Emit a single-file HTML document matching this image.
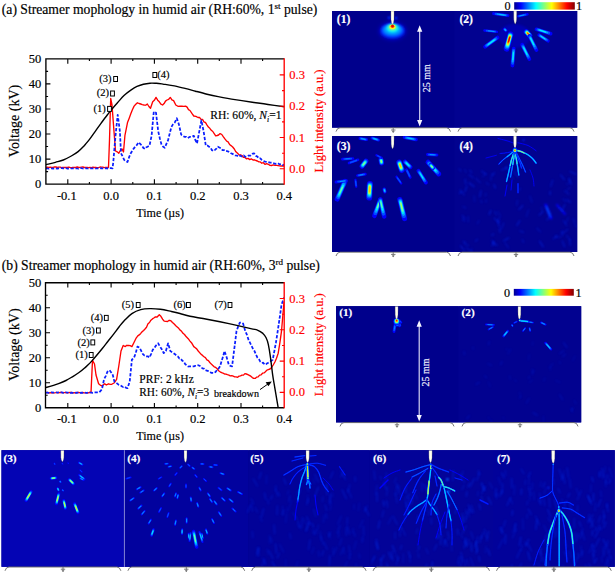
<!DOCTYPE html><html><head><meta charset="utf-8"><style>html,body{margin:0;padding:0;background:#fff;width:616px;height:575px;overflow:hidden}svg{display:block}text{stroke-width:0.18px}</style></head><body>
<svg width="616" height="575" viewBox="0 0 616 575">
<defs>
<linearGradient id="jet" x1="0" x2="1" y1="0" y2="0">
<stop offset="0" stop-color="#00008f"/><stop offset="0.11" stop-color="#0000ff"/><stop offset="0.36" stop-color="#00ffff"/><stop offset="0.62" stop-color="#ffff00"/><stop offset="0.87" stop-color="#ff0000"/><stop offset="1" stop-color="#800000"/>
</linearGradient>
<filter id="b1" filterUnits="userSpaceOnUse" x="0" y="0" width="616" height="575"><feGaussianBlur stdDeviation="1.2"/></filter>
<filter id="b2" filterUnits="userSpaceOnUse" x="0" y="0" width="616" height="575"><feGaussianBlur stdDeviation="0.7"/></filter>
<filter id="b3" filterUnits="userSpaceOnUse" x="0" y="0" width="616" height="575"><feGaussianBlur stdDeviation="2.2"/></filter>
<filter id="bs" filterUnits="userSpaceOnUse" x="0" y="0" width="616" height="575"><feGaussianBlur stdDeviation="0.85"/></filter>
<filter id="bf" filterUnits="userSpaceOnUse" x="0" y="0" width="616" height="575"><feGaussianBlur stdDeviation="0.45"/></filter>
<filter id="bm" filterUnits="userSpaceOnUse" x="0" y="0" width="616" height="575"><feGaussianBlur stdDeviation="1.1"/></filter>
</defs>
<text x="1.8" y="13.5" textLength="315.5" lengthAdjust="spacingAndGlyphs" style="font-family:'Liberation Serif',serif;font-size:13.6px" stroke="#000">(a) Streamer mophology in humid air (RH:60%, 1<tspan font-size="9" dy="-5">st</tspan><tspan dy="5"> pulse)</tspan></text>
<text x="1.8" y="270.1" textLength="318" lengthAdjust="spacingAndGlyphs" style="font-family:'Liberation Serif',serif;font-size:13.6px" stroke="#000">(b) Streamer mophology in humid air (RH:60%, 3<tspan font-size="9" dy="-5">rd</tspan><tspan dy="5"> pulse)</tspan></text>
<clipPath id="clip58"><rect x="45.9" y="58.9" width="238.29999999999998" height="125.19999999999999"/></clipPath>
<g clip-path="url(#clip58)" fill="none" stroke-linejoin="round">
<polyline points="46.0,167.3 47.4,167.1 48.8,167.3 50.3,167.2 51.7,167.4 53.1,167.4 54.5,167.0 55.9,167.0 57.4,167.5 58.8,167.1 60.2,167.1 61.6,167.6 63.0,167.3 64.5,167.5 65.9,167.3 67.3,167.4 68.7,167.1 70.1,167.4 71.6,167.6 73.0,167.3 74.4,167.5 75.8,167.4 77.2,167.0 78.7,167.5 80.1,167.4 81.5,167.2 82.9,167.0 84.4,167.5 85.8,167.3 87.2,167.4 88.6,167.6 90.0,167.4 91.5,167.6 92.9,167.2 94.3,167.5 95.7,167.3 97.1,167.6 98.6,167.6 100.0,167.0 101.4,167.1 102.8,167.1 104.2,167.6 105.7,167.3 107.1,167.4 108.5,167.3 109.5,140.0 110.7,98.5 112.0,105.0 113.5,125.0 115.5,151.0 117.2,151.8 118.8,153.2 120.0,151.0 122.0,148.9 123.5,152.0 124.9,135.7 127.5,122.6 129.2,118.2 130.8,113.8 132.4,109.8 134.1,106.1 135.8,104.2 137.4,102.8 139.1,103.5 140.7,104.0 142.3,104.6 144.0,105.0 145.7,105.2 147.3,104.0 148.9,106.5 150.5,108.3 152.7,101.8 154.3,100.3 156.0,97.4 157.7,100.2 159.3,101.8 160.9,104.2 162.6,105.0 164.1,103.6 165.5,101.1 167.0,100.0 168.7,99.3 170.3,97.4 171.9,99.8 173.6,100.6 175.8,105.0 177.9,106.3 180.0,106.2 181.9,106.2 183.7,106.3 185.6,106.2 187.1,107.1 188.5,109.6 190.0,110.5 191.9,113.4 193.8,116.0 195.9,116.4 198.0,117.5 199.5,117.4 201.0,119.3 202.5,119.3 204.0,122.0 205.4,122.3 206.9,124.8 208.4,127.1 209.8,128.3 211.3,130.3 212.8,131.5 214.2,133.6 215.7,135.8 217.2,135.5 218.6,135.0 220.1,133.6 221.8,134.5 223.4,136.9 225.1,139.2 226.7,141.2 228.1,141.9 229.6,144.5 231.0,145.6 232.7,147.0 234.3,149.0 235.9,151.8 237.6,153.3 239.1,154.9 240.5,154.8 242.0,155.5 243.5,157.4 244.9,157.4 246.4,158.8 248.1,158.4 249.7,159.6 251.3,158.9 253.0,160.0 254.5,159.8 255.9,160.5 257.4,161.0 258.9,161.9 260.3,161.9 261.8,163.2 263.4,162.7 265.1,164.4 266.7,163.7 268.3,164.3 270.0,165.4 271.6,165.5 273.3,164.9 275.0,165.4 276.5,165.4 278.0,165.6 279.5,165.9 281.0,166.0 282.5,166.0 284.0,166.0" stroke="#ff0000" stroke-width="1.35"/>
<polyline points="46.0,168.4 47.4,168.5 48.8,168.7 50.2,168.4 51.7,168.4 53.1,168.6 54.5,168.2 55.9,168.3 57.3,168.7 58.7,168.4 60.1,168.4 61.6,168.0 63.0,168.3 64.4,168.5 65.8,168.1 67.2,168.5 68.6,168.5 70.1,168.1 71.5,168.5 72.9,168.4 74.3,168.5 75.7,168.3 77.1,168.5 78.5,168.6 80.0,168.1 81.4,168.1 82.8,168.5 84.2,168.7 85.6,168.2 87.0,168.4 88.4,168.5 89.9,168.3 91.3,168.3 92.7,168.3 94.1,168.3 95.5,168.5 96.9,168.3 98.4,168.3 99.8,168.6 101.2,168.1 102.6,168.4 104.0,168.6 105.4,168.3 106.8,168.2 108.3,168.6 109.7,168.2 111.1,168.2 112.5,168.4 113.3,162.0 115.5,135.7 117.7,114.9 119.9,131.3 121.0,153.2 122.6,156.4 124.2,159.8 125.8,161.3 127.5,162.0 129.2,156.9 130.8,153.2 132.3,150.7 133.7,148.6 135.2,146.7 136.8,145.1 138.5,142.3 140.2,143.8 141.8,145.6 143.4,147.9 145.0,148.9 146.5,147.2 148.0,146.4 149.5,145.6 151.6,135.7 153.8,111.6 156.0,112.7 158.2,131.3 159.8,138.2 161.5,144.5 163.2,146.8 164.8,147.8 166.4,143.9 168.1,140.1 169.8,133.1 171.4,127.0 173.1,124.1 174.7,122.6 176.8,118.2 179.0,124.8 181.2,134.6 182.8,135.8 184.5,136.8 186.2,136.8 187.8,138.0 190.0,136.8 191.9,136.9 193.8,135.8 195.4,140.2 197.0,143.4 199.3,131.3 201.4,120.4 203.6,131.3 205.8,145.6 207.4,145.6 209.1,146.7 210.6,147.8 212.0,150.2 213.5,151.1 215.0,149.9 216.4,148.7 217.9,146.7 219.4,147.5 220.8,148.2 222.3,150.0 223.8,150.0 225.2,151.3 226.7,151.1 228.1,151.4 229.6,152.3 231.0,153.3 232.5,153.9 233.9,154.6 235.4,155.5 237.1,155.6 238.7,156.8 240.3,155.7 242.0,156.6 243.7,155.4 245.3,156.8 246.9,156.5 248.6,155.5 250.4,155.6 252.2,153.9 254.0,153.3 255.7,155.8 257.4,156.6 258.9,158.5 260.3,158.3 261.8,159.9 263.4,160.9 265.1,161.6 266.7,161.8 268.3,162.1 270.0,162.6 271.6,162.6 273.3,163.1 275.0,163.8 276.5,163.5 278.0,163.3 279.5,164.4 281.0,164.0 282.5,165.1 284.0,164.7" stroke="#0a1eff" stroke-width="1.75" stroke-dasharray="3.3,1.7"/>
<path d="M46.0,164.6 C47.6,164.2 52.5,163.1 55.4,162.3 C58.3,161.5 60.6,161.1 63.3,160.0 C66.0,158.9 68.8,157.4 71.3,156.0 C73.8,154.6 76.0,153.2 78.1,151.6 C80.2,150.0 81.9,148.2 83.8,146.2 C85.7,144.2 87.6,141.8 89.5,139.4 C91.4,137.0 93.2,134.2 95.1,131.6 C97.0,129.0 98.7,126.4 100.8,123.6 C102.9,120.8 105.8,116.8 107.6,114.5 C109.4,112.2 109.8,111.6 111.5,109.6 C113.2,107.6 115.4,105.0 117.5,102.7 C119.6,100.4 121.8,97.6 124.0,95.5 C126.2,93.4 128.3,91.8 130.5,90.3 C132.7,88.8 134.8,87.4 137.0,86.4 C139.2,85.4 141.2,84.7 143.4,84.2 C145.6,83.7 147.8,83.4 150.0,83.2 C152.2,83.0 154.2,83.2 156.4,83.3 C158.6,83.4 160.3,83.7 163.0,84.1 C165.7,84.5 169.0,84.9 172.7,85.6 C176.4,86.3 181.2,87.5 185.0,88.4 C188.8,89.3 191.8,90.2 195.5,91.2 C199.2,92.2 203.2,93.3 207.0,94.2 C210.8,95.1 213.5,95.7 218.2,96.6 C222.9,97.5 229.3,98.7 235.0,99.6 C240.7,100.5 246.8,101.4 252.3,102.2 C257.8,103.0 262.6,103.8 268.0,104.5 C273.4,105.2 281.8,106.3 284.5,106.7" stroke="#000" stroke-width="1.4"/>
</g>
<path d="M284.2,58.9 H45.9 V184.1 H284.2" fill="none" stroke="#000" stroke-width="1.35"/>
<path d="M284.2,58.3 V184.7" fill="none" stroke="#ff0000" stroke-width="1.35"/>
<path d="M67.8,184.1 v-4.8 M67.8,58.9 v4.8 M89.4,184.1 v-2.2 M89.4,58.9 v2.2 M111.1,184.1 v-4.8 M111.1,58.9 v4.8 M132.8,184.1 v-2.2 M132.8,58.9 v2.2 M154.4,184.1 v-4.8 M154.4,58.9 v4.8 M176.1,184.1 v-2.2 M176.1,58.9 v2.2 M197.7,184.1 v-4.8 M197.7,58.9 v4.8 M219.3,184.1 v-2.2 M219.3,58.9 v2.2 M241.0,184.1 v-4.8 M241.0,58.9 v4.8 M262.6,184.1 v-2.2 M262.6,58.9 v2.2 M45.9,171.6 h2.2 M45.9,159.1 h4.5 M45.9,146.5 h2.2 M45.9,134.0 h4.5 M45.9,121.5 h2.2 M45.9,109.0 h4.5 M45.9,96.5 h2.2 M45.9,83.9 h4.5 M45.9,71.4 h2.2" stroke="#000" stroke-width="1.1" fill="none"/>
<path d="M284.2,168.8 h-4.5 M284.2,153.2 h-2.2 M284.2,137.5 h-4.5 M284.2,121.9 h-2.2 M284.2,106.2 h-4.5 M284.2,90.6 h-2.2 M284.2,74.9 h-4.5" stroke="#ff0000" stroke-width="1.1" fill="none"/>
<g style="font-family:'Liberation Serif',serif;font-size:12.5px" fill="#000" stroke="#000" text-anchor="middle">
<text x="66.8" y="199.5">-0.1</text>
<text x="111.1" y="199.5">0.0</text>
<text x="154.4" y="199.5">0.1</text>
<text x="197.7" y="199.5">0.2</text>
<text x="241.0" y="199.5">0.3</text>
<text x="284.3" y="199.5">0.4</text>
</g>
<g style="font-family:'Liberation Serif',serif;font-size:12.5px" fill="#000" stroke="#000" text-anchor="end">
<text x="41.3" y="188.1">0</text>
<text x="41.3" y="163.1">10</text>
<text x="41.3" y="138.0">20</text>
<text x="41.3" y="113.0">30</text>
<text x="41.3" y="87.9">40</text>
<text x="41.3" y="62.9">50</text>
</g>
<g style="font-family:'Liberation Serif',serif;font-size:12.5px" fill="#ff0000" stroke="#ff0000" text-anchor="start">
<text x="289.3" y="172.8">0.0</text>
<text x="289.3" y="141.5">0.1</text>
<text x="289.3" y="110.2">0.2</text>
<text x="289.3" y="79.0">0.3</text>
</g>
<text x="136.3" y="216.5" textLength="47.7" lengthAdjust="spacingAndGlyphs" style="font-family:'Liberation Serif',serif;font-size:13.4px" stroke="#000">Time (&#181;s)</text>
<text transform="translate(18.6,121.0) rotate(-90)" text-anchor="middle" textLength="72.6" lengthAdjust="spacingAndGlyphs" style="font-family:'Liberation Serif',serif;font-size:14.5px" stroke="#000">Voltage (kV)</text>
<text transform="translate(322.9,121.0) rotate(-90)" text-anchor="middle" textLength="103" lengthAdjust="spacingAndGlyphs" fill="#ff0000" style="font-family:'Liberation Serif',serif;font-size:13px" stroke="#ff0000">Light intensity (a.u.)</text>
<g style="font-family:'Liberation Serif',serif;font-size:10.5px" fill="#000" stroke="#000">
<text x="93.6" y="111.6">(1)</text>
<rect x="107.6" y="106.4" width="3.8" height="5.0" fill="#fff" stroke="#000" stroke-width="1.0"/>
<text x="96.8" y="96.4">(2)</text>
<rect x="110.6" y="91.0" width="3.8" height="5.0" fill="#fff" stroke="#000" stroke-width="1.0"/>
<text x="99.3" y="81.6">(3)</text>
<rect x="113.7" y="76.5" width="3.8" height="5.0" fill="#fff" stroke="#000" stroke-width="1.0"/>
<text x="157.2" y="78.1">(4)</text>
<rect x="152.9" y="72.5" width="3.8" height="5.0" fill="#fff" stroke="#000" stroke-width="1.0"/>
</g>
<text x="210.2" y="119.1" textLength="71.3" lengthAdjust="spacingAndGlyphs" style="font-family:'Liberation Serif',serif;font-size:12.2px" stroke="#000">RH: 60%, <tspan font-style="italic">N</tspan><tspan font-size="8" dy="2.5" font-style="italic">i</tspan><tspan dy="-2.5">=1</tspan></text>

<clipPath id="clip282"><rect x="45.5" y="282.7" width="238.7" height="125.0"/></clipPath>
<g clip-path="url(#clip282)" fill="none" stroke-linejoin="round">
<polyline points="46.0,392.6 47.4,392.3 48.8,392.9 50.2,392.7 51.6,392.9 53.0,392.9 54.4,392.9 55.8,392.7 57.2,392.3 58.7,392.8 60.1,392.4 61.5,392.5 62.9,392.7 64.3,392.6 65.7,392.5 67.1,392.9 68.5,392.7 69.9,392.5 71.3,392.4 72.7,392.8 74.1,392.6 75.5,392.8 76.9,392.5 78.3,392.4 79.8,392.6 81.2,392.8 82.6,392.4 84.0,392.8 85.4,392.9 86.8,392.8 88.2,392.8 89.6,392.3 91.0,392.6 92.5,360.2 94.5,364.0 96.0,375.0 98.6,383.8 100.2,385.1 101.9,386.0 104.7,383.8 106.3,385.0 108.5,383.8 110.2,384.3 111.8,384.3 114.4,382.7 116.6,379.4 118.8,366.0 121.0,351.0 123.2,345.5 125.3,346.6 126.9,345.3 128.6,345.5 130.2,345.7 131.9,346.6 134.1,342.2 136.3,337.8 137.8,335.9 139.2,334.9 140.7,333.4 142.1,331.8 143.6,330.4 145.0,329.0 146.5,327.3 148.0,323.8 149.5,322.5 150.9,320.2 152.4,318.9 153.8,318.0 155.4,316.9 157.1,317.0 159.3,314.8 160.9,316.3 162.6,319.2 164.2,321.1 165.9,321.4 167.6,321.5 169.2,320.3 170.8,320.7 172.5,322.5 174.2,324.1 175.8,325.7 177.2,326.9 178.7,328.3 180.1,330.1 181.6,331.3 183.0,333.3 184.5,334.5 186.3,336.8 188.2,338.7 190.0,341.1 191.9,343.3 193.8,346.6 195.3,347.8 196.7,348.9 198.2,351.0 199.6,352.6 201.1,354.3 202.5,355.4 204.0,356.7 205.4,357.6 206.9,359.8 208.4,360.7 209.8,362.5 211.3,364.1 212.8,365.4 214.2,366.8 215.7,367.4 217.2,368.7 218.6,370.8 220.1,371.8 221.6,372.7 223.0,373.2 224.5,374.0 226.0,374.1 227.4,374.7 228.9,375.1 230.3,375.8 231.8,375.7 233.2,376.2 234.7,376.9 236.1,376.9 237.6,377.3 239.1,376.1 240.5,375.9 242.0,375.1 243.5,375.1 244.9,373.6 246.4,374.0 247.9,374.6 249.3,375.3 250.8,376.2 252.3,377.6 253.7,378.4 255.2,378.4 256.7,377.1 258.1,376.9 259.6,375.1 261.1,374.9 262.5,373.2 264.0,372.9 265.4,371.7 266.9,370.1 268.3,369.6 270.0,369.0 271.6,367.4 273.2,365.0 274.9,362.0 276.5,358.3 278.2,353.2 279.9,342.7 281.5,331.2 284.0,302.0" stroke="#ff0000" stroke-width="1.35"/>
<polyline points="46.0,392.6 47.4,392.7 48.8,392.8 50.3,392.6 51.7,392.3 53.1,392.7 54.5,392.2 56.0,392.3 57.4,392.8 58.8,392.3 60.2,392.3 61.6,392.3 63.1,392.9 64.5,392.4 65.9,392.3 67.3,392.8 68.7,392.3 70.2,392.8 71.6,392.7 73.0,392.8 74.4,392.9 75.9,392.7 77.3,392.8 78.7,392.3 80.1,392.8 81.5,392.6 83.0,392.8 84.4,392.3 85.8,392.8 87.2,392.9 88.6,392.3 90.1,392.5 91.5,392.6 92.9,392.8 94.3,392.4 95.8,392.4 97.2,392.4 98.6,392.6 100.3,391.2 102.0,389.3 104.0,379.4 105.7,376.1 107.4,371.8 109.6,370.2 111.2,372.4 112.8,375.0 114.4,381.6 115.9,382.5 117.3,383.6 118.8,384.9 120.3,385.4 121.7,386.2 123.2,387.1 124.6,386.7 126.1,387.8 127.5,388.2 129.7,381.6 131.9,359.7 134.1,357.5 135.8,352.9 137.4,346.6 139.6,347.7 141.2,350.8 142.9,354.2 144.6,355.7 146.2,356.4 147.8,356.3 149.5,357.5 151.1,354.0 152.7,349.9 154.3,348.2 156.0,345.5 158.2,343.3 159.8,346.4 161.5,348.8 163.7,353.2 165.9,351.0 168.1,343.3 170.3,351.0 171.9,352.1 173.6,353.2 175.0,354.2 176.5,355.6 177.9,356.4 179.4,358.6 180.8,358.7 182.3,360.8 183.8,361.5 185.2,364.2 186.7,365.2 188.3,366.5 190.0,366.3 191.9,366.3 193.8,366.3 195.3,365.8 196.7,366.0 198.2,365.2 199.6,365.7 201.1,367.0 202.5,368.5 204.0,368.7 205.4,370.1 206.9,370.7 208.4,371.1 209.8,371.7 211.3,372.9 212.8,372.9 214.2,373.0 215.7,371.8 217.2,369.6 218.6,368.5 220.1,366.3 221.6,361.0 223.0,356.7 224.5,351.0 226.7,357.5 228.9,365.2 230.5,365.9 232.1,366.3 234.3,348.8 236.5,331.2 238.2,326.4 239.8,322.5 241.4,322.5 243.1,323.6 245.3,331.2 246.9,334.7 248.6,340.0 250.1,342.9 251.5,345.7 253.0,348.8 254.5,351.1 255.9,354.4 257.4,357.6 258.9,359.1 260.3,361.7 261.8,363.0 263.2,362.7 264.7,364.6 266.1,364.1 267.8,363.0 269.4,361.9 271.0,361.0 272.7,359.8 274.4,350.9 276.0,342.2 277.6,331.9 279.3,320.3 281.5,304.9 284.0,297.5" stroke="#0a1eff" stroke-width="1.75" stroke-dasharray="3.3,1.7"/>
<path d="M46.0,387.5 C48.1,386.9 55.3,384.8 58.6,383.6 C61.9,382.4 63.6,381.7 66.0,380.5 C68.4,379.3 71.0,377.6 73.2,376.3 C75.4,375.0 77.0,373.9 79.0,372.5 C81.0,371.1 82.7,369.8 84.9,367.8 C87.1,365.8 89.3,363.9 92.2,360.6 C95.1,357.4 99.9,351.5 102.5,348.3 C105.1,345.1 106.0,343.7 108.0,341.2 C110.0,338.7 112.4,335.8 114.2,333.4 C116.0,331.0 117.3,329.1 119.0,327.0 C120.7,324.9 122.2,322.7 124.4,320.5 C126.6,318.3 129.2,315.5 131.9,313.7 C134.6,311.9 137.8,310.5 140.7,309.7 C143.6,308.9 146.2,308.7 149.5,308.6 C152.8,308.5 156.8,308.8 160.4,309.3 C164.1,309.8 168.1,310.8 171.4,311.5 C174.7,312.2 176.9,312.7 180.0,313.5 C183.1,314.3 185.5,315.4 190.0,316.3 C194.5,317.2 200.4,318.0 206.9,319.2 C213.4,320.4 221.6,322.0 228.9,323.6 C236.2,325.2 246.1,327.5 250.8,328.6 C255.6,329.7 255.4,329.3 257.4,330.1 C259.4,330.9 261.4,332.1 262.9,333.4 C264.3,334.7 265.2,336.0 266.1,337.8 C267.0,339.6 267.6,341.1 268.3,344.4 C269.0,347.7 269.8,352.5 270.5,357.6 C271.2,362.7 272.0,370.0 272.7,375.1 C273.4,380.2 274.2,383.9 274.9,388.3 C275.6,392.7 276.5,397.9 277.1,401.4 C277.7,404.8 278.2,407.7 278.4,409.0" stroke="#000" stroke-width="1.4"/>
</g>
<path d="M284.2,282.7 H45.5 V407.7 H284.2" fill="none" stroke="#000" stroke-width="1.35"/>
<path d="M284.2,282.09999999999997 V408.3" fill="none" stroke="#ff0000" stroke-width="1.35"/>
<path d="M67.8,407.7 v-4.8 M67.8,282.7 v4.8 M89.4,407.7 v-2.2 M89.4,282.7 v2.2 M111.1,407.7 v-4.8 M111.1,282.7 v4.8 M132.8,407.7 v-2.2 M132.8,282.7 v2.2 M154.4,407.7 v-4.8 M154.4,282.7 v4.8 M176.1,407.7 v-2.2 M176.1,282.7 v2.2 M197.7,407.7 v-4.8 M197.7,282.7 v4.8 M219.3,407.7 v-2.2 M219.3,282.7 v2.2 M241.0,407.7 v-4.8 M241.0,282.7 v4.8 M262.6,407.7 v-2.2 M262.6,282.7 v2.2 M45.5,395.2 h2.2 M45.5,382.7 h4.5 M45.5,370.2 h2.2 M45.5,357.7 h4.5 M45.5,345.2 h2.2 M45.5,332.7 h4.5 M45.5,320.2 h2.2 M45.5,307.7 h4.5 M45.5,295.2 h2.2" stroke="#000" stroke-width="1.1" fill="none"/>
<path d="M284.2,392.4 h-4.5 M284.2,376.8 h-2.2 M284.2,361.1 h-4.5 M284.2,345.5 h-2.2 M284.2,329.8 h-4.5 M284.2,314.2 h-2.2 M284.2,298.5 h-4.5" stroke="#ff0000" stroke-width="1.1" fill="none"/>
<g style="font-family:'Liberation Serif',serif;font-size:12.5px" fill="#000" stroke="#000" text-anchor="middle">
<text x="66.8" y="423.1">-0.1</text>
<text x="111.1" y="423.1">0.0</text>
<text x="154.4" y="423.1">0.1</text>
<text x="197.7" y="423.1">0.2</text>
<text x="241.0" y="423.1">0.3</text>
<text x="284.3" y="423.1">0.4</text>
</g>
<g style="font-family:'Liberation Serif',serif;font-size:12.5px" fill="#000" stroke="#000" text-anchor="end">
<text x="41.3" y="411.7">0</text>
<text x="41.3" y="386.7">10</text>
<text x="41.3" y="361.7">20</text>
<text x="41.3" y="336.7">30</text>
<text x="41.3" y="311.7">40</text>
<text x="41.3" y="286.7">50</text>
</g>
<g style="font-family:'Liberation Serif',serif;font-size:12.5px" fill="#ff0000" stroke="#ff0000" text-anchor="start">
<text x="289.3" y="396.4">0.0</text>
<text x="289.3" y="365.1">0.1</text>
<text x="289.3" y="333.8">0.2</text>
<text x="289.3" y="302.6">0.3</text>
</g>
<text x="136.3" y="440.09999999999997" textLength="47.7" lengthAdjust="spacingAndGlyphs" style="font-family:'Liberation Serif',serif;font-size:13.4px" stroke="#000">Time (&#181;s)</text>
<text transform="translate(18.6,344.7) rotate(-90)" text-anchor="middle" textLength="72.6" lengthAdjust="spacingAndGlyphs" style="font-family:'Liberation Serif',serif;font-size:14.5px" stroke="#000">Voltage (kV)</text>
<text transform="translate(322.9,344.7) rotate(-90)" text-anchor="middle" textLength="103" lengthAdjust="spacingAndGlyphs" fill="#ff0000" style="font-family:'Liberation Serif',serif;font-size:13px" stroke="#ff0000">Light intensity (a.u.)</text>
<g style="font-family:'Liberation Serif',serif;font-size:10.5px" fill="#000" stroke="#000">
<text x="75.4" y="357.8">(1)</text>
<rect x="89.3" y="352.5" width="3.8" height="5.0" fill="#fff" stroke="#000" stroke-width="1.0"/>
<text x="77.6" y="345.6">(2)</text>
<rect x="90.9" y="339.9" width="3.8" height="5.0" fill="#fff" stroke="#000" stroke-width="1.0"/>
<text x="82.6" y="333.6">(3)</text>
<rect x="96.5" y="328.0" width="3.8" height="5.0" fill="#fff" stroke="#000" stroke-width="1.0"/>
<text x="90.7" y="320.6">(4)</text>
<rect x="104.4" y="315.4" width="3.8" height="5.0" fill="#fff" stroke="#000" stroke-width="1.0"/>
<text x="121.8" y="308.4">(5)</text>
<rect x="136.3" y="302.5" width="3.8" height="5.0" fill="#fff" stroke="#000" stroke-width="1.0"/>
<text x="173.4" y="308.4">(6)</text>
<rect x="186.5" y="302.5" width="3.8" height="5.0" fill="#fff" stroke="#000" stroke-width="1.0"/>
<text x="214.4" y="308.4">(7)</text>
<rect x="228.1" y="302.5" width="3.8" height="5.0" fill="#fff" stroke="#000" stroke-width="1.0"/>
</g>
<text x="139.3" y="383.3" textLength="54.5" lengthAdjust="spacingAndGlyphs" style="font-family:'Liberation Serif',serif;font-size:12.2px" stroke="#000">PRF: 2 kHz</text><text x="139.3" y="396.2" textLength="69.8" lengthAdjust="spacingAndGlyphs" style="font-family:'Liberation Serif',serif;font-size:12.2px" stroke="#000">RH: 60%, <tspan font-style="italic">N</tspan><tspan font-size="8" dy="2.5" font-style="italic">i</tspan><tspan dy="-2.5">=3</tspan></text><text x="214" y="396.6" textLength="45" lengthAdjust="spacingAndGlyphs" style="font-family:'Liberation Serif',serif;font-size:10.3px" stroke="#000">breakdown</text><path d="M260,389.6 L268.5,383.6" stroke="#000" stroke-width="1"/><path d="M271.8,381.4 L265.6,382.2 L268.4,386.2 Z" fill="#000"/>

<rect x="514.2" y="2.2" width="60.6" height="7.4" fill="url(#jet)"/>
<text x="504.6" y="10.4" style="font-family:'Liberation Serif',serif;font-size:12.2px" stroke="#000">0</text><text x="576" y="10.4" style="font-family:'Liberation Serif',serif;font-size:12.2px" stroke="#000">1</text>
<rect x="513.8" y="288.9" width="60" height="6.8" fill="url(#jet)"/>
<text x="504" y="296.6" style="font-family:'Liberation Serif',serif;font-size:12.2px" stroke="#000">0</text><text x="575.4" y="296.6" style="font-family:'Liberation Serif',serif;font-size:12.2px" stroke="#000">1</text>
<rect x="332" y="11" width="245.2" height="116.6" fill="#00008c"/><rect x="332" y="136" width="245.2" height="116" fill="#00008c"/>
<rect x="332" y="11" width="122.30000000000001" height="116.6" fill="#00008c"/><text x="336.8" y="23.0" fill="#fff" style="font-family:'Liberation Serif',serif;font-size:11.6px;font-weight:bold" stroke="#fff">(1)</text>
<rect x="454.3" y="11" width="122.90000000000003" height="116.6" fill="#020290"/><text x="459.4" y="23.0" fill="#fff" style="font-family:'Liberation Serif',serif;font-size:11.6px;font-weight:bold" stroke="#fff">(2)</text>
<rect x="332" y="136" width="122.30000000000001" height="116" fill="#00008c"/><text x="336.8" y="150.0" fill="#fff" style="font-family:'Liberation Serif',serif;font-size:11.6px;font-weight:bold" stroke="#fff">(3)</text>
<rect x="454.3" y="136" width="122.90000000000003" height="116" fill="#02028f"/><text x="459.4" y="150.0" fill="#fff" style="font-family:'Liberation Serif',serif;font-size:11.6px;font-weight:bold" stroke="#fff">(4)</text>
<clipPath id="cpa"><rect x="332" y="11" width="245.2" height="116.6"/><rect x="332" y="136" width="245.2" height="116"/></clipPath><g clip-path="url(#cpa)"><g filter="url(#bs)" opacity="1.00"><ellipse cx="389.2" cy="17.9" rx="1.70" ry="1.30" fill="#0000ff"/><ellipse cx="389.2" cy="17.9" rx="1.03" ry="0.79" fill="#0050ff"/></g>
<g filter="url(#bs)" opacity="1.00"><ellipse cx="395.9" cy="18.1" rx="1.70" ry="1.30" fill="#0000ff"/><ellipse cx="395.9" cy="18.1" rx="1.03" ry="0.79" fill="#0050ff"/></g>
<ellipse cx="392.5" cy="31.0" rx="13" ry="8.5" fill="#0010f0" opacity="0.9" filter="url(#b3)"/><ellipse cx="392.5" cy="30.6" rx="11.5" ry="7.2" fill="#0040ff" opacity="1" filter="url(#bm)"/><ellipse cx="392.5" cy="29.8" rx="9.5" ry="5.8" fill="#0090ff" opacity="1" filter="url(#bm)"/><ellipse cx="392.5" cy="28.6" rx="6.4" ry="4.2" fill="#00e8ff" opacity="1" filter="url(#bs)"/><ellipse cx="392.5" cy="27.6" rx="4.4" ry="3.1" fill="#70ffa0" opacity="1" filter="url(#bs)"/><ellipse cx="392.5" cy="26.9" rx="3.1" ry="2.4" fill="#f8f020" opacity="1" filter="url(#b2)"/><ellipse cx="392.5" cy="26.3" rx="1.8" ry="1.6" fill="#ff4000" opacity="1" filter="url(#bf)"/><ellipse cx="392.5" cy="26.0" rx="1.2" ry="1.2" fill="#e00000" opacity="1" filter="url(#bf)"/>
<path d="M390.90,11 L394.10,11 L394.00,19.43 Q393.78,23.40 392.50,24.6 Q391.22,23.40 391.00,19.43 Z" fill="#fffff2" stroke="#4a4a40" stroke-width="0.35" stroke-opacity="0.75"/>
<path d="M419.7,30.3 V121.6" stroke="#dcdcf4" stroke-width="1.15"/><path d="M417.09999999999997,31.8 L419.7,25.3 L422.3,31.8 Z M417.09999999999997,120.1 L419.7,126.6 L422.3,120.1 Z" fill="#f4f4ff"/><text transform="translate(430.2,78.3) rotate(-90)" text-anchor="middle" textLength="28" lengthAdjust="spacingAndGlyphs" fill="#f4f4ff" stroke="#f4f4ff" stroke-width="0.3" style="font-family:'Liberation Serif',serif;font-size:11.4px">25 mm</text>
<g filter="url(#bm)" opacity="0.30"><ellipse cx="514.5" cy="36.0" rx="16.00" ry="12.00" fill="#0000ff"/></g>
<g filter="url(#bf)" opacity="1.00"><path d="M493.6,13.6 L507.9,15.5" fill="none" stroke="#0000ff" stroke-width="2.96" stroke-linecap="round" stroke-linejoin="round"/><path d="M495.7,13.9 L506.5,15.3" fill="none" stroke="#0050ff" stroke-width="2.13" stroke-linecap="round" stroke-linejoin="round"/><path d="M497.5,14.1 L505.3,15.2" fill="none" stroke="#00a0ff" stroke-width="1.44" stroke-linecap="round" stroke-linejoin="round"/><path d="M499.8,14.4 L503.8,15.0" fill="none" stroke="#00e8ff" stroke-width="0.55" stroke-linecap="round" stroke-linejoin="round"/></g>
<g filter="url(#bf)" opacity="1.00"><path d="M518.3,16.2 L527.4,14.2" fill="none" stroke="#0000ff" stroke-width="2.60" stroke-linecap="round" stroke-linejoin="round"/><path d="M519.1,16.0 L525.6,14.6" fill="none" stroke="#0050ff" stroke-width="1.76" stroke-linecap="round" stroke-linejoin="round"/><path d="M519.8,15.9 L523.9,15.0" fill="none" stroke="#00a0ff" stroke-width="0.98" stroke-linecap="round" stroke-linejoin="round"/></g>
<g filter="url(#bf)" opacity="1.00"><path d="M484.5,30.5 L496.8,31.8" fill="none" stroke="#0000ff" stroke-width="2.60" stroke-linecap="round" stroke-linejoin="round"/><path d="M486.6,30.7 L495.4,31.7" fill="none" stroke="#0050ff" stroke-width="1.76" stroke-linecap="round" stroke-linejoin="round"/><path d="M488.5,30.9 L494.1,31.5" fill="none" stroke="#00a0ff" stroke-width="0.98" stroke-linecap="round" stroke-linejoin="round"/></g>
<g filter="url(#bf)" opacity="1.00"><path d="M497.5,37.6 L485.1,46.7" fill="none" stroke="#0000ff" stroke-width="3.81" stroke-linecap="round" stroke-linejoin="round"/><path d="M496.2,38.6 L486.4,45.7" fill="none" stroke="#0050ff" stroke-width="2.88" stroke-linecap="round" stroke-linejoin="round"/><path d="M495.1,39.3 L487.5,45.0" fill="none" stroke="#00a0ff" stroke-width="2.15" stroke-linecap="round" stroke-linejoin="round"/><path d="M494.1,40.1 L488.5,44.2" fill="none" stroke="#00e8ff" stroke-width="1.42" stroke-linecap="round" stroke-linejoin="round"/></g>
<g filter="url(#bf)" opacity="1.00"><path d="M510.5,34.4 L506.6,48.7" fill="none" stroke="#0000ff" stroke-width="5.84" stroke-linecap="round" stroke-linejoin="round"/><path d="M510.3,35.0 L507.0,47.2" fill="none" stroke="#0050ff" stroke-width="4.85" stroke-linecap="round" stroke-linejoin="round"/><path d="M510.2,35.5 L507.3,46.2" fill="none" stroke="#00a0ff" stroke-width="4.18" stroke-linecap="round" stroke-linejoin="round"/><path d="M510.1,35.8 L507.5,45.4" fill="none" stroke="#00e8ff" stroke-width="3.62" stroke-linecap="round" stroke-linejoin="round"/><path d="M510.0,36.2 L507.7,44.6" fill="none" stroke="#70ffa0" stroke-width="3.12" stroke-linecap="round" stroke-linejoin="round"/><path d="M509.9,36.5 L507.9,43.9" fill="none" stroke="#d8ff28" stroke-width="2.64" stroke-linecap="round" stroke-linejoin="round"/><path d="M509.8,36.8 L508.1,43.1" fill="none" stroke="#ffc000" stroke-width="2.15" stroke-linecap="round" stroke-linejoin="round"/><path d="M509.8,37.1 L508.3,42.3" fill="none" stroke="#ff5000" stroke-width="1.61" stroke-linecap="round" stroke-linejoin="round"/><path d="M509.7,37.5 L508.6,41.5" fill="none" stroke="#e00000" stroke-width="1.08" stroke-linecap="round" stroke-linejoin="round"/></g>
<g filter="url(#bf)" opacity="1.00"><path d="M504.6,29.2 L505.9,30.5" fill="none" stroke="#0000ff" stroke-width="3.18" stroke-linecap="round" stroke-linejoin="round"/><path d="M504.8,29.4 L505.7,30.3" fill="none" stroke="#0050ff" stroke-width="2.28" stroke-linecap="round" stroke-linejoin="round"/><path d="M504.9,29.5 L505.6,30.2" fill="none" stroke="#00a0ff" stroke-width="1.54" stroke-linecap="round" stroke-linejoin="round"/><path d="M505.1,29.7 L505.4,30.0" fill="none" stroke="#00e8ff" stroke-width="0.59" stroke-linecap="round" stroke-linejoin="round"/></g>
<g filter="url(#bf)" opacity="1.00"><path d="M513.7,48.7 L512.4,65.5" fill="none" stroke="#0000ff" stroke-width="3.76" stroke-linecap="round" stroke-linejoin="round"/><path d="M513.6,50.2 L512.6,63.3" fill="none" stroke="#0050ff" stroke-width="2.81" stroke-linecap="round" stroke-linejoin="round"/><path d="M513.5,51.4 L512.7,61.5" fill="none" stroke="#00a0ff" stroke-width="2.06" stroke-linecap="round" stroke-linejoin="round"/><path d="M513.4,52.6 L512.9,59.7" fill="none" stroke="#00e8ff" stroke-width="1.28" stroke-linecap="round" stroke-linejoin="round"/></g>
<g filter="url(#bf)" opacity="1.00"><path d="M522.2,44.8 L529.3,59.0" fill="none" stroke="#0000ff" stroke-width="3.81" stroke-linecap="round" stroke-linejoin="round"/><path d="M522.8,46.0 L528.4,57.2" fill="none" stroke="#0050ff" stroke-width="2.88" stroke-linecap="round" stroke-linejoin="round"/><path d="M523.3,47.0 L527.7,55.7" fill="none" stroke="#00a0ff" stroke-width="2.15" stroke-linecap="round" stroke-linejoin="round"/><path d="M523.8,47.9 L526.9,54.3" fill="none" stroke="#00e8ff" stroke-width="1.42" stroke-linecap="round" stroke-linejoin="round"/></g>
<g filter="url(#bf)" opacity="1.00"><path d="M526.2,31.8 L529.8,35.5" fill="none" stroke="#0000ff" stroke-width="5.21" stroke-linecap="round" stroke-linejoin="round"/><path d="M526.5,32.1 L529.5,35.2" fill="none" stroke="#0050ff" stroke-width="4.30" stroke-linecap="round" stroke-linejoin="round"/><path d="M526.7,32.3 L529.3,35.0" fill="none" stroke="#00a0ff" stroke-width="3.67" stroke-linecap="round" stroke-linejoin="round"/><path d="M526.8,32.4 L529.2,34.9" fill="none" stroke="#00e8ff" stroke-width="3.14" stroke-linecap="round" stroke-linejoin="round"/><path d="M527.0,32.6 L529.0,34.7" fill="none" stroke="#70ffa0" stroke-width="2.66" stroke-linecap="round" stroke-linejoin="round"/><path d="M527.1,32.7 L528.9,34.6" fill="none" stroke="#d8ff28" stroke-width="2.19" stroke-linecap="round" stroke-linejoin="round"/><path d="M527.3,32.9 L528.7,34.4" fill="none" stroke="#ffc000" stroke-width="1.69" stroke-linecap="round" stroke-linejoin="round"/><path d="M527.5,33.1 L528.5,34.2" fill="none" stroke="#ff5000" stroke-width="1.09" stroke-linecap="round" stroke-linejoin="round"/></g>
<g filter="url(#bf)" opacity="1.00"><path d="M529.5,36.0 L536.4,50.0" fill="none" stroke="#0000ff" stroke-width="3.81" stroke-linecap="round" stroke-linejoin="round"/><path d="M529.9,36.9 L535.4,47.9" fill="none" stroke="#0050ff" stroke-width="2.88" stroke-linecap="round" stroke-linejoin="round"/><path d="M530.3,37.6 L534.5,46.2" fill="none" stroke="#00a0ff" stroke-width="2.15" stroke-linecap="round" stroke-linejoin="round"/><path d="M530.6,38.3 L533.7,44.6" fill="none" stroke="#00e8ff" stroke-width="1.42" stroke-linecap="round" stroke-linejoin="round"/></g>
<g filter="url(#bf)" opacity="1.00"><path d="M536.4,29.2 L550.7,33.7" fill="none" stroke="#0000ff" stroke-width="3.54" stroke-linecap="round" stroke-linejoin="round"/><path d="M537.7,29.6 L548.8,33.1" fill="none" stroke="#0050ff" stroke-width="2.65" stroke-linecap="round" stroke-linejoin="round"/><path d="M538.7,29.9 L547.3,32.6" fill="none" stroke="#00a0ff" stroke-width="1.94" stroke-linecap="round" stroke-linejoin="round"/><path d="M539.7,30.2 L545.7,32.1" fill="none" stroke="#00e8ff" stroke-width="1.21" stroke-linecap="round" stroke-linejoin="round"/></g>
<g filter="url(#bf)" opacity="1.00"><path d="M539.0,35.0 L548.1,40.9" fill="none" stroke="#0000ff" stroke-width="3.28" stroke-linecap="round" stroke-linejoin="round"/><path d="M539.8,35.5 L546.8,40.1" fill="none" stroke="#0050ff" stroke-width="2.42" stroke-linecap="round" stroke-linejoin="round"/><path d="M540.5,36.0 L545.8,39.4" fill="none" stroke="#00a0ff" stroke-width="1.73" stroke-linecap="round" stroke-linejoin="round"/><path d="M541.2,36.4 L544.7,38.7" fill="none" stroke="#00e8ff" stroke-width="0.99" stroke-linecap="round" stroke-linejoin="round"/></g>
<path d="M513.70,11 L516.70,11 L516.60,19.18 Q516.40,23.00 515.20,24.2 Q514.00,23.00 513.80,19.18 Z" fill="#fffff2" stroke="#4a4a40" stroke-width="0.35" stroke-opacity="0.75"/>
<path d="M391.10,136 L394.10,136 L394.00,144.06 Q393.80,147.80 392.60,149 Q391.40,147.80 391.20,144.06 Z" fill="#fffff2" stroke="#4a4a40" stroke-width="0.35" stroke-opacity="0.75"/>
<g filter="url(#bf)" opacity="1.00"><path d="M337.2,199.0 L345.0,181.3" fill="none" stroke="#0000ff" stroke-width="5.08" stroke-linecap="round" stroke-linejoin="round"/><path d="M338.0,197.2 L344.2,183.1" fill="none" stroke="#0050ff" stroke-width="3.91" stroke-linecap="round" stroke-linejoin="round"/><path d="M338.6,195.9 L343.6,184.4" fill="none" stroke="#00a0ff" stroke-width="3.03" stroke-linecap="round" stroke-linejoin="round"/><path d="M339.1,194.6 L343.1,185.7" fill="none" stroke="#00e8ff" stroke-width="2.19" stroke-linecap="round" stroke-linejoin="round"/><path d="M339.8,193.1 L342.4,187.2" fill="none" stroke="#70ffa0" stroke-width="1.20" stroke-linecap="round" stroke-linejoin="round"/></g>
<g filter="url(#bf)" opacity="1.00"><path d="M336.0,182.0 L346.4,180.7" fill="none" stroke="#0000ff" stroke-width="2.79" stroke-linecap="round" stroke-linejoin="round"/><path d="M338.1,181.7 L345.5,180.8" fill="none" stroke="#0050ff" stroke-width="1.86" stroke-linecap="round" stroke-linejoin="round"/><path d="M340.2,181.5 L344.6,180.9" fill="none" stroke="#00a0ff" stroke-width="0.98" stroke-linecap="round" stroke-linejoin="round"/></g>
<g filter="url(#bf)" opacity="1.00"><path d="M362.0,166.3 L366.0,161.1" fill="none" stroke="#0000ff" stroke-width="5.00" stroke-linecap="round" stroke-linejoin="round"/><path d="M362.4,165.8 L365.6,161.6" fill="none" stroke="#0050ff" stroke-width="3.91" stroke-linecap="round" stroke-linejoin="round"/><path d="M362.7,165.4 L365.3,162.0" fill="none" stroke="#00a0ff" stroke-width="3.11" stroke-linecap="round" stroke-linejoin="round"/><path d="M362.9,165.1 L365.1,162.3" fill="none" stroke="#00e8ff" stroke-width="2.38" stroke-linecap="round" stroke-linejoin="round"/><path d="M363.2,164.7 L364.8,162.7" fill="none" stroke="#70ffa0" stroke-width="1.59" stroke-linecap="round" stroke-linejoin="round"/></g>
<g filter="url(#bf)" opacity="1.00"><path d="M381.0,159.8 L381.6,163.0" fill="none" stroke="#0000ff" stroke-width="5.04" stroke-linecap="round" stroke-linejoin="round"/><path d="M381.1,160.1 L381.5,162.7" fill="none" stroke="#0050ff" stroke-width="3.97" stroke-linecap="round" stroke-linejoin="round"/><path d="M381.1,160.3 L381.5,162.5" fill="none" stroke="#00a0ff" stroke-width="3.18" stroke-linecap="round" stroke-linejoin="round"/><path d="M381.1,160.5 L381.5,162.3" fill="none" stroke="#00e8ff" stroke-width="2.47" stroke-linecap="round" stroke-linejoin="round"/><path d="M381.2,160.7 L381.4,162.1" fill="none" stroke="#70ffa0" stroke-width="1.73" stroke-linecap="round" stroke-linejoin="round"/><path d="M381.2,161.0 L381.4,161.8" fill="none" stroke="#d8ff28" stroke-width="0.68" stroke-linecap="round" stroke-linejoin="round"/></g>
<g filter="url(#bf)" opacity="1.00"><path d="M399.2,162.5 L401.8,170.0" fill="none" stroke="#0000ff" stroke-width="5.80" stroke-linecap="round" stroke-linejoin="round"/><path d="M399.4,163.0 L401.5,169.3" fill="none" stroke="#0050ff" stroke-width="4.72" stroke-linecap="round" stroke-linejoin="round"/><path d="M399.5,163.3 L401.4,168.7" fill="none" stroke="#00a0ff" stroke-width="3.95" stroke-linecap="round" stroke-linejoin="round"/><path d="M399.6,163.6 L401.2,168.3" fill="none" stroke="#00e8ff" stroke-width="3.31" stroke-linecap="round" stroke-linejoin="round"/><path d="M399.7,163.9 L401.1,167.9" fill="none" stroke="#70ffa0" stroke-width="2.70" stroke-linecap="round" stroke-linejoin="round"/><path d="M399.8,164.2 L400.9,167.5" fill="none" stroke="#d8ff28" stroke-width="2.07" stroke-linecap="round" stroke-linejoin="round"/><path d="M399.9,164.5 L400.7,166.9" fill="none" stroke="#ffc000" stroke-width="1.33" stroke-linecap="round" stroke-linejoin="round"/></g>
<g filter="url(#bf)" opacity="1.00"><path d="M405.0,161.7 L410.3,167.0" fill="none" stroke="#0000ff" stroke-width="4.34" stroke-linecap="round" stroke-linejoin="round"/><path d="M405.6,162.3 L409.7,166.4" fill="none" stroke="#0050ff" stroke-width="3.28" stroke-linecap="round" stroke-linejoin="round"/><path d="M406.0,162.7 L409.3,166.0" fill="none" stroke="#00a0ff" stroke-width="2.45" stroke-linecap="round" stroke-linejoin="round"/><path d="M406.5,163.2 L408.8,165.5" fill="none" stroke="#00e8ff" stroke-width="1.62" stroke-linecap="round" stroke-linejoin="round"/></g>
<g filter="url(#bf)" opacity="1.00"><path d="M406.4,169.6 L410.3,177.4" fill="none" stroke="#0000ff" stroke-width="2.61" stroke-linecap="round" stroke-linejoin="round"/><path d="M407.1,170.9 L409.6,176.1" fill="none" stroke="#0050ff" stroke-width="1.58" stroke-linecap="round" stroke-linejoin="round"/></g>
<g filter="url(#bf)" opacity="1.00"><path d="M369.9,184.0 L369.2,197.5" fill="none" stroke="#0000ff" stroke-width="6.06" stroke-linecap="round" stroke-linejoin="round"/><path d="M369.9,184.8 L369.3,196.1" fill="none" stroke="#0050ff" stroke-width="4.95" stroke-linecap="round" stroke-linejoin="round"/><path d="M369.8,185.3 L369.3,195.1" fill="none" stroke="#00a0ff" stroke-width="4.16" stroke-linecap="round" stroke-linejoin="round"/><path d="M369.8,185.8 L369.4,194.2" fill="none" stroke="#00e8ff" stroke-width="3.50" stroke-linecap="round" stroke-linejoin="round"/><path d="M369.8,186.2 L369.4,193.4" fill="none" stroke="#70ffa0" stroke-width="2.88" stroke-linecap="round" stroke-linejoin="round"/><path d="M369.8,186.6 L369.5,192.7" fill="none" stroke="#d8ff28" stroke-width="2.25" stroke-linecap="round" stroke-linejoin="round"/><path d="M369.7,187.1 L369.5,191.7" fill="none" stroke="#ffc000" stroke-width="1.53" stroke-linecap="round" stroke-linejoin="round"/></g>
<g filter="url(#bf)" opacity="1.00"><path d="M380.3,199.6 L374.4,215.8" fill="none" stroke="#0000ff" stroke-width="4.54" stroke-linecap="round" stroke-linejoin="round"/><path d="M380.1,200.2 L375.3,213.3" fill="none" stroke="#0050ff" stroke-width="3.53" stroke-linecap="round" stroke-linejoin="round"/><path d="M379.9,200.7 L376.0,211.4" fill="none" stroke="#00a0ff" stroke-width="2.78" stroke-linecap="round" stroke-linejoin="round"/><path d="M379.7,201.1 L376.6,209.6" fill="none" stroke="#00e8ff" stroke-width="2.09" stroke-linecap="round" stroke-linejoin="round"/><path d="M379.6,201.6 L377.3,207.7" fill="none" stroke="#70ffa0" stroke-width="1.32" stroke-linecap="round" stroke-linejoin="round"/></g>
<g filter="url(#bf)" opacity="1.00"><path d="M380.3,199.6 L384.2,216.6" fill="none" stroke="#0000ff" stroke-width="4.47" stroke-linecap="round" stroke-linejoin="round"/><path d="M380.5,200.3 L383.6,213.9" fill="none" stroke="#0050ff" stroke-width="3.44" stroke-linecap="round" stroke-linejoin="round"/><path d="M380.6,200.8 L383.1,211.8" fill="none" stroke="#00a0ff" stroke-width="2.66" stroke-linecap="round" stroke-linejoin="round"/><path d="M380.7,201.3 L382.6,209.8" fill="none" stroke="#00e8ff" stroke-width="1.93" stroke-linecap="round" stroke-linejoin="round"/><path d="M380.8,201.9 L382.1,207.5" fill="none" stroke="#70ffa0" stroke-width="1.06" stroke-linecap="round" stroke-linejoin="round"/></g>
<g filter="url(#bf)" opacity="1.00"><path d="M399.9,199.6 L404.5,218.5" fill="none" stroke="#0000ff" stroke-width="5.25" stroke-linecap="round" stroke-linejoin="round"/><path d="M400.2,200.7 L403.9,216.0" fill="none" stroke="#0050ff" stroke-width="4.14" stroke-linecap="round" stroke-linejoin="round"/><path d="M400.3,201.4 L403.5,214.2" fill="none" stroke="#00a0ff" stroke-width="3.31" stroke-linecap="round" stroke-linejoin="round"/><path d="M400.5,202.1 L403.1,212.6" fill="none" stroke="#00e8ff" stroke-width="2.57" stroke-linecap="round" stroke-linejoin="round"/><path d="M400.7,202.9 L402.6,210.9" fill="none" stroke="#70ffa0" stroke-width="1.80" stroke-linecap="round" stroke-linejoin="round"/><path d="M401.0,203.9 L402.0,208.4" fill="none" stroke="#d8ff28" stroke-width="0.70" stroke-linecap="round" stroke-linejoin="round"/></g>
<g filter="url(#bf)" opacity="1.00"><path d="M384.2,189.2 L384.9,191.8" fill="none" stroke="#0000ff" stroke-width="3.35" stroke-linecap="round" stroke-linejoin="round"/><path d="M384.3,189.5 L384.8,191.5" fill="none" stroke="#0050ff" stroke-width="2.41" stroke-linecap="round" stroke-linejoin="round"/><path d="M384.4,189.8 L384.7,191.2" fill="none" stroke="#00a0ff" stroke-width="1.62" stroke-linecap="round" stroke-linejoin="round"/><path d="M384.5,190.1 L384.6,190.9" fill="none" stroke="#00e8ff" stroke-width="0.62" stroke-linecap="round" stroke-linejoin="round"/></g>
<g filter="url(#bf)" opacity="1.00"><path d="M355.5,180.0 L356.2,186.6" fill="none" stroke="#0000ff" stroke-width="2.28" stroke-linecap="round" stroke-linejoin="round"/><path d="M355.6,181.1 L356.1,185.5" fill="none" stroke="#0050ff" stroke-width="1.39" stroke-linecap="round" stroke-linejoin="round"/></g>
<g filter="url(#bf)" opacity="1.00"><path d="M357.5,175.5 L365.3,174.2" fill="none" stroke="#0000ff" stroke-width="2.72" stroke-linecap="round" stroke-linejoin="round"/><path d="M358.7,175.3 L364.1,174.4" fill="none" stroke="#0050ff" stroke-width="1.76" stroke-linecap="round" stroke-linejoin="round"/><path d="M360.0,175.1 L362.8,174.6" fill="none" stroke="#00a0ff" stroke-width="0.77" stroke-linecap="round" stroke-linejoin="round"/></g>
<g filter="url(#bf)" opacity="1.00"><path d="M342.4,159.1 L352.9,158.5" fill="none" stroke="#0000ff" stroke-width="2.68" stroke-linecap="round" stroke-linejoin="round"/><path d="M344.1,159.0 L351.2,158.6" fill="none" stroke="#0050ff" stroke-width="1.71" stroke-linecap="round" stroke-linejoin="round"/><path d="M345.9,158.9 L349.4,158.7" fill="none" stroke="#00a0ff" stroke-width="0.63" stroke-linecap="round" stroke-linejoin="round"/></g>
<g filter="url(#bf)" opacity="1.00"><path d="M349.0,163.0 L358.0,159.8" fill="none" stroke="#0000ff" stroke-width="2.61" stroke-linecap="round" stroke-linejoin="round"/><path d="M350.6,162.4 L356.4,160.4" fill="none" stroke="#0050ff" stroke-width="1.58" stroke-linecap="round" stroke-linejoin="round"/></g>
<g filter="url(#bf)" opacity="1.00"><path d="M376.4,155.2 L381.6,157.8" fill="none" stroke="#0000ff" stroke-width="2.08" stroke-linecap="round" stroke-linejoin="round"/><path d="M377.6,155.8 L380.4,157.2" fill="none" stroke="#0050ff" stroke-width="1.03" stroke-linecap="round" stroke-linejoin="round"/></g>
<g filter="url(#bf)" opacity="1.00"><path d="M396.6,176.8 L401.2,183.3" fill="none" stroke="#0000ff" stroke-width="2.28" stroke-linecap="round" stroke-linejoin="round"/><path d="M397.4,177.9 L400.4,182.2" fill="none" stroke="#0050ff" stroke-width="1.39" stroke-linecap="round" stroke-linejoin="round"/></g>
<g filter="url(#bf)" opacity="1.00"><path d="M360.0,138.5 L366.6,139.5" fill="none" stroke="#0000ff" stroke-width="2.93" stroke-linecap="round" stroke-linejoin="round"/><path d="M360.9,138.6 L365.7,139.4" fill="none" stroke="#0050ff" stroke-width="2.07" stroke-linecap="round" stroke-linejoin="round"/><path d="M361.6,138.7 L365.0,139.3" fill="none" stroke="#00a0ff" stroke-width="1.34" stroke-linecap="round" stroke-linejoin="round"/></g>
<g filter="url(#bf)" opacity="1.00"><path d="M372.0,138.0 L378.5,140.0" fill="none" stroke="#0000ff" stroke-width="2.98" stroke-linecap="round" stroke-linejoin="round"/><path d="M372.8,138.2 L377.7,139.8" fill="none" stroke="#0050ff" stroke-width="2.14" stroke-linecap="round" stroke-linejoin="round"/><path d="M373.5,138.5 L377.0,139.5" fill="none" stroke="#00a0ff" stroke-width="1.44" stroke-linecap="round" stroke-linejoin="round"/><path d="M374.3,138.7 L376.2,139.3" fill="none" stroke="#00e8ff" stroke-width="0.55" stroke-linecap="round" stroke-linejoin="round"/></g>
<g filter="url(#bf)" opacity="1.00"><path d="M404.4,137.4 L416.2,139.5" fill="none" stroke="#0000ff" stroke-width="3.35" stroke-linecap="round" stroke-linejoin="round"/><path d="M405.9,137.7 L414.7,139.2" fill="none" stroke="#0050ff" stroke-width="2.41" stroke-linecap="round" stroke-linejoin="round"/><path d="M407.1,137.9 L413.5,139.0" fill="none" stroke="#00a0ff" stroke-width="1.62" stroke-linecap="round" stroke-linejoin="round"/><path d="M408.6,138.2 L412.0,138.7" fill="none" stroke="#00e8ff" stroke-width="0.62" stroke-linecap="round" stroke-linejoin="round"/></g>
<g filter="url(#bf)" opacity="1.00"><path d="M428.0,162.2 L438.8,174.0" fill="none" stroke="#0000ff" stroke-width="4.87" stroke-linecap="round" stroke-linejoin="round"/><path d="M428.9,163.2 L437.5,172.6" fill="none" stroke="#0050ff" stroke-width="3.76" stroke-linecap="round" stroke-linejoin="round"/><path d="M429.5,163.9 L436.5,171.5" fill="none" stroke="#00a0ff" stroke-width="2.91" stroke-linecap="round" stroke-linejoin="round"/><path d="M430.2,164.6 L435.6,170.5" fill="none" stroke="#00e8ff" stroke-width="2.11" stroke-linecap="round" stroke-linejoin="round"/><path d="M430.9,165.4 L434.4,169.2" fill="none" stroke="#70ffa0" stroke-width="1.15" stroke-linecap="round" stroke-linejoin="round"/></g>
<g filter="url(#bf)" opacity="1.00"><path d="M430.5,165.0 L433.0,168.0" fill="none" stroke="#0000ff" stroke-width="4.20" stroke-linecap="round" stroke-linejoin="round"/><path d="M430.7,165.3 L432.8,167.7" fill="none" stroke="#0050ff" stroke-width="3.31" stroke-linecap="round" stroke-linejoin="round"/><path d="M430.9,165.5 L432.6,167.5" fill="none" stroke="#00a0ff" stroke-width="2.65" stroke-linecap="round" stroke-linejoin="round"/><path d="M431.1,165.7 L432.4,167.3" fill="none" stroke="#00e8ff" stroke-width="2.06" stroke-linecap="round" stroke-linejoin="round"/><path d="M431.2,165.9 L432.3,167.1" fill="none" stroke="#70ffa0" stroke-width="1.44" stroke-linecap="round" stroke-linejoin="round"/><path d="M431.5,166.1 L432.0,166.9" fill="none" stroke="#d8ff28" stroke-width="0.56" stroke-linecap="round" stroke-linejoin="round"/></g>
<g filter="url(#bf)" opacity="1.00"><path d="M418.4,170.8 L425.9,182.6" fill="none" stroke="#0000ff" stroke-width="3.82" stroke-linecap="round" stroke-linejoin="round"/><path d="M419.1,171.9 L424.8,180.9" fill="none" stroke="#0050ff" stroke-width="2.80" stroke-linecap="round" stroke-linejoin="round"/><path d="M419.7,172.8 L424.0,179.6" fill="none" stroke="#00a0ff" stroke-width="1.98" stroke-linecap="round" stroke-linejoin="round"/><path d="M420.3,173.8 L423.0,178.1" fill="none" stroke="#00e8ff" stroke-width="1.07" stroke-linecap="round" stroke-linejoin="round"/></g>
<g filter="url(#bf)" opacity="1.00"><path d="M427.5,154.5 L437.0,155.0" fill="none" stroke="#0000ff" stroke-width="2.79" stroke-linecap="round" stroke-linejoin="round"/><path d="M428.9,154.6 L435.6,154.9" fill="none" stroke="#0050ff" stroke-width="1.86" stroke-linecap="round" stroke-linejoin="round"/><path d="M430.2,154.6 L434.3,154.9" fill="none" stroke="#00a0ff" stroke-width="0.98" stroke-linecap="round" stroke-linejoin="round"/></g>
<g><path d="M485.6,173.8 L482.7,176.5" fill="none" stroke="#0a30ff" stroke-width="1.3" stroke-linecap="round" filter="url(#bs)" opacity="0.24"/><path d="M505.0,243.0 L508.6,247.9" fill="none" stroke="#0a30ff" stroke-width="1.3" stroke-linecap="round" filter="url(#bs)" opacity="0.27"/><path d="M520.8,188.5 L518.5,190.2" fill="none" stroke="#0a30ff" stroke-width="1.3" stroke-linecap="round" filter="url(#bs)" opacity="0.27"/><path d="M566.5,235.5 L570.5,240.0" fill="none" stroke="#0a30ff" stroke-width="1.3" stroke-linecap="round" filter="url(#bs)" opacity="0.27"/><path d="M494.3,218.3 L498.5,222.0" fill="none" stroke="#0a30ff" stroke-width="1.3" stroke-linecap="round" filter="url(#bs)" opacity="0.42"/><path d="M468.1,216.5 L468.2,221.9" fill="none" stroke="#0a30ff" stroke-width="1.3" stroke-linecap="round" filter="url(#bs)" opacity="0.27"/><path d="M513.4,172.6 L518.5,176.9" fill="none" stroke="#0a30ff" stroke-width="1.3" stroke-linecap="round" filter="url(#bs)" opacity="0.35"/><path d="M493.1,242.3 L497.0,245.2" fill="none" stroke="#0a30ff" stroke-width="1.3" stroke-linecap="round" filter="url(#bs)" opacity="0.42"/><path d="M517.5,200.2 L516.7,205.1" fill="none" stroke="#0a30ff" stroke-width="1.3" stroke-linecap="round" filter="url(#bs)" opacity="0.26"/><path d="M493.7,234.1 L491.7,235.1" fill="none" stroke="#0a30ff" stroke-width="1.3" stroke-linecap="round" filter="url(#bs)" opacity="0.37"/><path d="M490.8,210.4 L489.2,214.5" fill="none" stroke="#0a30ff" stroke-width="1.3" stroke-linecap="round" filter="url(#bs)" opacity="0.45"/><path d="M480.9,200.1 L481.8,202.9" fill="none" stroke="#0a30ff" stroke-width="1.3" stroke-linecap="round" filter="url(#bs)" opacity="0.29"/><path d="M499.6,228.5 L500.1,232.1" fill="none" stroke="#0a30ff" stroke-width="1.3" stroke-linecap="round" filter="url(#bs)" opacity="0.43"/><path d="M469.8,170.2 L471.7,172.8" fill="none" stroke="#0a30ff" stroke-width="1.3" stroke-linecap="round" filter="url(#bs)" opacity="0.36"/><path d="M485.8,193.1 L485.5,196.0" fill="none" stroke="#0a30ff" stroke-width="1.3" stroke-linecap="round" filter="url(#bs)" opacity="0.23"/><path d="M539.6,241.2 L543.2,246.9" fill="none" stroke="#0a30ff" stroke-width="1.3" stroke-linecap="round" filter="url(#bs)" opacity="0.44"/><path d="M460.1,189.6 L464.3,195.0" fill="none" stroke="#0a30ff" stroke-width="1.3" stroke-linecap="round" filter="url(#bs)" opacity="0.32"/><path d="M568.4,217.7 L565.5,223.1" fill="none" stroke="#0a30ff" stroke-width="1.3" stroke-linecap="round" filter="url(#bs)" opacity="0.27"/><path d="M510.0,176.6 L513.5,178.3" fill="none" stroke="#0a30ff" stroke-width="1.3" stroke-linecap="round" filter="url(#bs)" opacity="0.3"/><path d="M459.1,168.8 L460.9,171.0" fill="none" stroke="#0a30ff" stroke-width="1.3" stroke-linecap="round" filter="url(#bs)" opacity="0.31"/><path d="M492.0,173.3 L490.7,180.0" fill="none" stroke="#0a30ff" stroke-width="1.3" stroke-linecap="round" filter="url(#bs)" opacity="0.27"/><path d="M464.9,169.7 L466.1,172.3" fill="none" stroke="#0a30ff" stroke-width="1.3" stroke-linecap="round" filter="url(#bs)" opacity="0.26"/><path d="M462.8,206.7 L465.8,207.9" fill="none" stroke="#0a30ff" stroke-width="1.3" stroke-linecap="round" filter="url(#bs)" opacity="0.25"/><path d="M519.9,230.8 L523.6,232.3" fill="none" stroke="#0a30ff" stroke-width="1.3" stroke-linecap="round" filter="url(#bs)" opacity="0.33"/><path d="M486.3,199.9 L485.9,202.0" fill="none" stroke="#0a30ff" stroke-width="1.3" stroke-linecap="round" filter="url(#bs)" opacity="0.28"/><path d="M562.0,235.6 L558.0,237.6" fill="none" stroke="#0a30ff" stroke-width="1.3" stroke-linecap="round" filter="url(#bs)" opacity="0.28"/><path d="M486.4,182.7 L488.8,184.7" fill="none" stroke="#0a30ff" stroke-width="1.3" stroke-linecap="round" filter="url(#bs)" opacity="0.26"/><path d="M464.0,243.9 L468.5,245.7" fill="none" stroke="#0a30ff" stroke-width="1.3" stroke-linecap="round" filter="url(#bs)" opacity="0.32"/><path d="M563.4,220.6 L566.7,225.5" fill="none" stroke="#0a30ff" stroke-width="1.3" stroke-linecap="round" filter="url(#bs)" opacity="0.34"/><path d="M468.9,182.9 L474.1,186.6" fill="none" stroke="#0a30ff" stroke-width="1.3" stroke-linecap="round" filter="url(#bs)" opacity="0.43"/><path d="M497.4,220.8 L499.4,226.5" fill="none" stroke="#0a30ff" stroke-width="1.3" stroke-linecap="round" filter="url(#bs)" opacity="0.41"/><path d="M519.8,220.7 L516.9,225.3" fill="none" stroke="#0a30ff" stroke-width="1.3" stroke-linecap="round" filter="url(#bs)" opacity="0.43"/><path d="M569.9,171.3 L576.0,174.4" fill="none" stroke="#0a30ff" stroke-width="1.3" stroke-linecap="round" filter="url(#bs)" opacity="0.38"/><path d="M463.2,241.4 L465.6,242.6" fill="none" stroke="#0a30ff" stroke-width="1.3" stroke-linecap="round" filter="url(#bs)" opacity="0.38"/><path d="M465.1,179.2 L465.9,184.3" fill="none" stroke="#0a30ff" stroke-width="1.3" stroke-linecap="round" filter="url(#bs)" opacity="0.39"/><path d="M566.5,183.6 L568.2,184.6" fill="none" stroke="#0a30ff" stroke-width="1.3" stroke-linecap="round" filter="url(#bs)" opacity="0.23"/><path d="M560.5,174.9 L564.3,179.6" fill="none" stroke="#0a30ff" stroke-width="1.3" stroke-linecap="round" filter="url(#bs)" opacity="0.42"/><path d="M522.4,239.7 L523.6,242.4" fill="none" stroke="#0a30ff" stroke-width="1.3" stroke-linecap="round" filter="url(#bs)" opacity="0.3"/><path d="M562.3,230.8 L562.6,235.1" fill="none" stroke="#0a30ff" stroke-width="1.3" stroke-linecap="round" filter="url(#bs)" opacity="0.23"/><path d="M462.0,215.5 L465.4,218.4" fill="none" stroke="#0a30ff" stroke-width="1.3" stroke-linecap="round" filter="url(#bs)" opacity="0.36"/><path d="M474.2,195.8 L474.6,201.6" fill="none" stroke="#0a30ff" stroke-width="1.3" stroke-linecap="round" filter="url(#bs)" opacity="0.23"/><path d="M556.0,235.3 L556.3,237.8" fill="none" stroke="#0a30ff" stroke-width="1.3" stroke-linecap="round" filter="url(#bs)" opacity="0.31"/><path d="M550.1,191.4 L550.0,194.6" fill="none" stroke="#0a30ff" stroke-width="1.3" stroke-linecap="round" filter="url(#bs)" opacity="0.44"/><path d="M469.1,174.7 L473.2,177.8" fill="none" stroke="#0a30ff" stroke-width="1.3" stroke-linecap="round" filter="url(#bs)" opacity="0.34"/><path d="M508.8,237.9 L503.7,240.9" fill="none" stroke="#0a30ff" stroke-width="1.3" stroke-linecap="round" filter="url(#bs)" opacity="0.42"/><path d="M480.9,190.7 L479.8,196.8" fill="none" stroke="#0a30ff" stroke-width="1.3" stroke-linecap="round" filter="url(#bs)" opacity="0.4"/><path d="M477.6,239.3 L475.4,241.2" fill="none" stroke="#0a30ff" stroke-width="1.3" stroke-linecap="round" filter="url(#bs)" opacity="0.34"/><path d="M497.6,211.1 L500.8,216.8" fill="none" stroke="#0a30ff" stroke-width="1.3" stroke-linecap="round" filter="url(#bs)" opacity="0.23"/><path d="M494.5,211.3 L496.7,215.2" fill="none" stroke="#0a30ff" stroke-width="1.3" stroke-linecap="round" filter="url(#bs)" opacity="0.33"/><path d="M466.9,185.9 L464.8,191.7" fill="none" stroke="#0a30ff" stroke-width="1.3" stroke-linecap="round" filter="url(#bs)" opacity="0.4"/><path d="M573.3,218.3 L574.7,223.5" fill="none" stroke="#0a30ff" stroke-width="1.3" stroke-linecap="round" filter="url(#bs)" opacity="0.3"/><path d="M564.8,204.7 L561.8,210.6" fill="none" stroke="#0a30ff" stroke-width="1.3" stroke-linecap="round" filter="url(#bs)" opacity="0.42"/><path d="M550.1,217.1 L546.9,219.8" fill="none" stroke="#0a30ff" stroke-width="1.3" stroke-linecap="round" filter="url(#bs)" opacity="0.4"/><path d="M500.4,221.3 L498.1,222.7" fill="none" stroke="#0a30ff" stroke-width="1.3" stroke-linecap="round" filter="url(#bs)" opacity="0.26"/><path d="M552.7,180.1 L550.7,186.3" fill="none" stroke="#0a30ff" stroke-width="1.3" stroke-linecap="round" filter="url(#bs)" opacity="0.35"/><path d="M499.0,217.8 L498.4,220.2" fill="none" stroke="#0a30ff" stroke-width="1.3" stroke-linecap="round" filter="url(#bs)" opacity="0.44"/><path d="M479.0,220.6 L477.3,223.8" fill="none" stroke="#0a30ff" stroke-width="1.3" stroke-linecap="round" filter="url(#bs)" opacity="0.23"/><path d="M460.4,245.7 L464.4,250.3" fill="none" stroke="#0a30ff" stroke-width="1.3" stroke-linecap="round" filter="url(#bs)" opacity="0.41"/><path d="M569.5,178.5 L569.5,183.4" fill="none" stroke="#0a30ff" stroke-width="1.3" stroke-linecap="round" filter="url(#bs)" opacity="0.35"/><path d="M567.7,229.6 L562.3,233.8" fill="none" stroke="#0a30ff" stroke-width="1.3" stroke-linecap="round" filter="url(#bs)" opacity="0.37"/><path d="M537.0,228.3 L540.7,231.9" fill="none" stroke="#0a30ff" stroke-width="1.3" stroke-linecap="round" filter="url(#bs)" opacity="0.29"/><path d="M566.6,199.5 L570.6,202.4" fill="none" stroke="#0a30ff" stroke-width="1.3" stroke-linecap="round" filter="url(#bs)" opacity="0.38"/><path d="M494.2,184.6 L495.3,188.0" fill="none" stroke="#0a30ff" stroke-width="1.3" stroke-linecap="round" filter="url(#bs)" opacity="0.45"/><path d="M563.2,199.0 L565.9,201.9" fill="none" stroke="#0a30ff" stroke-width="1.3" stroke-linecap="round" filter="url(#bs)" opacity="0.29"/><path d="M506.2,166.1 L506.4,169.0" fill="none" stroke="#0a30ff" stroke-width="1.3" stroke-linecap="round" filter="url(#bs)" opacity="0.38"/><path d="M529.9,196.0 L531.9,202.4" fill="none" stroke="#0a30ff" stroke-width="1.3" stroke-linecap="round" filter="url(#bs)" opacity="0.26"/><path d="M465.9,247.8 L471.8,251.5" fill="none" stroke="#0a30ff" stroke-width="1.3" stroke-linecap="round" filter="url(#bs)" opacity="0.36"/><path d="M494.5,172.8 L492.5,175.3" fill="none" stroke="#0a30ff" stroke-width="1.3" stroke-linecap="round" filter="url(#bs)" opacity="0.43"/><path d="M562.4,231.1 L560.8,233.3" fill="none" stroke="#0a30ff" stroke-width="1.3" stroke-linecap="round" filter="url(#bs)" opacity="0.29"/><path d="M568.9,178.9 L571.4,184.3" fill="none" stroke="#0a30ff" stroke-width="1.3" stroke-linecap="round" filter="url(#bs)" opacity="0.35"/><path d="M570.2,187.3 L566.9,190.4" fill="none" stroke="#0a30ff" stroke-width="1.3" stroke-linecap="round" filter="url(#bs)" opacity="0.25"/><path d="M461.7,191.9 L459.4,193.2" fill="none" stroke="#0a30ff" stroke-width="1.3" stroke-linecap="round" filter="url(#bs)" opacity="0.45"/><path d="M491.8,240.7 L494.7,245.4" fill="none" stroke="#0a30ff" stroke-width="1.3" stroke-linecap="round" filter="url(#bs)" opacity="0.37"/><path d="M569.5,239.7 L570.3,245.2" fill="none" stroke="#0a30ff" stroke-width="1.3" stroke-linecap="round" filter="url(#bs)" opacity="0.38"/><path d="M542.7,212.0 L539.3,215.0" fill="none" stroke="#0a30ff" stroke-width="1.3" stroke-linecap="round" filter="url(#bs)" opacity="0.41"/><path d="M514.7,170.8 L516.9,172.5" fill="none" stroke="#0a30ff" stroke-width="1.3" stroke-linecap="round" filter="url(#bs)" opacity="0.28"/><path d="M503.8,223.0 L501.3,228.8" fill="none" stroke="#0a30ff" stroke-width="1.3" stroke-linecap="round" filter="url(#bs)" opacity="0.31"/><path d="M507.5,167.4 L501.7,170.0" fill="none" stroke="#0a30ff" stroke-width="1.3" stroke-linecap="round" filter="url(#bs)" opacity="0.44"/><path d="M475.8,178.3 L480.2,182.8" fill="none" stroke="#0a30ff" stroke-width="1.3" stroke-linecap="round" filter="url(#bs)" opacity="0.28"/><path d="M522.8,205.5 L518.9,209.6" fill="none" stroke="#0a30ff" stroke-width="1.3" stroke-linecap="round" filter="url(#bs)" opacity="0.41"/><path d="M574.6,225.0 L580.3,228.3" fill="none" stroke="#0a30ff" stroke-width="1.3" stroke-linecap="round" filter="url(#bs)" opacity="0.31"/><path d="M557.2,235.9 L553.2,238.8" fill="none" stroke="#0a30ff" stroke-width="1.3" stroke-linecap="round" filter="url(#bs)" opacity="0.36"/><path d="M564.7,190.9 L568.9,194.0" fill="none" stroke="#0a30ff" stroke-width="1.3" stroke-linecap="round" filter="url(#bs)" opacity="0.36"/><path d="M462.4,218.7 L464.8,220.9" fill="none" stroke="#0a30ff" stroke-width="1.3" stroke-linecap="round" filter="url(#bs)" opacity="0.37"/><path d="M494.0,241.1 L492.0,245.9" fill="none" stroke="#0a30ff" stroke-width="1.3" stroke-linecap="round" filter="url(#bs)" opacity="0.41"/><path d="M562.3,240.9 L564.7,246.9" fill="none" stroke="#0a30ff" stroke-width="1.3" stroke-linecap="round" filter="url(#bs)" opacity="0.38"/><path d="M528.7,209.8 L526.4,216.3" fill="none" stroke="#0a30ff" stroke-width="1.3" stroke-linecap="round" filter="url(#bs)" opacity="0.24"/><path d="M541.5,207.3 L542.6,211.9" fill="none" stroke="#0a30ff" stroke-width="1.3" stroke-linecap="round" filter="url(#bs)" opacity="0.28"/><path d="M481.5,171.1 L486.4,174.4" fill="none" stroke="#0a30ff" stroke-width="1.3" stroke-linecap="round" filter="url(#bs)" opacity="0.38"/><path d="M471.7,248.2 L471.8,254.3" fill="none" stroke="#0a30ff" stroke-width="1.3" stroke-linecap="round" filter="url(#bs)" opacity="0.23"/></g>
<g filter="url(#bf)" opacity="1.00"><path d="M514.9,150.0 C515.9,150.2 518.9,150.8 521.0,151.5 C523.1,152.2 525.6,153.3 527.5,154.5 C529.4,155.7 531.1,157.1 532.5,158.5 C533.9,159.9 535.4,162.2 536.0,163.0" fill="none" stroke="#0000ff" stroke-width="1.79" stroke-linecap="round" stroke-linejoin="round"/><path d="M514.9,150.0 C515.9,150.2 518.9,150.8 521.0,151.5 C523.1,152.2 525.6,153.3 527.5,154.5 C529.4,155.7 531.1,157.1 532.5,158.5 C533.9,159.9 535.4,162.2 536.0,163.0" fill="none" stroke="#0050ff" stroke-width="1.35" stroke-linecap="round" stroke-linejoin="round"/><path d="M514.9,150.0 C515.9,150.2 518.9,150.8 521.0,151.5 C523.1,152.2 525.6,153.3 527.5,154.5 C529.4,155.7 531.1,157.1 532.5,158.5 C533.9,159.9 535.4,162.2 536.0,163.0" fill="none" stroke="#00a0ff" stroke-width="1.01" stroke-linecap="round" stroke-linejoin="round"/><path d="M514.9,150.0 C515.9,150.2 518.9,150.8 521.0,151.5 C523.1,152.2 525.6,153.3 527.5,154.5 C529.4,155.7 531.1,157.1 532.5,158.5 C533.9,159.9 535.4,162.2 536.0,163.0" fill="none" stroke="#00e8ff" stroke-width="0.67" stroke-linecap="round" stroke-linejoin="round"/></g>
<g filter="url(#bf)" opacity="1.00"><path d="M514.9,150.0 C515.9,150.2 519.4,151.0 521.0,151.5 C522.6,152.0 523.7,152.8 524.2,153.0" fill="none" stroke="#0000ff" stroke-width="1.93" stroke-linecap="round" stroke-linejoin="round"/><path d="M514.9,150.0 C515.9,150.2 519.4,151.0 521.0,151.5 C522.6,152.0 523.7,152.8 524.2,153.0" fill="none" stroke="#0050ff" stroke-width="1.54" stroke-linecap="round" stroke-linejoin="round"/><path d="M514.9,150.0 C515.9,150.2 519.4,151.0 521.0,151.5 C522.6,152.0 523.7,152.8 524.2,153.0" fill="none" stroke="#00a0ff" stroke-width="1.24" stroke-linecap="round" stroke-linejoin="round"/><path d="M514.9,150.0 C515.9,150.2 519.4,151.0 521.0,151.5 C522.6,152.0 523.7,152.8 524.2,153.0" fill="none" stroke="#00e8ff" stroke-width="0.99" stroke-linecap="round" stroke-linejoin="round"/><path d="M514.9,150.0 C515.9,150.2 519.4,151.0 521.0,151.5 C522.6,152.0 523.7,152.8 524.2,153.0" fill="none" stroke="#70ffa0" stroke-width="0.72" stroke-linecap="round" stroke-linejoin="round"/><path d="M514.9,150.0 C515.9,150.2 519.4,151.0 521.0,151.5 C522.6,152.0 523.7,152.8 524.2,153.0" fill="none" stroke="#d8ff28" stroke-width="0.40" stroke-linecap="round" stroke-linejoin="round"/></g>
<g filter="url(#bf)" opacity="1.00"><path d="M514.9,150.0 C514.1,150.8 511.8,153.0 510.0,154.5 C508.2,156.0 505.8,157.4 504.0,159.0 C502.2,160.6 499.8,163.2 499.0,164.0" fill="none" stroke="#0000ff" stroke-width="1.41" stroke-linecap="round" stroke-linejoin="round"/><path d="M514.9,150.0 C514.1,150.8 511.8,153.0 510.0,154.5 C508.2,156.0 505.8,157.4 504.0,159.0 C502.2,160.6 499.8,163.2 499.0,164.0" fill="none" stroke="#0050ff" stroke-width="0.93" stroke-linecap="round" stroke-linejoin="round"/><path d="M514.9,150.0 C514.1,150.8 511.8,153.0 510.0,154.5 C508.2,156.0 505.8,157.4 504.0,159.0 C502.2,160.6 499.8,163.2 499.0,164.0" fill="none" stroke="#00a0ff" stroke-width="0.45" stroke-linecap="round" stroke-linejoin="round"/></g>
<g filter="url(#bf)" opacity="1.00"><path d="M514.9,150.0 C514.1,150.8 511.3,153.4 510.0,154.5 C508.7,155.6 507.5,156.4 507.0,156.8" fill="none" stroke="#0000ff" stroke-width="1.60" stroke-linecap="round" stroke-linejoin="round"/><path d="M514.9,150.0 C514.1,150.8 511.3,153.4 510.0,154.5 C508.7,155.6 507.5,156.4 507.0,156.8" fill="none" stroke="#0050ff" stroke-width="1.20" stroke-linecap="round" stroke-linejoin="round"/><path d="M514.9,150.0 C514.1,150.8 511.3,153.4 510.0,154.5 C508.7,155.6 507.5,156.4 507.0,156.8" fill="none" stroke="#00a0ff" stroke-width="0.89" stroke-linecap="round" stroke-linejoin="round"/><path d="M514.9,150.0 C514.1,150.8 511.3,153.4 510.0,154.5 C508.7,155.6 507.5,156.4 507.0,156.8" fill="none" stroke="#00e8ff" stroke-width="0.57" stroke-linecap="round" stroke-linejoin="round"/></g>
<g filter="url(#bf)" opacity="1.00"><path d="M514.9,150.0 C514.3,151.7 512.5,156.5 511.5,160.0 C510.5,163.5 509.8,167.4 509.0,171.0 C508.2,174.6 506.9,179.8 506.5,181.5" fill="none" stroke="#0000ff" stroke-width="1.72" stroke-linecap="round" stroke-linejoin="round"/><path d="M514.9,150.0 C514.3,151.7 512.5,156.5 511.5,160.0 C510.5,163.5 509.8,167.4 509.0,171.0 C508.2,174.6 506.9,179.8 506.5,181.5" fill="none" stroke="#0050ff" stroke-width="1.26" stroke-linecap="round" stroke-linejoin="round"/><path d="M514.9,150.0 C514.3,151.7 512.5,156.5 511.5,160.0 C510.5,163.5 509.8,167.4 509.0,171.0 C508.2,174.6 506.9,179.8 506.5,181.5" fill="none" stroke="#00a0ff" stroke-width="0.88" stroke-linecap="round" stroke-linejoin="round"/><path d="M514.9,150.0 C514.3,151.7 512.5,156.5 511.5,160.0 C510.5,163.5 509.8,167.4 509.0,171.0 C508.2,174.6 506.9,179.8 506.5,181.5" fill="none" stroke="#00e8ff" stroke-width="0.44" stroke-linecap="round" stroke-linejoin="round"/></g>
<g filter="url(#bf)" opacity="1.00"><path d="M514.9,150.0 C514.3,151.7 512.3,157.4 511.5,160.0 C510.7,162.6 510.5,164.6 510.2,165.5" fill="none" stroke="#0000ff" stroke-width="1.88" stroke-linecap="round" stroke-linejoin="round"/><path d="M514.9,150.0 C514.3,151.7 512.3,157.4 511.5,160.0 C510.7,162.6 510.5,164.6 510.2,165.5" fill="none" stroke="#0050ff" stroke-width="1.47" stroke-linecap="round" stroke-linejoin="round"/><path d="M514.9,150.0 C514.3,151.7 512.3,157.4 511.5,160.0 C510.7,162.6 510.5,164.6 510.2,165.5" fill="none" stroke="#00a0ff" stroke-width="1.16" stroke-linecap="round" stroke-linejoin="round"/><path d="M514.9,150.0 C514.3,151.7 512.3,157.4 511.5,160.0 C510.7,162.6 510.5,164.6 510.2,165.5" fill="none" stroke="#00e8ff" stroke-width="0.88" stroke-linecap="round" stroke-linejoin="round"/><path d="M514.9,150.0 C514.3,151.7 512.3,157.4 511.5,160.0 C510.7,162.6 510.5,164.6 510.2,165.5" fill="none" stroke="#70ffa0" stroke-width="0.58" stroke-linecap="round" stroke-linejoin="round"/></g>
<g filter="url(#bf)" opacity="1.00"><path d="M514.9,150.0 C514.7,151.7 514.0,156.8 513.5,160.0 C513.0,163.2 512.5,166.2 512.0,169.0 C511.5,171.8 510.8,175.7 510.5,177.0" fill="none" stroke="#0000ff" stroke-width="1.47" stroke-linecap="round" stroke-linejoin="round"/><path d="M514.9,150.0 C514.7,151.7 514.0,156.8 513.5,160.0 C513.0,163.2 512.5,166.2 512.0,169.0 C511.5,171.8 510.8,175.7 510.5,177.0" fill="none" stroke="#0050ff" stroke-width="1.02" stroke-linecap="round" stroke-linejoin="round"/><path d="M514.9,150.0 C514.7,151.7 514.0,156.8 513.5,160.0 C513.0,163.2 512.5,166.2 512.0,169.0 C511.5,171.8 510.8,175.7 510.5,177.0" fill="none" stroke="#00a0ff" stroke-width="0.62" stroke-linecap="round" stroke-linejoin="round"/></g>
<g filter="url(#bf)" opacity="1.00"><path d="M514.9,150.0 C514.7,151.7 513.9,157.6 513.5,160.0 C513.1,162.4 512.9,163.8 512.8,164.5" fill="none" stroke="#0000ff" stroke-width="1.64" stroke-linecap="round" stroke-linejoin="round"/><path d="M514.9,150.0 C514.7,151.7 513.9,157.6 513.5,160.0 C513.1,162.4 512.9,163.8 512.8,164.5" fill="none" stroke="#0050ff" stroke-width="1.26" stroke-linecap="round" stroke-linejoin="round"/><path d="M514.9,150.0 C514.7,151.7 513.9,157.6 513.5,160.0 C513.1,162.4 512.9,163.8 512.8,164.5" fill="none" stroke="#00a0ff" stroke-width="0.96" stroke-linecap="round" stroke-linejoin="round"/><path d="M514.9,150.0 C514.7,151.7 513.9,157.6 513.5,160.0 C513.1,162.4 512.9,163.8 512.8,164.5" fill="none" stroke="#00e8ff" stroke-width="0.68" stroke-linecap="round" stroke-linejoin="round"/><path d="M514.9,150.0 C514.7,151.7 513.9,157.6 513.5,160.0 C513.1,162.4 512.9,163.8 512.8,164.5" fill="none" stroke="#70ffa0" stroke-width="0.31" stroke-linecap="round" stroke-linejoin="round"/></g>
<g filter="url(#bf)" opacity="1.00"><path d="M514.9,150.0 C515.2,151.7 516.0,157.0 516.5,160.0 C517.0,163.0 517.4,165.5 517.8,168.0 C518.2,170.5 518.6,173.8 518.8,175.0" fill="none" stroke="#0000ff" stroke-width="1.72" stroke-linecap="round" stroke-linejoin="round"/><path d="M514.9,150.0 C515.2,151.7 516.0,157.0 516.5,160.0 C517.0,163.0 517.4,165.5 517.8,168.0 C518.2,170.5 518.6,173.8 518.8,175.0" fill="none" stroke="#0050ff" stroke-width="1.26" stroke-linecap="round" stroke-linejoin="round"/><path d="M514.9,150.0 C515.2,151.7 516.0,157.0 516.5,160.0 C517.0,163.0 517.4,165.5 517.8,168.0 C518.2,170.5 518.6,173.8 518.8,175.0" fill="none" stroke="#00a0ff" stroke-width="0.88" stroke-linecap="round" stroke-linejoin="round"/><path d="M514.9,150.0 C515.2,151.7 516.0,157.0 516.5,160.0 C517.0,163.0 517.4,165.5 517.8,168.0 C518.2,170.5 518.6,173.8 518.8,175.0" fill="none" stroke="#00e8ff" stroke-width="0.44" stroke-linecap="round" stroke-linejoin="round"/></g>
<g filter="url(#bf)" opacity="1.00"><path d="M514.9,150.0 C515.2,151.7 516.1,157.7 516.5,160.0 C516.9,162.3 517.0,163.3 517.1,164.0" fill="none" stroke="#0000ff" stroke-width="1.88" stroke-linecap="round" stroke-linejoin="round"/><path d="M514.9,150.0 C515.2,151.7 516.1,157.7 516.5,160.0 C516.9,162.3 517.0,163.3 517.1,164.0" fill="none" stroke="#0050ff" stroke-width="1.47" stroke-linecap="round" stroke-linejoin="round"/><path d="M514.9,150.0 C515.2,151.7 516.1,157.7 516.5,160.0 C516.9,162.3 517.0,163.3 517.1,164.0" fill="none" stroke="#00a0ff" stroke-width="1.16" stroke-linecap="round" stroke-linejoin="round"/><path d="M514.9,150.0 C515.2,151.7 516.1,157.7 516.5,160.0 C516.9,162.3 517.0,163.3 517.1,164.0" fill="none" stroke="#00e8ff" stroke-width="0.88" stroke-linecap="round" stroke-linejoin="round"/><path d="M514.9,150.0 C515.2,151.7 516.1,157.7 516.5,160.0 C516.9,162.3 517.0,163.3 517.1,164.0" fill="none" stroke="#70ffa0" stroke-width="0.58" stroke-linecap="round" stroke-linejoin="round"/></g>
<g filter="url(#bf)" opacity="1.00"><path d="M514.9,150.0 C515.6,151.3 517.7,155.5 519.0,158.0 C520.3,160.5 521.4,162.7 522.5,165.0 C523.6,167.3 525.0,170.8 525.5,172.0" fill="none" stroke="#0000ff" stroke-width="1.37" stroke-linecap="round" stroke-linejoin="round"/><path d="M514.9,150.0 C515.6,151.3 517.7,155.5 519.0,158.0 C520.3,160.5 521.4,162.7 522.5,165.0 C523.6,167.3 525.0,170.8 525.5,172.0" fill="none" stroke="#0050ff" stroke-width="0.87" stroke-linecap="round" stroke-linejoin="round"/><path d="M514.9,150.0 C515.6,151.3 517.7,155.5 519.0,158.0 C520.3,160.5 521.4,162.7 522.5,165.0 C523.6,167.3 525.0,170.8 525.5,172.0" fill="none" stroke="#00a0ff" stroke-width="0.32" stroke-linecap="round" stroke-linejoin="round"/></g>
<g filter="url(#bf)" opacity="1.00"><path d="M514.9,150.0 C515.3,151.2 516.6,154.8 517.5,157.0 C518.4,159.2 519.3,161.2 520.0,163.0 C520.7,164.8 521.2,167.2 521.5,168.0" fill="none" stroke="#0000ff" stroke-width="1.33" stroke-linecap="round" stroke-linejoin="round"/><path d="M514.9,150.0 C515.3,151.2 516.6,154.8 517.5,157.0 C518.4,159.2 519.3,161.2 520.0,163.0 C520.7,164.8 521.2,167.2 521.5,168.0" fill="none" stroke="#0050ff" stroke-width="0.81" stroke-linecap="round" stroke-linejoin="round"/></g>
<g filter="url(#bf)" opacity="1.00"><path d="M514.9,150.0 C514.1,150.3 511.6,151.5 510.0,152.0 C508.4,152.5 506.7,152.8 505.0,153.0 C503.3,153.2 500.8,153.4 500.0,153.5" fill="none" stroke="#0000ff" stroke-width="1.00" stroke-linecap="round" stroke-linejoin="round"/><path d="M514.9,150.0 C514.1,150.3 511.6,151.5 510.0,152.0 C508.4,152.5 506.7,152.8 505.0,153.0 C503.3,153.2 500.8,153.4 500.0,153.5" fill="none" stroke="#0050ff" stroke-width="0.17" stroke-linecap="round" stroke-linejoin="round"/></g>
<g filter="url(#bf)" opacity="1.00"><path d="M498.0,138.5 C499.3,138.8 503.4,139.8 506.0,140.5 C508.6,141.2 512.2,142.6 513.4,143.0" fill="none" stroke="#0000ff" stroke-width="0.94" stroke-linecap="round" stroke-linejoin="round"/></g>
<g filter="url(#bf)" opacity="1.00"><path d="M518.0,142.8 C519.7,143.2 525.0,144.2 528.0,145.5 C531.0,146.8 534.8,149.9 536.1,150.8" fill="none" stroke="#0000ff" stroke-width="0.94" stroke-linecap="round" stroke-linejoin="round"/></g>
<g filter="url(#bf)" opacity="1.00"><path d="M486.0,158.0 L496.4,155.3" fill="none" stroke="#0000ff" stroke-width="0.87" stroke-linecap="round" stroke-linejoin="round"/></g>
<g filter="url(#bf)" opacity="1.00"><path d="M518.0,183.7 L518.0,192.8" fill="none" stroke="#0000ff" stroke-width="1.37" stroke-linecap="round" stroke-linejoin="round"/><path d="M518.0,183.7 L518.0,192.8" fill="none" stroke="#0050ff" stroke-width="0.70" stroke-linecap="round" stroke-linejoin="round"/></g>
<g filter="url(#bf)" opacity="1.00"><path d="M530.0,170.0 C530.5,171.3 532.3,175.3 533.0,178.0 C533.7,180.7 533.8,184.7 534.0,186.0" fill="none" stroke="#0000ff" stroke-width="0.87" stroke-linecap="round" stroke-linejoin="round"/></g>
<g filter="url(#bf)" opacity="1.00"><path d="M507.0,185.0 L505.0,196.0" fill="none" stroke="#0000ff" stroke-width="0.94" stroke-linecap="round" stroke-linejoin="round"/></g>
<g filter="url(#bf)" opacity="1.00"><path d="M512.0,180.0 L511.0,190.0" fill="none" stroke="#0000ff" stroke-width="0.94" stroke-linecap="round" stroke-linejoin="round"/></g>
<g filter="url(#bs)" opacity="1.00"><ellipse cx="523.6" cy="140.0" rx="1.00" ry="1.00" fill="#0000ff"/><ellipse cx="523.6" cy="140.0" rx="0.57" ry="0.57" fill="#0050ff"/></g>
<g filter="url(#bs)" opacity="1.00"><path d="M545.7,205.0 L551.0,218.0" fill="none" stroke="#0000ff" stroke-width="2.59" stroke-linecap="round" stroke-linejoin="round"/><path d="M546.6,207.2 L550.1,215.8" fill="none" stroke="#0050ff" stroke-width="1.58" stroke-linecap="round" stroke-linejoin="round"/></g>
<g filter="url(#bs)" opacity="1.00"><path d="M557.0,205.0 L565.0,214.0" fill="none" stroke="#0000ff" stroke-width="1.88" stroke-linecap="round" stroke-linejoin="round"/><path d="M559.3,207.6 L562.7,211.4" fill="none" stroke="#0050ff" stroke-width="0.65" stroke-linecap="round" stroke-linejoin="round"/></g>
<path d="M513.50,136 L516.50,136 L516.40,143.81 Q516.20,147.40 515.00,148.6 Q513.80,147.40 513.60,143.81 Z" fill="#fffff2" stroke="#4a4a40" stroke-width="0.35" stroke-opacity="0.75"/>
<g filter="url(#bf)" opacity="1.00"><ellipse cx="514.9" cy="150.4" rx="2.40" ry="2.80" fill="#0000ff"/><ellipse cx="514.9" cy="150.4" rx="1.98" ry="2.31" fill="#0050ff"/><ellipse cx="514.9" cy="150.4" rx="1.69" ry="1.97" fill="#00a0ff"/><ellipse cx="514.9" cy="150.4" rx="1.45" ry="1.69" fill="#00e8ff"/><ellipse cx="514.9" cy="150.4" rx="1.22" ry="1.43" fill="#70ffa0"/><ellipse cx="514.9" cy="150.4" rx="1.01" ry="1.18" fill="#d8ff28"/><ellipse cx="514.9" cy="150.4" rx="0.78" ry="0.91" fill="#ffc000"/><ellipse cx="514.9" cy="150.4" rx="0.50" ry="0.59" fill="#ff5000"/></g></g>
<path d="M336.0,131.6 Q337.0,127.8 340.0,127.8 L446.5,127.8 Q449.5,127.8 450.5,131.6" fill="none" stroke="#666" stroke-width="0.9"/><path d="M391.1,130.0 h4.4 M393.2,127.8 v4.8" stroke="#777" stroke-width="1"/><path d="M391.8,131.1 L394.8,131.1 L393.2,132.8 Z" fill="#777"/>
<path d="M458.0,131.6 Q459.0,127.8 462.0,127.8 L570.0,127.8 Q573.0,127.8 574.0,131.6" fill="none" stroke="#666" stroke-width="0.9"/><path d="M513.8,130.0 h4.4 M516.0,127.8 v4.8" stroke="#777" stroke-width="1"/><path d="M514.5,131.1 L517.5,131.1 L516.0,132.8 Z" fill="#777"/>
<path d="M336.0,256.0 Q337.0,252.2 340.0,252.2 L446.5,252.2 Q449.5,252.2 450.5,256.0" fill="none" stroke="#666" stroke-width="0.9"/><path d="M391.1,254.39999999999998 h4.4 M393.2,252.2 v4.8" stroke="#777" stroke-width="1"/><path d="M391.8,255.5 L394.8,255.5 L393.2,257.2 Z" fill="#777"/>
<path d="M458.0,256.0 Q459.0,252.2 462.0,252.2 L570.0,252.2 Q573.0,252.2 574.0,256.0" fill="none" stroke="#666" stroke-width="0.9"/><path d="M513.8,254.39999999999998 h4.4 M516.0,252.2 v4.8" stroke="#777" stroke-width="1"/><path d="M514.5,255.5 L517.5,255.5 L516.0,257.2 Z" fill="#777"/>
<rect x="336" y="306.2" width="245.2" height="116.2" fill="#00008c"/>
<rect x="336" y="306.2" width="122.39999999999998" height="116.19999999999999" fill="#00008c"/><text x="339.3" y="315.6" fill="#fff" style="font-family:'Liberation Serif',serif;font-size:11.2px;font-weight:bold" stroke="#fff">(1)</text>
<rect x="458.4" y="306.2" width="122.80000000000007" height="116.19999999999999" fill="#020290"/><text x="461.6" y="315.6" fill="#fff" style="font-family:'Liberation Serif',serif;font-size:11.2px;font-weight:bold" stroke="#fff">(2)</text>
<clipPath id="cpb"><rect x="336" y="306.2" width="245.2" height="116.2"/></clipPath><g clip-path="url(#cpb)"><g filter="url(#bf)" opacity="1.00"><path d="M395.2,324.0 L394.0,331.5" fill="none" stroke="#0000ff" stroke-width="2.86" stroke-linecap="round" stroke-linejoin="round"/><path d="M395.0,325.2 L394.2,330.3" fill="none" stroke="#0050ff" stroke-width="1.82" stroke-linecap="round" stroke-linejoin="round"/><path d="M394.8,326.5 L394.4,329.0" fill="none" stroke="#00a0ff" stroke-width="0.67" stroke-linecap="round" stroke-linejoin="round"/></g>
<g filter="url(#bf)" opacity="1.00"><path d="M398.8,323.5 L399.6,325.5" fill="none" stroke="#0000ff" stroke-width="3.33" stroke-linecap="round" stroke-linejoin="round"/><path d="M398.9,323.8 L399.5,325.2" fill="none" stroke="#0050ff" stroke-width="2.35" stroke-linecap="round" stroke-linejoin="round"/><path d="M399.0,324.0 L399.4,325.0" fill="none" stroke="#00a0ff" stroke-width="1.52" stroke-linecap="round" stroke-linejoin="round"/></g>
<g filter="url(#bf)" opacity="1.00"><path d="M399.5,320.5 L401.2,322.5" fill="none" stroke="#0000ff" stroke-width="2.03" stroke-linecap="round" stroke-linejoin="round"/><path d="M399.9,320.9 L400.8,322.1" fill="none" stroke="#0050ff" stroke-width="1.00" stroke-linecap="round" stroke-linejoin="round"/></g>
<g filter="url(#bf)" opacity="1.00"><ellipse cx="397.3" cy="324.2" rx="2.80" ry="2.40" fill="#0000ff"/><ellipse cx="397.3" cy="324.2" rx="2.06" ry="1.76" fill="#0050ff"/><ellipse cx="397.3" cy="324.2" rx="1.45" ry="1.25" fill="#00a0ff"/><ellipse cx="397.3" cy="324.2" rx="0.78" ry="0.67" fill="#00e8ff"/></g>
<g filter="url(#bf)" opacity="1.00"><ellipse cx="396.7" cy="321.6" rx="3.40" ry="3.60" fill="#0000ff"/><ellipse cx="396.7" cy="321.4" rx="2.82" ry="2.99" fill="#0050ff"/><ellipse cx="396.7" cy="321.3" rx="2.42" ry="2.56" fill="#00a0ff"/><ellipse cx="396.7" cy="321.1" rx="2.08" ry="2.21" fill="#00e8ff"/><ellipse cx="396.7" cy="321.0" rx="1.78" ry="1.89" fill="#70ffa0"/><ellipse cx="396.7" cy="320.9" rx="1.49" ry="1.58" fill="#d8ff28"/><ellipse cx="396.7" cy="320.8" rx="1.19" ry="1.26" fill="#ffc000"/><ellipse cx="396.7" cy="320.7" rx="0.85" ry="0.90" fill="#ff5000"/><ellipse cx="396.7" cy="320.6" rx="0.48" ry="0.51" fill="#e00000"/></g>
<path d="M395.10,306.2 L398.10,306.2 L398.00,314.51 Q397.80,318.40 396.60,319.6 Q395.40,318.40 395.20,314.51 Z" fill="#fffff2" stroke="#4a4a40" stroke-width="0.35" stroke-opacity="0.75"/>
<path d="M419.2,325.2 V416.6" stroke="#dcdcf4" stroke-width="1.15"/><path d="M416.59999999999997,326.7 L419.2,320.2 L421.8,326.7 Z M416.59999999999997,415.1 L419.2,421.6 L421.8,415.1 Z" fill="#f4f4ff"/><text transform="translate(429.2,372.4) rotate(-90)" text-anchor="middle" textLength="28" lengthAdjust="spacingAndGlyphs" fill="#f4f4ff" stroke="#f4f4ff" stroke-width="0.3" style="font-family:'Liberation Serif',serif;font-size:11.4px">25 mm</text>
<g><path d="M488.3,417.0 L489.5,419.2" fill="none" stroke="#0a30ff" stroke-width="1.1" stroke-linecap="round" filter="url(#bs)" opacity="0.16"/><path d="M490.7,419.9 L491.7,422.6" fill="none" stroke="#0a30ff" stroke-width="1.1" stroke-linecap="round" filter="url(#bs)" opacity="0.22"/><path d="M514.6,379.6 L516.5,381.5" fill="none" stroke="#0a30ff" stroke-width="1.1" stroke-linecap="round" filter="url(#bs)" opacity="0.16"/><path d="M489.2,341.6 L488.5,344.6" fill="none" stroke="#0a30ff" stroke-width="1.1" stroke-linecap="round" filter="url(#bs)" opacity="0.29"/><path d="M506.0,349.1 L508.8,350.3" fill="none" stroke="#0a30ff" stroke-width="1.1" stroke-linecap="round" filter="url(#bs)" opacity="0.16"/><path d="M533.9,370.2 L532.2,374.5" fill="none" stroke="#0a30ff" stroke-width="1.1" stroke-linecap="round" filter="url(#bs)" opacity="0.25"/><path d="M519.7,392.0 L520.8,397.5" fill="none" stroke="#0a30ff" stroke-width="1.1" stroke-linecap="round" filter="url(#bs)" opacity="0.17"/><path d="M469.5,415.7 L466.8,418.6" fill="none" stroke="#0a30ff" stroke-width="1.1" stroke-linecap="round" filter="url(#bs)" opacity="0.29"/><path d="M529.2,398.3 L526.4,403.1" fill="none" stroke="#0a30ff" stroke-width="1.1" stroke-linecap="round" filter="url(#bs)" opacity="0.2"/><path d="M563.9,350.8 L559.7,353.7" fill="none" stroke="#0a30ff" stroke-width="1.1" stroke-linecap="round" filter="url(#bs)" opacity="0.25"/><path d="M543.4,416.0 L543.5,421.4" fill="none" stroke="#0a30ff" stroke-width="1.1" stroke-linecap="round" filter="url(#bs)" opacity="0.18"/><path d="M479.4,382.3 L476.0,384.4" fill="none" stroke="#0a30ff" stroke-width="1.1" stroke-linecap="round" filter="url(#bs)" opacity="0.29"/><path d="M520.9,396.1 L519.2,398.5" fill="none" stroke="#0a30ff" stroke-width="1.1" stroke-linecap="round" filter="url(#bs)" opacity="0.15"/><path d="M501.8,361.3 L500.7,364.9" fill="none" stroke="#0a30ff" stroke-width="1.1" stroke-linecap="round" filter="url(#bs)" opacity="0.28"/><path d="M565.4,354.0 L562.8,356.5" fill="none" stroke="#0a30ff" stroke-width="1.1" stroke-linecap="round" filter="url(#bs)" opacity="0.25"/><path d="M575.1,356.1 L572.7,360.6" fill="none" stroke="#0a30ff" stroke-width="1.1" stroke-linecap="round" filter="url(#bs)" opacity="0.15"/><path d="M550.7,367.3 L550.2,370.0" fill="none" stroke="#0a30ff" stroke-width="1.1" stroke-linecap="round" filter="url(#bs)" opacity="0.18"/><path d="M509.6,375.7 L510.3,379.3" fill="none" stroke="#0a30ff" stroke-width="1.1" stroke-linecap="round" filter="url(#bs)" opacity="0.19"/><path d="M473.0,346.8 L473.2,349.2" fill="none" stroke="#0a30ff" stroke-width="1.1" stroke-linecap="round" filter="url(#bs)" opacity="0.2"/><path d="M555.7,380.4 L560.1,382.4" fill="none" stroke="#0a30ff" stroke-width="1.1" stroke-linecap="round" filter="url(#bs)" opacity="0.16"/><path d="M464.0,351.2 L464.6,354.7" fill="none" stroke="#0a30ff" stroke-width="1.1" stroke-linecap="round" filter="url(#bs)" opacity="0.26"/><path d="M502.8,417.2 L504.2,418.6" fill="none" stroke="#0a30ff" stroke-width="1.1" stroke-linecap="round" filter="url(#bs)" opacity="0.18"/><path d="M563.5,342.6 L566.9,347.4" fill="none" stroke="#0a30ff" stroke-width="1.1" stroke-linecap="round" filter="url(#bs)" opacity="0.3"/><path d="M529.3,354.2 L528.5,360.0" fill="none" stroke="#0a30ff" stroke-width="1.1" stroke-linecap="round" filter="url(#bs)" opacity="0.16"/><path d="M532.2,379.8 L529.4,382.4" fill="none" stroke="#0a30ff" stroke-width="1.1" stroke-linecap="round" filter="url(#bs)" opacity="0.17"/><path d="M529.4,376.2 L529.0,378.7" fill="none" stroke="#0a30ff" stroke-width="1.1" stroke-linecap="round" filter="url(#bs)" opacity="0.26"/><path d="M545.0,377.7 L543.8,381.1" fill="none" stroke="#0a30ff" stroke-width="1.1" stroke-linecap="round" filter="url(#bs)" opacity="0.18"/><path d="M484.9,375.7 L486.2,377.8" fill="none" stroke="#0a30ff" stroke-width="1.1" stroke-linecap="round" filter="url(#bs)" opacity="0.26"/><path d="M532.9,341.8 L532.4,345.2" fill="none" stroke="#0a30ff" stroke-width="1.1" stroke-linecap="round" filter="url(#bs)" opacity="0.16"/><path d="M574.3,400.5 L576.2,404.0" fill="none" stroke="#0a30ff" stroke-width="1.1" stroke-linecap="round" filter="url(#bs)" opacity="0.18"/><path d="M488.6,382.1 L490.3,386.7" fill="none" stroke="#0a30ff" stroke-width="1.1" stroke-linecap="round" filter="url(#bs)" opacity="0.15"/><path d="M533.1,412.7 L537.4,415.3" fill="none" stroke="#0a30ff" stroke-width="1.1" stroke-linecap="round" filter="url(#bs)" opacity="0.3"/><path d="M487.9,363.7 L491.8,365.4" fill="none" stroke="#0a30ff" stroke-width="1.1" stroke-linecap="round" filter="url(#bs)" opacity="0.21"/><path d="M571.2,408.0 L572.4,411.9" fill="none" stroke="#0a30ff" stroke-width="1.1" stroke-linecap="round" filter="url(#bs)" opacity="0.29"/><path d="M552.9,363.7 L549.3,367.7" fill="none" stroke="#0a30ff" stroke-width="1.1" stroke-linecap="round" filter="url(#bs)" opacity="0.21"/><path d="M573.2,407.8 L571.6,410.6" fill="none" stroke="#0a30ff" stroke-width="1.1" stroke-linecap="round" filter="url(#bs)" opacity="0.24"/><path d="M559.7,394.7 L562.7,399.7" fill="none" stroke="#0a30ff" stroke-width="1.1" stroke-linecap="round" filter="url(#bs)" opacity="0.27"/><path d="M532.2,369.0 L532.1,372.7" fill="none" stroke="#0a30ff" stroke-width="1.1" stroke-linecap="round" filter="url(#bs)" opacity="0.23"/><path d="M559.2,361.5 L560.4,363.4" fill="none" stroke="#0a30ff" stroke-width="1.1" stroke-linecap="round" filter="url(#bs)" opacity="0.19"/><path d="M510.7,349.4 L507.9,353.9" fill="none" stroke="#0a30ff" stroke-width="1.1" stroke-linecap="round" filter="url(#bs)" opacity="0.19"/></g>
<g filter="url(#bf)" opacity="1.00"><path d="M520.5,320.8 L524.0,321.2 L528.3,321.6" fill="none" stroke="#0000ff" stroke-width="2.24" stroke-linecap="round" stroke-linejoin="round"/><path d="M520.5,320.8 L524.0,321.2 L528.3,321.6" fill="none" stroke="#0050ff" stroke-width="1.69" stroke-linecap="round" stroke-linejoin="round"/><path d="M520.5,320.8 L524.0,321.2 L528.3,321.6" fill="none" stroke="#00a0ff" stroke-width="1.26" stroke-linecap="round" stroke-linejoin="round"/><path d="M520.5,320.8 L524.0,321.2 L528.3,321.6" fill="none" stroke="#00e8ff" stroke-width="0.84" stroke-linecap="round" stroke-linejoin="round"/></g>
<g filter="url(#bf)" opacity="1.00"><path d="M486.0,324.5 L494.0,324.8" fill="none" stroke="#0000ff" stroke-width="1.80" stroke-linecap="round" stroke-linejoin="round"/><path d="M487.1,324.5 L492.9,324.8" fill="none" stroke="#0050ff" stroke-width="1.22" stroke-linecap="round" stroke-linejoin="round"/><path d="M488.2,324.6 L491.8,324.7" fill="none" stroke="#00a0ff" stroke-width="0.68" stroke-linecap="round" stroke-linejoin="round"/></g>
<g filter="url(#bf)" opacity="1.00"><path d="M488.5,329.5 L493.0,327.0" fill="none" stroke="#0000ff" stroke-width="1.76" stroke-linecap="round" stroke-linejoin="round"/><path d="M489.2,329.1 L492.3,327.4" fill="none" stroke="#0050ff" stroke-width="1.16" stroke-linecap="round" stroke-linejoin="round"/><path d="M489.8,328.8 L491.7,327.7" fill="none" stroke="#00a0ff" stroke-width="0.56" stroke-linecap="round" stroke-linejoin="round"/></g>
<g filter="url(#bf)" opacity="1.00"><path d="M503.5,336.2 L507.8,331.0" fill="none" stroke="#0000ff" stroke-width="2.38" stroke-linecap="round" stroke-linejoin="round"/><path d="M504.0,335.6 L507.3,331.6" fill="none" stroke="#0050ff" stroke-width="1.75" stroke-linecap="round" stroke-linejoin="round"/><path d="M504.4,335.1 L506.9,332.1" fill="none" stroke="#00a0ff" stroke-width="1.24" stroke-linecap="round" stroke-linejoin="round"/><path d="M504.9,334.6 L506.4,332.6" fill="none" stroke="#00e8ff" stroke-width="0.67" stroke-linecap="round" stroke-linejoin="round"/></g>
<g filter="url(#bf)" opacity="1.00"><path d="M512.0,325.0 L512.6,326.0" fill="none" stroke="#0000ff" stroke-width="1.80" stroke-linecap="round" stroke-linejoin="round"/><path d="M512.1,325.1 L512.5,325.9" fill="none" stroke="#0050ff" stroke-width="1.22" stroke-linecap="round" stroke-linejoin="round"/><path d="M512.2,325.3 L512.4,325.7" fill="none" stroke="#00a0ff" stroke-width="0.68" stroke-linecap="round" stroke-linejoin="round"/></g>
<g filter="url(#bf)" opacity="1.00"><path d="M523.0,331.0 L525.2,328.0" fill="none" stroke="#0000ff" stroke-width="1.76" stroke-linecap="round" stroke-linejoin="round"/><path d="M523.3,330.5 L524.9,328.5" fill="none" stroke="#0050ff" stroke-width="1.16" stroke-linecap="round" stroke-linejoin="round"/><path d="M523.7,330.1 L524.5,328.9" fill="none" stroke="#00a0ff" stroke-width="0.56" stroke-linecap="round" stroke-linejoin="round"/></g>
<g filter="url(#bf)" opacity="1.00"><path d="M529.5,328.0 L530.2,331.0" fill="none" stroke="#0000ff" stroke-width="1.76" stroke-linecap="round" stroke-linejoin="round"/><path d="M529.6,328.5 L530.1,330.5" fill="none" stroke="#0050ff" stroke-width="1.16" stroke-linecap="round" stroke-linejoin="round"/><path d="M529.7,328.9 L530.0,330.1" fill="none" stroke="#00a0ff" stroke-width="0.56" stroke-linecap="round" stroke-linejoin="round"/></g>
<g filter="url(#bf)" opacity="1.00"><path d="M541.0,322.5 L545.5,324.6" fill="none" stroke="#0000ff" stroke-width="2.04" stroke-linecap="round" stroke-linejoin="round"/><path d="M541.6,322.8 L544.9,324.3" fill="none" stroke="#0050ff" stroke-width="1.42" stroke-linecap="round" stroke-linejoin="round"/><path d="M542.1,323.0 L544.4,324.1" fill="none" stroke="#00a0ff" stroke-width="0.86" stroke-linecap="round" stroke-linejoin="round"/></g>
<g filter="url(#bf)" opacity="1.00"><path d="M545.5,343.0 L551.0,349.3" fill="none" stroke="#0000ff" stroke-width="2.38" stroke-linecap="round" stroke-linejoin="round"/><path d="M546.1,343.7 L550.4,348.6" fill="none" stroke="#0050ff" stroke-width="1.75" stroke-linecap="round" stroke-linejoin="round"/><path d="M546.7,344.3 L549.8,348.0" fill="none" stroke="#00a0ff" stroke-width="1.24" stroke-linecap="round" stroke-linejoin="round"/><path d="M547.2,345.0 L549.3,347.3" fill="none" stroke="#00e8ff" stroke-width="0.67" stroke-linecap="round" stroke-linejoin="round"/></g>
<g filter="url(#bf)" opacity="1.00"><path d="M529.0,322.0 L533.0,322.6" fill="none" stroke="#0000ff" stroke-width="1.76" stroke-linecap="round" stroke-linejoin="round"/><path d="M529.6,322.1 L532.4,322.5" fill="none" stroke="#0050ff" stroke-width="1.16" stroke-linecap="round" stroke-linejoin="round"/><path d="M530.2,322.2 L531.8,322.4" fill="none" stroke="#00a0ff" stroke-width="0.56" stroke-linecap="round" stroke-linejoin="round"/></g>
<g filter="url(#bf)" opacity="1.00"><path d="M517.0,321.5 L514.0,323.0" fill="none" stroke="#0000ff" stroke-width="1.48" stroke-linecap="round" stroke-linejoin="round"/><path d="M516.5,321.8 L514.5,322.7" fill="none" stroke="#0050ff" stroke-width="0.90" stroke-linecap="round" stroke-linejoin="round"/></g>
<path d="M517.90,306.2 L520.90,306.2 L520.80,314.51 Q520.60,318.40 519.40,319.6 Q518.20,318.40 518.00,314.51 Z" fill="#fffff2" stroke="#4a4a40" stroke-width="0.35" stroke-opacity="0.75"/>
<g filter="url(#bf)" opacity="1.00"><ellipse cx="519.8" cy="320.4" rx="1.30" ry="1.20" fill="#0000ff"/><ellipse cx="519.8" cy="320.4" rx="1.04" ry="0.96" fill="#0050ff"/><ellipse cx="519.8" cy="320.4" rx="0.85" ry="0.78" fill="#00a0ff"/><ellipse cx="519.8" cy="320.4" rx="0.68" ry="0.63" fill="#00e8ff"/><ellipse cx="519.8" cy="320.4" rx="0.52" ry="0.48" fill="#70ffa0"/><ellipse cx="519.8" cy="320.4" rx="0.33" ry="0.31" fill="#d8ff28"/></g></g>
<path d="M340.0,426.40000000000003 Q341.0,422.6 344.0,422.6 L450.0,422.6 Q453.0,422.6 454.0,426.40000000000003" fill="none" stroke="#666" stroke-width="0.9"/><path d="M394.8,424.8 h4.4 M397.0,422.6 v4.8" stroke="#777" stroke-width="1"/><path d="M395.5,425.90000000000003 L398.5,425.90000000000003 L397.0,427.6 Z" fill="#777"/>
<path d="M462.0,426.40000000000003 Q463.0,422.6 466.0,422.6 L574.0,422.6 Q577.0,422.6 578.0,426.40000000000003" fill="none" stroke="#666" stroke-width="0.9"/><path d="M517.8,424.8 h4.4 M520.0,422.6 v4.8" stroke="#777" stroke-width="1"/><path d="M518.5,425.90000000000003 L521.5,425.90000000000003 L520.0,427.6 Z" fill="#777"/>
<rect x="1.5" y="450.2" width="613.3" height="116.6" fill="#00008c"/>
<rect x="1.5" y="450.2" width="122.9" height="116.59999999999997" fill="#0404b4"/><text x="3.4" y="461.5" fill="#fff" style="font-family:'Liberation Serif',serif;font-size:11.3px;font-weight:bold" stroke="#fff">(3)</text>
<rect x="124.4" y="450.2" width="123.79999999999998" height="116.59999999999997" fill="#02029e"/><text x="127.2" y="461.5" fill="#fff" style="font-family:'Liberation Serif',serif;font-size:11.3px;font-weight:bold" stroke="#fff">(4)</text>
<rect x="248.2" y="450.2" width="121.40000000000003" height="116.59999999999997" fill="#020298"/><text x="250.3" y="461.5" fill="#fff" style="font-family:'Liberation Serif',serif;font-size:11.3px;font-weight:bold" stroke="#fff">(5)</text>
<rect x="369.6" y="450.2" width="123.39999999999998" height="116.59999999999997" fill="#030398"/><text x="373.0" y="461.5" fill="#fff" style="font-family:'Liberation Serif',serif;font-size:11.3px;font-weight:bold" stroke="#fff">(6)</text>
<rect x="493" y="450.2" width="121.79999999999995" height="116.59999999999997" fill="#02029a"/><text x="496.9" y="461.5" fill="#fff" style="font-family:'Liberation Serif',serif;font-size:11.3px;font-weight:bold" stroke="#fff">(7)</text>
<rect x="123.9" y="450.2" width="1.1" height="116.6" fill="#8c8cd8" opacity="0.85"/>
<clipPath id="cpc"><rect x="1.5" y="450.2" width="613.3" height="116.6"/></clipPath><g clip-path="url(#cpc)"><g filter="url(#bf)" opacity="1.00"><path d="M54.4,463.5 L54.8,464.2" fill="none" stroke="#0000ff" stroke-width="1.67" stroke-linecap="round" stroke-linejoin="round"/><path d="M54.5,463.6 L54.7,464.1" fill="none" stroke="#0050ff" stroke-width="1.01" stroke-linecap="round" stroke-linejoin="round"/></g>
<g filter="url(#bf)" opacity="1.00"><path d="M62.4,463.5 L62.6,464.0" fill="none" stroke="#0000ff" stroke-width="1.35" stroke-linecap="round" stroke-linejoin="round"/><path d="M62.4,463.6 L62.6,463.9" fill="none" stroke="#0050ff" stroke-width="0.67" stroke-linecap="round" stroke-linejoin="round"/></g>
<g filter="url(#bf)" opacity="1.00"><path d="M68.0,463.0 L68.3,463.3" fill="none" stroke="#0000ff" stroke-width="1.26" stroke-linecap="round" stroke-linejoin="round"/><path d="M68.1,463.1 L68.2,463.2" fill="none" stroke="#0050ff" stroke-width="0.44" stroke-linecap="round" stroke-linejoin="round"/></g>
<g filter="url(#bf)" opacity="1.00"><path d="M79.0,462.6 L82.4,464.6" fill="none" stroke="#0000ff" stroke-width="2.12" stroke-linecap="round" stroke-linejoin="round"/><path d="M79.4,462.8 L82.0,464.4" fill="none" stroke="#0050ff" stroke-width="1.52" stroke-linecap="round" stroke-linejoin="round"/><path d="M79.8,463.1 L81.6,464.1" fill="none" stroke="#00a0ff" stroke-width="1.03" stroke-linecap="round" stroke-linejoin="round"/><path d="M80.2,463.3 L81.2,463.9" fill="none" stroke="#00e8ff" stroke-width="0.39" stroke-linecap="round" stroke-linejoin="round"/></g>
<g filter="url(#bf)" opacity="1.00"><path d="M51.2,478.4 L55.7,477.8" fill="none" stroke="#0000ff" stroke-width="2.91" stroke-linecap="round" stroke-linejoin="round"/><path d="M51.6,478.3 L55.3,477.9" fill="none" stroke="#0050ff" stroke-width="2.32" stroke-linecap="round" stroke-linejoin="round"/><path d="M51.9,478.3 L55.0,477.9" fill="none" stroke="#00a0ff" stroke-width="1.88" stroke-linecap="round" stroke-linejoin="round"/><path d="M52.2,478.3 L54.7,477.9" fill="none" stroke="#00e8ff" stroke-width="1.50" stroke-linecap="round" stroke-linejoin="round"/><path d="M52.4,478.2 L54.5,478.0" fill="none" stroke="#70ffa0" stroke-width="1.12" stroke-linecap="round" stroke-linejoin="round"/><path d="M52.7,478.2 L54.2,478.0" fill="none" stroke="#d8ff28" stroke-width="0.65" stroke-linecap="round" stroke-linejoin="round"/></g>
<g filter="url(#bf)" opacity="1.00"><path d="M60.1,481.3 L60.5,482.0" fill="none" stroke="#0000ff" stroke-width="2.08" stroke-linecap="round" stroke-linejoin="round"/><path d="M60.2,481.4 L60.4,481.9" fill="none" stroke="#0050ff" stroke-width="1.47" stroke-linecap="round" stroke-linejoin="round"/><path d="M60.2,481.5 L60.4,481.8" fill="none" stroke="#00a0ff" stroke-width="0.95" stroke-linecap="round" stroke-linejoin="round"/></g>
<g filter="url(#bf)" opacity="1.00"><path d="M69.3,479.5 L73.5,483.8" fill="none" stroke="#0000ff" stroke-width="2.94" stroke-linecap="round" stroke-linejoin="round"/><path d="M69.7,479.9 L73.1,483.4" fill="none" stroke="#0050ff" stroke-width="2.35" stroke-linecap="round" stroke-linejoin="round"/><path d="M69.9,480.2 L72.9,483.1" fill="none" stroke="#00a0ff" stroke-width="1.92" stroke-linecap="round" stroke-linejoin="round"/><path d="M70.2,480.4 L72.6,482.9" fill="none" stroke="#00e8ff" stroke-width="1.55" stroke-linecap="round" stroke-linejoin="round"/><path d="M70.4,480.6 L72.4,482.7" fill="none" stroke="#70ffa0" stroke-width="1.18" stroke-linecap="round" stroke-linejoin="round"/><path d="M70.7,480.9 L72.1,482.4" fill="none" stroke="#d8ff28" stroke-width="0.75" stroke-linecap="round" stroke-linejoin="round"/></g>
<g filter="url(#bf)" opacity="1.00"><path d="M79.2,475.0 L84.4,479.2" fill="none" stroke="#0000ff" stroke-width="2.17" stroke-linecap="round" stroke-linejoin="round"/><path d="M79.8,475.5 L83.8,478.7" fill="none" stroke="#0050ff" stroke-width="1.59" stroke-linecap="round" stroke-linejoin="round"/><path d="M80.3,475.9 L83.3,478.3" fill="none" stroke="#00a0ff" stroke-width="1.13" stroke-linecap="round" stroke-linejoin="round"/><path d="M80.8,476.3 L82.8,477.9" fill="none" stroke="#00e8ff" stroke-width="0.61" stroke-linecap="round" stroke-linejoin="round"/></g>
<g filter="url(#bf)" opacity="1.00"><path d="M80.0,478.2 L83.5,480.0" fill="none" stroke="#0000ff" stroke-width="1.84" stroke-linecap="round" stroke-linejoin="round"/><path d="M80.5,478.4 L83.0,479.8" fill="none" stroke="#0050ff" stroke-width="1.27" stroke-linecap="round" stroke-linejoin="round"/><path d="M80.9,478.7 L82.6,479.5" fill="none" stroke="#00a0ff" stroke-width="0.77" stroke-linecap="round" stroke-linejoin="round"/></g>
<g filter="url(#bf)" opacity="1.00"><path d="M31.2,491.5 L26.0,500.5" fill="none" stroke="#0000ff" stroke-width="3.08" stroke-linecap="round" stroke-linejoin="round"/><path d="M30.8,492.3 L26.4,499.7" fill="none" stroke="#0050ff" stroke-width="2.48" stroke-linecap="round" stroke-linejoin="round"/><path d="M30.4,492.8 L26.8,499.2" fill="none" stroke="#00a0ff" stroke-width="2.05" stroke-linecap="round" stroke-linejoin="round"/><path d="M30.2,493.3 L27.0,498.7" fill="none" stroke="#00e8ff" stroke-width="1.68" stroke-linecap="round" stroke-linejoin="round"/><path d="M29.9,493.8 L27.3,498.2" fill="none" stroke="#70ffa0" stroke-width="1.32" stroke-linecap="round" stroke-linejoin="round"/><path d="M29.6,494.3 L27.6,497.7" fill="none" stroke="#d8ff28" stroke-width="0.94" stroke-linecap="round" stroke-linejoin="round"/><path d="M29.2,495.0 L28.0,497.0" fill="none" stroke="#ffc000" stroke-width="0.37" stroke-linecap="round" stroke-linejoin="round"/></g>
<g filter="url(#bf)" opacity="1.00"><path d="M57.6,488.2 L58.6,490.4" fill="none" stroke="#0000ff" stroke-width="2.24" stroke-linecap="round" stroke-linejoin="round"/><path d="M57.7,488.4 L58.5,490.2" fill="none" stroke="#0050ff" stroke-width="1.69" stroke-linecap="round" stroke-linejoin="round"/><path d="M57.8,488.6 L58.4,490.0" fill="none" stroke="#00a0ff" stroke-width="1.26" stroke-linecap="round" stroke-linejoin="round"/><path d="M57.9,488.8 L58.3,489.8" fill="none" stroke="#00e8ff" stroke-width="0.84" stroke-linecap="round" stroke-linejoin="round"/></g>
<g filter="url(#bf)" opacity="1.00"><path d="M58.8,493.8 L56.4,503.8" fill="none" stroke="#0000ff" stroke-width="2.96" stroke-linecap="round" stroke-linejoin="round"/><path d="M58.6,494.7 L56.6,502.9" fill="none" stroke="#0050ff" stroke-width="2.37" stroke-linecap="round" stroke-linejoin="round"/><path d="M58.4,495.3 L56.8,502.3" fill="none" stroke="#00a0ff" stroke-width="1.95" stroke-linecap="round" stroke-linejoin="round"/><path d="M58.3,495.8 L56.9,501.8" fill="none" stroke="#00e8ff" stroke-width="1.59" stroke-linecap="round" stroke-linejoin="round"/><path d="M58.2,496.4 L57.0,501.2" fill="none" stroke="#70ffa0" stroke-width="1.23" stroke-linecap="round" stroke-linejoin="round"/><path d="M58.0,497.0 L57.2,500.6" fill="none" stroke="#d8ff28" stroke-width="0.83" stroke-linecap="round" stroke-linejoin="round"/></g>
<g filter="url(#bf)" opacity="1.00"><path d="M62.5,490.0 L63.2,490.6" fill="none" stroke="#0000ff" stroke-width="1.78" stroke-linecap="round" stroke-linejoin="round"/><path d="M62.6,490.1 L63.1,490.5" fill="none" stroke="#0050ff" stroke-width="1.19" stroke-linecap="round" stroke-linejoin="round"/><path d="M62.7,490.2 L63.0,490.4" fill="none" stroke="#00a0ff" stroke-width="0.62" stroke-linecap="round" stroke-linejoin="round"/></g>
<g filter="url(#bf)" opacity="1.00"><path d="M63.8,500.5 L65.4,508.4" fill="none" stroke="#0000ff" stroke-width="2.96" stroke-linecap="round" stroke-linejoin="round"/><path d="M63.9,501.2 L65.3,507.7" fill="none" stroke="#0050ff" stroke-width="2.37" stroke-linecap="round" stroke-linejoin="round"/><path d="M64.0,501.7 L65.2,507.2" fill="none" stroke="#00a0ff" stroke-width="1.95" stroke-linecap="round" stroke-linejoin="round"/><path d="M64.1,502.1 L65.1,506.8" fill="none" stroke="#00e8ff" stroke-width="1.59" stroke-linecap="round" stroke-linejoin="round"/><path d="M64.2,502.5 L65.0,506.4" fill="none" stroke="#70ffa0" stroke-width="1.23" stroke-linecap="round" stroke-linejoin="round"/><path d="M64.3,503.0 L64.9,505.9" fill="none" stroke="#d8ff28" stroke-width="0.83" stroke-linecap="round" stroke-linejoin="round"/></g>
<g filter="url(#bf)" opacity="1.00"><path d="M74.6,503.8 L78.0,512.6" fill="none" stroke="#0000ff" stroke-width="3.08" stroke-linecap="round" stroke-linejoin="round"/><path d="M74.9,504.6 L77.7,511.8" fill="none" stroke="#0050ff" stroke-width="2.48" stroke-linecap="round" stroke-linejoin="round"/><path d="M75.1,505.1 L77.5,511.3" fill="none" stroke="#00a0ff" stroke-width="2.05" stroke-linecap="round" stroke-linejoin="round"/><path d="M75.3,505.6 L77.3,510.8" fill="none" stroke="#00e8ff" stroke-width="1.68" stroke-linecap="round" stroke-linejoin="round"/><path d="M75.5,506.0 L77.1,510.4" fill="none" stroke="#70ffa0" stroke-width="1.32" stroke-linecap="round" stroke-linejoin="round"/><path d="M75.6,506.5 L77.0,509.9" fill="none" stroke="#d8ff28" stroke-width="0.94" stroke-linecap="round" stroke-linejoin="round"/><path d="M75.9,507.2 L76.7,509.2" fill="none" stroke="#ffc000" stroke-width="0.37" stroke-linecap="round" stroke-linejoin="round"/></g>
<g filter="url(#bf)" opacity="1.00"><path d="M80.0,470.0 L82.0,472.0" fill="none" stroke="#0000ff" stroke-width="1.35" stroke-linecap="round" stroke-linejoin="round"/><path d="M80.4,470.4 L81.6,471.6" fill="none" stroke="#0050ff" stroke-width="0.67" stroke-linecap="round" stroke-linejoin="round"/></g>
<path d="M60.80,450.2 L64.00,450.2 L63.90,457.52 Q63.68,460.80 62.40,462 Q61.12,460.80 60.90,457.52 Z" fill="#fffff2" stroke="#4a4a40" stroke-width="0.35" stroke-opacity="0.75"/>
<g filter="url(#bf)" opacity="1.00"><path d="M168.0,463.6 L165.0,463.8" fill="none" stroke="#0000ff" stroke-width="1.83" stroke-linecap="round" stroke-linejoin="round"/><path d="M167.5,463.6 L165.5,463.8" fill="none" stroke="#0050ff" stroke-width="1.16" stroke-linecap="round" stroke-linejoin="round"/><path d="M167.0,463.7 L166.0,463.7" fill="none" stroke="#00a0ff" stroke-width="0.43" stroke-linecap="round" stroke-linejoin="round"/></g>
<g filter="url(#bf)" opacity="1.00"><path d="M171.3,466.1 L168.5,466.9" fill="none" stroke="#0000ff" stroke-width="1.88" stroke-linecap="round" stroke-linejoin="round"/><path d="M170.9,466.3 L168.9,466.7" fill="none" stroke="#0050ff" stroke-width="1.24" stroke-linecap="round" stroke-linejoin="round"/><path d="M170.5,466.4 L169.3,466.6" fill="none" stroke="#00a0ff" stroke-width="0.60" stroke-linecap="round" stroke-linejoin="round"/></g>
<g filter="url(#bf)" opacity="1.00"><path d="M181.9,466.1 L180.1,467.9" fill="none" stroke="#0000ff" stroke-width="1.88" stroke-linecap="round" stroke-linejoin="round"/><path d="M181.6,466.4 L180.4,467.6" fill="none" stroke="#0050ff" stroke-width="1.24" stroke-linecap="round" stroke-linejoin="round"/><path d="M181.3,466.7 L180.7,467.3" fill="none" stroke="#00a0ff" stroke-width="0.60" stroke-linecap="round" stroke-linejoin="round"/></g>
<g filter="url(#bf)" opacity="1.00"><path d="M187.9,464.4 L189.7,466.0" fill="none" stroke="#0000ff" stroke-width="1.78" stroke-linecap="round" stroke-linejoin="round"/><path d="M188.2,464.7 L189.4,465.7" fill="none" stroke="#0050ff" stroke-width="1.08" stroke-linecap="round" stroke-linejoin="round"/></g>
<g filter="url(#bf)" opacity="1.00"><path d="M192.2,467.4 L194.4,469.0" fill="none" stroke="#0000ff" stroke-width="1.88" stroke-linecap="round" stroke-linejoin="round"/><path d="M192.6,467.7 L194.0,468.7" fill="none" stroke="#0050ff" stroke-width="1.24" stroke-linecap="round" stroke-linejoin="round"/><path d="M192.9,467.9 L193.7,468.5" fill="none" stroke="#00a0ff" stroke-width="0.60" stroke-linecap="round" stroke-linejoin="round"/></g>
<g filter="url(#bf)" opacity="1.00"><path d="M200.8,463.8 L203.6,464.0" fill="none" stroke="#0000ff" stroke-width="1.83" stroke-linecap="round" stroke-linejoin="round"/><path d="M201.2,463.8 L203.2,464.0" fill="none" stroke="#0050ff" stroke-width="1.16" stroke-linecap="round" stroke-linejoin="round"/><path d="M201.7,463.9 L202.7,463.9" fill="none" stroke="#00a0ff" stroke-width="0.43" stroke-linecap="round" stroke-linejoin="round"/></g>
<g filter="url(#bf)" opacity="1.00"><path d="M209.4,466.7 L212.6,467.3" fill="none" stroke="#0000ff" stroke-width="1.88" stroke-linecap="round" stroke-linejoin="round"/><path d="M209.9,466.8 L212.1,467.2" fill="none" stroke="#0050ff" stroke-width="1.24" stroke-linecap="round" stroke-linejoin="round"/><path d="M210.4,466.9 L211.6,467.1" fill="none" stroke="#00a0ff" stroke-width="0.60" stroke-linecap="round" stroke-linejoin="round"/></g>
<g filter="url(#bf)" opacity="1.00"><path d="M213.8,464.9 L217.2,465.1" fill="none" stroke="#0000ff" stroke-width="1.78" stroke-linecap="round" stroke-linejoin="round"/><path d="M214.4,464.9 L216.6,465.1" fill="none" stroke="#0050ff" stroke-width="1.08" stroke-linecap="round" stroke-linejoin="round"/></g>
<g filter="url(#bf)" opacity="1.00"><path d="M220.4,473.1 L224.0,474.3" fill="none" stroke="#0000ff" stroke-width="1.92" stroke-linecap="round" stroke-linejoin="round"/><path d="M220.9,473.3 L223.5,474.1" fill="none" stroke="#0050ff" stroke-width="1.30" stroke-linecap="round" stroke-linejoin="round"/><path d="M221.4,473.4 L223.0,474.0" fill="none" stroke="#00a0ff" stroke-width="0.72" stroke-linecap="round" stroke-linejoin="round"/></g>
<g filter="url(#bf)" opacity="1.00"><path d="M176.9,472.9 L175.1,475.1" fill="none" stroke="#0000ff" stroke-width="1.66" stroke-linecap="round" stroke-linejoin="round"/><path d="M176.5,473.4 L175.5,474.6" fill="none" stroke="#0050ff" stroke-width="0.87" stroke-linecap="round" stroke-linejoin="round"/></g>
<g filter="url(#bf)" opacity="1.00"><path d="M195.1,474.9 L196.9,477.1" fill="none" stroke="#0000ff" stroke-width="1.72" stroke-linecap="round" stroke-linejoin="round"/><path d="M195.4,475.3 L196.6,476.7" fill="none" stroke="#0050ff" stroke-width="0.98" stroke-linecap="round" stroke-linejoin="round"/></g>
<g filter="url(#bf)" opacity="1.00"><path d="M161.5,477.1 L158.5,478.9" fill="none" stroke="#0000ff" stroke-width="1.66" stroke-linecap="round" stroke-linejoin="round"/><path d="M160.9,477.5 L159.1,478.5" fill="none" stroke="#0050ff" stroke-width="0.87" stroke-linecap="round" stroke-linejoin="round"/></g>
<g filter="url(#bf)" opacity="1.00"><path d="M203.8,478.9 L206.2,481.1" fill="none" stroke="#0000ff" stroke-width="1.72" stroke-linecap="round" stroke-linejoin="round"/><path d="M204.2,479.3 L205.8,480.7" fill="none" stroke="#0050ff" stroke-width="0.98" stroke-linecap="round" stroke-linejoin="round"/></g>
<g filter="url(#bf)" opacity="1.00"><path d="M140.6,487.1 L136.8,489.3" fill="none" stroke="#0000ff" stroke-width="1.96" stroke-linecap="round" stroke-linejoin="round"/><path d="M140.1,487.4 L137.3,489.0" fill="none" stroke="#0050ff" stroke-width="1.36" stroke-linecap="round" stroke-linejoin="round"/><path d="M139.7,487.7 L137.7,488.7" fill="none" stroke="#00a0ff" stroke-width="0.83" stroke-linecap="round" stroke-linejoin="round"/></g>
<g filter="url(#bf)" opacity="1.00"><path d="M143.8,490.3 L140.2,492.7" fill="none" stroke="#0000ff" stroke-width="1.88" stroke-linecap="round" stroke-linejoin="round"/><path d="M143.3,490.7 L140.7,492.3" fill="none" stroke="#0050ff" stroke-width="1.24" stroke-linecap="round" stroke-linejoin="round"/><path d="M142.7,491.0 L141.3,492.0" fill="none" stroke="#00a0ff" stroke-width="0.60" stroke-linecap="round" stroke-linejoin="round"/></g>
<g filter="url(#bf)" opacity="1.00"><path d="M156.8,488.0 L154.0,490.6" fill="none" stroke="#0000ff" stroke-width="1.92" stroke-linecap="round" stroke-linejoin="round"/><path d="M156.4,488.4 L154.4,490.2" fill="none" stroke="#0050ff" stroke-width="1.30" stroke-linecap="round" stroke-linejoin="round"/><path d="M156.1,488.7 L154.7,489.9" fill="none" stroke="#00a0ff" stroke-width="0.72" stroke-linecap="round" stroke-linejoin="round"/></g>
<g filter="url(#bf)" opacity="1.00"><path d="M164.3,493.3 L162.1,496.5" fill="none" stroke="#0000ff" stroke-width="1.92" stroke-linecap="round" stroke-linejoin="round"/><path d="M164.0,493.8 L162.4,496.0" fill="none" stroke="#0050ff" stroke-width="1.30" stroke-linecap="round" stroke-linejoin="round"/><path d="M163.7,494.2 L162.7,495.6" fill="none" stroke="#00a0ff" stroke-width="0.72" stroke-linecap="round" stroke-linejoin="round"/></g>
<g filter="url(#bf)" opacity="1.00"><path d="M176.0,493.2 L175.0,496.6" fill="none" stroke="#0000ff" stroke-width="1.88" stroke-linecap="round" stroke-linejoin="round"/><path d="M175.9,493.7 L175.1,496.1" fill="none" stroke="#0050ff" stroke-width="1.24" stroke-linecap="round" stroke-linejoin="round"/><path d="M175.7,494.2 L175.3,495.6" fill="none" stroke="#00a0ff" stroke-width="0.60" stroke-linecap="round" stroke-linejoin="round"/></g>
<g filter="url(#bf)" opacity="1.00"><path d="M178.1,494.7 L177.3,498.3" fill="none" stroke="#0000ff" stroke-width="1.96" stroke-linecap="round" stroke-linejoin="round"/><path d="M178.0,495.2 L177.4,497.8" fill="none" stroke="#0050ff" stroke-width="1.36" stroke-linecap="round" stroke-linejoin="round"/><path d="M177.9,495.6 L177.5,497.4" fill="none" stroke="#00a0ff" stroke-width="0.83" stroke-linecap="round" stroke-linejoin="round"/></g>
<g filter="url(#bf)" opacity="1.00"><path d="M190.7,497.4 L191.3,501.2" fill="none" stroke="#0000ff" stroke-width="1.96" stroke-linecap="round" stroke-linejoin="round"/><path d="M190.8,497.9 L191.2,500.7" fill="none" stroke="#0050ff" stroke-width="1.36" stroke-linecap="round" stroke-linejoin="round"/><path d="M190.9,498.4 L191.1,500.2" fill="none" stroke="#00a0ff" stroke-width="0.83" stroke-linecap="round" stroke-linejoin="round"/></g>
<g filter="url(#bf)" opacity="1.00"><path d="M197.1,503.0 L198.3,506.8" fill="none" stroke="#0000ff" stroke-width="1.96" stroke-linecap="round" stroke-linejoin="round"/><path d="M197.3,503.5 L198.1,506.3" fill="none" stroke="#0050ff" stroke-width="1.36" stroke-linecap="round" stroke-linejoin="round"/><path d="M197.4,503.9 L198.0,505.9" fill="none" stroke="#00a0ff" stroke-width="0.83" stroke-linecap="round" stroke-linejoin="round"/></g>
<g filter="url(#bf)" opacity="1.00"><path d="M207.8,493.3 L210.0,496.5" fill="none" stroke="#0000ff" stroke-width="1.92" stroke-linecap="round" stroke-linejoin="round"/><path d="M208.1,493.8 L209.7,496.0" fill="none" stroke="#0050ff" stroke-width="1.30" stroke-linecap="round" stroke-linejoin="round"/><path d="M208.4,494.2 L209.4,495.6" fill="none" stroke="#00a0ff" stroke-width="0.72" stroke-linecap="round" stroke-linejoin="round"/></g>
<g filter="url(#bf)" opacity="1.00"><path d="M209.9,498.8 L212.1,502.2" fill="none" stroke="#0000ff" stroke-width="1.88" stroke-linecap="round" stroke-linejoin="round"/><path d="M210.2,499.3 L211.8,501.7" fill="none" stroke="#0050ff" stroke-width="1.24" stroke-linecap="round" stroke-linejoin="round"/><path d="M210.5,499.8 L211.5,501.2" fill="none" stroke="#00a0ff" stroke-width="0.60" stroke-linecap="round" stroke-linejoin="round"/></g>
<g filter="url(#bf)" opacity="1.00"><path d="M214.2,501.0 L216.8,504.4" fill="none" stroke="#0000ff" stroke-width="1.96" stroke-linecap="round" stroke-linejoin="round"/><path d="M214.6,501.4 L216.4,504.0" fill="none" stroke="#0050ff" stroke-width="1.36" stroke-linecap="round" stroke-linejoin="round"/><path d="M214.9,501.9 L216.1,503.5" fill="none" stroke="#00a0ff" stroke-width="0.83" stroke-linecap="round" stroke-linejoin="round"/></g>
<g filter="url(#bf)" opacity="1.00"><path d="M221.7,497.8 L224.9,500.8" fill="none" stroke="#0000ff" stroke-width="1.92" stroke-linecap="round" stroke-linejoin="round"/><path d="M222.2,498.2 L224.4,500.4" fill="none" stroke="#0050ff" stroke-width="1.30" stroke-linecap="round" stroke-linejoin="round"/><path d="M222.6,498.6 L224.0,500.0" fill="none" stroke="#00a0ff" stroke-width="0.72" stroke-linecap="round" stroke-linejoin="round"/></g>
<g filter="url(#bf)" opacity="1.00"><path d="M227.1,488.2 L230.7,490.4" fill="none" stroke="#0000ff" stroke-width="1.96" stroke-linecap="round" stroke-linejoin="round"/><path d="M227.6,488.5 L230.2,490.1" fill="none" stroke="#0050ff" stroke-width="1.36" stroke-linecap="round" stroke-linejoin="round"/><path d="M228.0,488.7 L229.8,489.9" fill="none" stroke="#00a0ff" stroke-width="0.83" stroke-linecap="round" stroke-linejoin="round"/></g>
<g filter="url(#bf)" opacity="1.00"><path d="M229.3,499.0 L232.9,502.0" fill="none" stroke="#0000ff" stroke-width="1.96" stroke-linecap="round" stroke-linejoin="round"/><path d="M229.8,499.4 L232.4,501.6" fill="none" stroke="#0050ff" stroke-width="1.36" stroke-linecap="round" stroke-linejoin="round"/><path d="M230.2,499.8 L232.0,501.2" fill="none" stroke="#00a0ff" stroke-width="0.83" stroke-linecap="round" stroke-linejoin="round"/></g>
<g filter="url(#bf)" opacity="1.00"><path d="M170.9,483.6 L169.1,486.4" fill="none" stroke="#0000ff" stroke-width="1.78" stroke-linecap="round" stroke-linejoin="round"/><path d="M170.6,484.1 L169.4,485.9" fill="none" stroke="#0050ff" stroke-width="1.08" stroke-linecap="round" stroke-linejoin="round"/></g>
<g filter="url(#bf)" opacity="1.00"><path d="M186.0,484.4 L186.0,487.6" fill="none" stroke="#0000ff" stroke-width="1.78" stroke-linecap="round" stroke-linejoin="round"/><path d="M186.0,485.0 L186.0,487.0" fill="none" stroke="#0050ff" stroke-width="1.08" stroke-linecap="round" stroke-linejoin="round"/></g>
<g filter="url(#bf)" opacity="1.00"><path d="M199.2,487.5 L200.8,490.5" fill="none" stroke="#0000ff" stroke-width="1.83" stroke-linecap="round" stroke-linejoin="round"/><path d="M199.4,488.0 L200.6,490.0" fill="none" stroke="#0050ff" stroke-width="1.16" stroke-linecap="round" stroke-linejoin="round"/><path d="M199.7,488.5 L200.3,489.5" fill="none" stroke="#00a0ff" stroke-width="0.43" stroke-linecap="round" stroke-linejoin="round"/></g>
<g filter="url(#bf)" opacity="1.00"><path d="M218.4,487.8 L221.6,490.2" fill="none" stroke="#0000ff" stroke-width="1.78" stroke-linecap="round" stroke-linejoin="round"/><path d="M219.0,488.2 L221.0,489.8" fill="none" stroke="#0050ff" stroke-width="1.08" stroke-linecap="round" stroke-linejoin="round"/></g>
<g filter="url(#bf)" opacity="1.00"><path d="M133.9,498.0 L130.1,500.6" fill="none" stroke="#0000ff" stroke-width="1.92" stroke-linecap="round" stroke-linejoin="round"/><path d="M133.4,498.3 L130.6,500.3" fill="none" stroke="#0050ff" stroke-width="1.30" stroke-linecap="round" stroke-linejoin="round"/><path d="M132.9,498.7 L131.1,499.9" fill="none" stroke="#00a0ff" stroke-width="0.72" stroke-linecap="round" stroke-linejoin="round"/></g>
<g filter="url(#bf)" opacity="1.00"><path d="M141.5,505.5 L138.1,508.7" fill="none" stroke="#0000ff" stroke-width="1.96" stroke-linecap="round" stroke-linejoin="round"/><path d="M141.0,505.9 L138.6,508.3" fill="none" stroke="#0050ff" stroke-width="1.36" stroke-linecap="round" stroke-linejoin="round"/><path d="M140.6,506.3 L139.0,507.9" fill="none" stroke="#00a0ff" stroke-width="0.83" stroke-linecap="round" stroke-linejoin="round"/></g>
<g filter="url(#bf)" opacity="1.00"><path d="M144.7,510.9 L141.7,514.5" fill="none" stroke="#0000ff" stroke-width="1.92" stroke-linecap="round" stroke-linejoin="round"/><path d="M144.3,511.4 L142.1,514.0" fill="none" stroke="#0050ff" stroke-width="1.30" stroke-linecap="round" stroke-linejoin="round"/><path d="M143.9,511.9 L142.5,513.5" fill="none" stroke="#00a0ff" stroke-width="0.72" stroke-linecap="round" stroke-linejoin="round"/></g>
<g filter="url(#bf)" opacity="1.00"><path d="M151.0,519.6 L148.6,523.6" fill="none" stroke="#0000ff" stroke-width="1.92" stroke-linecap="round" stroke-linejoin="round"/><path d="M150.7,520.2 L148.9,523.0" fill="none" stroke="#0050ff" stroke-width="1.30" stroke-linecap="round" stroke-linejoin="round"/><path d="M150.3,520.7 L149.3,522.5" fill="none" stroke="#00a0ff" stroke-width="0.72" stroke-linecap="round" stroke-linejoin="round"/></g>
<g filter="url(#bf)" opacity="1.00"><path d="M175.9,520.4 L175.1,525.0" fill="none" stroke="#0000ff" stroke-width="1.96" stroke-linecap="round" stroke-linejoin="round"/><path d="M175.8,521.0 L175.2,524.4" fill="none" stroke="#0050ff" stroke-width="1.36" stroke-linecap="round" stroke-linejoin="round"/><path d="M175.7,521.6 L175.3,523.8" fill="none" stroke="#00a0ff" stroke-width="0.83" stroke-linecap="round" stroke-linejoin="round"/></g>
<g filter="url(#bf)" opacity="1.00"><path d="M182.2,529.3 L182.0,533.9" fill="none" stroke="#0000ff" stroke-width="2.07" stroke-linecap="round" stroke-linejoin="round"/><path d="M182.2,529.8 L182.0,533.4" fill="none" stroke="#0050ff" stroke-width="1.51" stroke-linecap="round" stroke-linejoin="round"/><path d="M182.2,530.3 L182.0,532.9" fill="none" stroke="#00a0ff" stroke-width="1.05" stroke-linecap="round" stroke-linejoin="round"/><path d="M182.1,530.8 L182.1,532.4" fill="none" stroke="#00e8ff" stroke-width="0.52" stroke-linecap="round" stroke-linejoin="round"/></g>
<g filter="url(#bf)" opacity="1.00"><path d="M186.6,518.2 L186.6,522.8" fill="none" stroke="#0000ff" stroke-width="1.96" stroke-linecap="round" stroke-linejoin="round"/><path d="M186.6,518.8 L186.6,522.2" fill="none" stroke="#0050ff" stroke-width="1.36" stroke-linecap="round" stroke-linejoin="round"/><path d="M186.6,519.4 L186.6,521.6" fill="none" stroke="#00a0ff" stroke-width="0.83" stroke-linecap="round" stroke-linejoin="round"/></g>
<g filter="url(#bf)" opacity="1.00"><path d="M188.7,533.8 L188.9,538.4" fill="none" stroke="#0000ff" stroke-width="2.10" stroke-linecap="round" stroke-linejoin="round"/><path d="M188.7,534.3 L188.9,537.9" fill="none" stroke="#0050ff" stroke-width="1.55" stroke-linecap="round" stroke-linejoin="round"/><path d="M188.7,534.7 L188.9,537.5" fill="none" stroke="#00a0ff" stroke-width="1.11" stroke-linecap="round" stroke-linejoin="round"/><path d="M188.8,535.2 L188.8,537.0" fill="none" stroke="#00e8ff" stroke-width="0.63" stroke-linecap="round" stroke-linejoin="round"/></g>
<g filter="url(#bf)" opacity="1.00"><path d="M201.7,533.8 L202.7,538.4" fill="none" stroke="#0000ff" stroke-width="2.10" stroke-linecap="round" stroke-linejoin="round"/><path d="M201.8,534.3 L202.6,537.9" fill="none" stroke="#0050ff" stroke-width="1.55" stroke-linecap="round" stroke-linejoin="round"/><path d="M201.9,534.8 L202.5,537.4" fill="none" stroke="#00a0ff" stroke-width="1.11" stroke-linecap="round" stroke-linejoin="round"/><path d="M202.0,535.2 L202.4,537.0" fill="none" stroke="#00e8ff" stroke-width="0.63" stroke-linecap="round" stroke-linejoin="round"/></g>
<g filter="url(#bf)" opacity="1.00"><path d="M205.9,529.4 L207.3,533.8" fill="none" stroke="#0000ff" stroke-width="2.03" stroke-linecap="round" stroke-linejoin="round"/><path d="M206.1,529.9 L207.1,533.3" fill="none" stroke="#0050ff" stroke-width="1.46" stroke-linecap="round" stroke-linejoin="round"/><path d="M206.2,530.4 L207.0,532.8" fill="none" stroke="#00a0ff" stroke-width="0.98" stroke-linecap="round" stroke-linejoin="round"/><path d="M206.4,531.0 L206.8,532.2" fill="none" stroke="#00e8ff" stroke-width="0.37" stroke-linecap="round" stroke-linejoin="round"/></g>
<g filter="url(#bf)" opacity="1.00"><path d="M212.0,518.9 L214.0,523.1" fill="none" stroke="#0000ff" stroke-width="1.92" stroke-linecap="round" stroke-linejoin="round"/><path d="M212.3,519.5 L213.7,522.5" fill="none" stroke="#0050ff" stroke-width="1.30" stroke-linecap="round" stroke-linejoin="round"/><path d="M212.5,520.0 L213.5,522.0" fill="none" stroke="#00a0ff" stroke-width="0.72" stroke-linecap="round" stroke-linejoin="round"/></g>
<g filter="url(#bf)" opacity="1.00"><path d="M218.7,512.0 L221.3,516.0" fill="none" stroke="#0000ff" stroke-width="1.88" stroke-linecap="round" stroke-linejoin="round"/><path d="M219.1,512.6 L220.9,515.4" fill="none" stroke="#0050ff" stroke-width="1.24" stroke-linecap="round" stroke-linejoin="round"/><path d="M219.5,513.2 L220.5,514.8" fill="none" stroke="#00a0ff" stroke-width="0.60" stroke-linecap="round" stroke-linejoin="round"/></g>
<g filter="url(#bf)" opacity="1.00"><path d="M161.1,508.0 L158.9,512.0" fill="none" stroke="#0000ff" stroke-width="1.78" stroke-linecap="round" stroke-linejoin="round"/><path d="M160.7,508.7 L159.3,511.3" fill="none" stroke="#0050ff" stroke-width="1.08" stroke-linecap="round" stroke-linejoin="round"/></g>
<g filter="url(#bf)" opacity="1.00"><path d="M168.7,512.9 L167.3,517.1" fill="none" stroke="#0000ff" stroke-width="1.78" stroke-linecap="round" stroke-linejoin="round"/><path d="M168.5,513.6 L167.5,516.4" fill="none" stroke="#0050ff" stroke-width="1.08" stroke-linecap="round" stroke-linejoin="round"/></g>
<g filter="url(#bf)" opacity="1.00"><path d="M232.3,508.4 L235.7,511.6" fill="none" stroke="#0000ff" stroke-width="1.83" stroke-linecap="round" stroke-linejoin="round"/><path d="M232.9,508.9 L235.1,511.1" fill="none" stroke="#0050ff" stroke-width="1.16" stroke-linecap="round" stroke-linejoin="round"/><path d="M233.5,509.5 L234.5,510.5" fill="none" stroke="#00a0ff" stroke-width="0.43" stroke-linecap="round" stroke-linejoin="round"/></g>
<g filter="url(#bf)" opacity="1.00"><path d="M237.9,491.9 L242.1,494.1" fill="none" stroke="#0000ff" stroke-width="1.83" stroke-linecap="round" stroke-linejoin="round"/><path d="M238.6,492.2 L241.4,493.8" fill="none" stroke="#0050ff" stroke-width="1.16" stroke-linecap="round" stroke-linejoin="round"/><path d="M239.3,492.6 L240.7,493.4" fill="none" stroke="#00a0ff" stroke-width="0.43" stroke-linecap="round" stroke-linejoin="round"/></g>
<g filter="url(#bf)" opacity="1.00"><path d="M130.7,477.4 L126.3,478.6" fill="none" stroke="#0000ff" stroke-width="1.72" stroke-linecap="round" stroke-linejoin="round"/><path d="M129.9,477.6 L127.1,478.4" fill="none" stroke="#0050ff" stroke-width="0.98" stroke-linecap="round" stroke-linejoin="round"/></g>
<g filter="url(#bf)" opacity="1.00"><path d="M193.6,531.5 L196.6,547.0" fill="none" stroke="#0000ff" stroke-width="3.55" stroke-linecap="round" stroke-linejoin="round"/><path d="M193.8,532.7 L196.3,545.2" fill="none" stroke="#0050ff" stroke-width="2.78" stroke-linecap="round" stroke-linejoin="round"/><path d="M194.0,533.6 L196.0,543.9" fill="none" stroke="#00a0ff" stroke-width="2.21" stroke-linecap="round" stroke-linejoin="round"/><path d="M194.2,534.4 L195.8,542.7" fill="none" stroke="#00e8ff" stroke-width="1.69" stroke-linecap="round" stroke-linejoin="round"/><path d="M194.3,535.2 L195.5,541.4" fill="none" stroke="#70ffa0" stroke-width="1.13" stroke-linecap="round" stroke-linejoin="round"/></g>
<g filter="url(#bf)" opacity="1.00"><path d="M190.5,533.0 L189.6,541.0" fill="none" stroke="#0000ff" stroke-width="2.15" stroke-linecap="round" stroke-linejoin="round"/><path d="M190.4,534.0 L189.7,540.0" fill="none" stroke="#0050ff" stroke-width="1.57" stroke-linecap="round" stroke-linejoin="round"/><path d="M190.3,534.7 L189.8,539.3" fill="none" stroke="#00a0ff" stroke-width="1.09" stroke-linecap="round" stroke-linejoin="round"/><path d="M190.2,535.6 L189.9,538.4" fill="none" stroke="#00e8ff" stroke-width="0.55" stroke-linecap="round" stroke-linejoin="round"/></g>
<g filter="url(#bf)" opacity="1.00"><path d="M199.5,532.0 L202.5,542.0" fill="none" stroke="#0000ff" stroke-width="2.15" stroke-linecap="round" stroke-linejoin="round"/><path d="M199.9,533.2 L202.1,540.8" fill="none" stroke="#0050ff" stroke-width="1.57" stroke-linecap="round" stroke-linejoin="round"/><path d="M200.1,534.2 L201.9,539.8" fill="none" stroke="#00a0ff" stroke-width="1.09" stroke-linecap="round" stroke-linejoin="round"/><path d="M200.5,535.3 L201.5,538.7" fill="none" stroke="#00e8ff" stroke-width="0.55" stroke-linecap="round" stroke-linejoin="round"/></g>
<g filter="url(#bf)" opacity="1.00"><path d="M153.5,529.5 L151.5,535.5" fill="none" stroke="#0000ff" stroke-width="2.47" stroke-linecap="round" stroke-linejoin="round"/><path d="M153.3,530.1 L151.7,534.9" fill="none" stroke="#0050ff" stroke-width="1.86" stroke-linecap="round" stroke-linejoin="round"/><path d="M153.1,530.7 L151.9,534.3" fill="none" stroke="#00a0ff" stroke-width="1.39" stroke-linecap="round" stroke-linejoin="round"/><path d="M152.9,531.2 L152.1,533.8" fill="none" stroke="#00e8ff" stroke-width="0.92" stroke-linecap="round" stroke-linejoin="round"/></g>
<path d="M184.00,450.2 L187.00,450.2 L186.90,457.83 Q186.70,461.30 185.50,462.5 Q184.30,461.30 184.10,457.83 Z" fill="#fffff2" stroke="#4a4a40" stroke-width="0.35" stroke-opacity="0.75"/>
<g><path d="M269.5,535.5 L269.7,543.3" fill="none" stroke="#0a38ff" stroke-width="1.1" stroke-linecap="round" filter="url(#bs)" opacity="0.26"/><path d="M343.5,546.7 L343.9,553.8" fill="none" stroke="#0a38ff" stroke-width="1.1" stroke-linecap="round" filter="url(#bs)" opacity="0.26"/><path d="M250.4,505.2 L247.6,512.2" fill="none" stroke="#0a38ff" stroke-width="1.1" stroke-linecap="round" filter="url(#bs)" opacity="0.38"/><path d="M277.4,492.1 L279.6,495.7" fill="none" stroke="#0a38ff" stroke-width="1.1" stroke-linecap="round" filter="url(#bs)" opacity="0.37"/><path d="M353.3,528.5 L352.7,532.7" fill="none" stroke="#0a38ff" stroke-width="1.1" stroke-linecap="round" filter="url(#bs)" opacity="0.31"/><path d="M263.7,560.4 L261.9,566.4" fill="none" stroke="#0a38ff" stroke-width="1.1" stroke-linecap="round" filter="url(#bs)" opacity="0.38"/><path d="M264.7,558.2 L265.4,564.8" fill="none" stroke="#0a38ff" stroke-width="1.1" stroke-linecap="round" filter="url(#bs)" opacity="0.28"/><path d="M307.2,487.8 L308.9,491.6" fill="none" stroke="#0a38ff" stroke-width="1.1" stroke-linecap="round" filter="url(#bs)" opacity="0.26"/><path d="M342.1,489.8 L346.3,498.7" fill="none" stroke="#0a38ff" stroke-width="1.1" stroke-linecap="round" filter="url(#bs)" opacity="0.37"/><path d="M340.0,525.2 L337.3,533.1" fill="none" stroke="#0a38ff" stroke-width="1.1" stroke-linecap="round" filter="url(#bs)" opacity="0.31"/><path d="M347.6,489.1 L351.6,497.7" fill="none" stroke="#0a38ff" stroke-width="1.1" stroke-linecap="round" filter="url(#bs)" opacity="0.3"/><path d="M293.1,512.9 L296.4,518.3" fill="none" stroke="#0a38ff" stroke-width="1.1" stroke-linecap="round" filter="url(#bs)" opacity="0.29"/><path d="M253.2,478.9 L257.5,486.0" fill="none" stroke="#0a38ff" stroke-width="1.1" stroke-linecap="round" filter="url(#bs)" opacity="0.31"/><path d="M308.0,522.3 L306.1,530.6" fill="none" stroke="#0a38ff" stroke-width="1.1" stroke-linecap="round" filter="url(#bs)" opacity="0.34"/><path d="M315.7,529.1 L314.3,534.0" fill="none" stroke="#0a38ff" stroke-width="1.1" stroke-linecap="round" filter="url(#bs)" opacity="0.28"/><path d="M359.4,502.9 L358.3,510.4" fill="none" stroke="#0a38ff" stroke-width="1.1" stroke-linecap="round" filter="url(#bs)" opacity="0.23"/><path d="M257.7,547.3 L257.1,555.9" fill="none" stroke="#0a38ff" stroke-width="1.1" stroke-linecap="round" filter="url(#bs)" opacity="0.35"/><path d="M329.8,555.4 L329.3,565.1" fill="none" stroke="#0a38ff" stroke-width="1.1" stroke-linecap="round" filter="url(#bs)" opacity="0.42"/><path d="M363.4,526.1 L363.8,535.4" fill="none" stroke="#0a38ff" stroke-width="1.1" stroke-linecap="round" filter="url(#bs)" opacity="0.29"/><path d="M279.2,553.2 L277.3,557.9" fill="none" stroke="#0a38ff" stroke-width="1.1" stroke-linecap="round" filter="url(#bs)" opacity="0.38"/><path d="M341.3,515.9 L337.8,524.2" fill="none" stroke="#0a38ff" stroke-width="1.1" stroke-linecap="round" filter="url(#bs)" opacity="0.26"/><path d="M284.2,509.9 L282.3,514.5" fill="none" stroke="#0a38ff" stroke-width="1.1" stroke-linecap="round" filter="url(#bs)" opacity="0.28"/><path d="M356.1,563.4 L356.3,571.9" fill="none" stroke="#0a38ff" stroke-width="1.1" stroke-linecap="round" filter="url(#bs)" opacity="0.26"/><path d="M363.1,519.9 L359.7,527.6" fill="none" stroke="#0a38ff" stroke-width="1.1" stroke-linecap="round" filter="url(#bs)" opacity="0.25"/><path d="M348.9,545.5 L350.3,554.7" fill="none" stroke="#0a38ff" stroke-width="1.1" stroke-linecap="round" filter="url(#bs)" opacity="0.3"/><path d="M318.6,550.7 L319.1,556.5" fill="none" stroke="#0a38ff" stroke-width="1.1" stroke-linecap="round" filter="url(#bs)" opacity="0.27"/><path d="M340.7,471.0 L344.6,478.1" fill="none" stroke="#0a38ff" stroke-width="1.1" stroke-linecap="round" filter="url(#bs)" opacity="0.21"/><path d="M320.1,531.2 L321.3,540.2" fill="none" stroke="#0a38ff" stroke-width="1.1" stroke-linecap="round" filter="url(#bs)" opacity="0.26"/><path d="M297.9,561.1 L294.9,570.0" fill="none" stroke="#0a38ff" stroke-width="1.1" stroke-linecap="round" filter="url(#bs)" opacity="0.23"/><path d="M261.1,472.4 L259.1,478.8" fill="none" stroke="#0a38ff" stroke-width="1.1" stroke-linecap="round" filter="url(#bs)" opacity="0.39"/><path d="M327.3,482.0 L326.4,489.2" fill="none" stroke="#0a38ff" stroke-width="1.1" stroke-linecap="round" filter="url(#bs)" opacity="0.31"/><path d="M275.9,485.8 L275.5,490.9" fill="none" stroke="#0a38ff" stroke-width="1.1" stroke-linecap="round" filter="url(#bs)" opacity="0.36"/><path d="M314.9,474.4 L318.3,481.9" fill="none" stroke="#0a38ff" stroke-width="1.1" stroke-linecap="round" filter="url(#bs)" opacity="0.37"/><path d="M343.3,470.7 L340.7,477.0" fill="none" stroke="#0a38ff" stroke-width="1.1" stroke-linecap="round" filter="url(#bs)" opacity="0.37"/><path d="M270.7,537.6 L272.0,542.9" fill="none" stroke="#0a38ff" stroke-width="1.1" stroke-linecap="round" filter="url(#bs)" opacity="0.28"/><path d="M254.9,506.9 L257.5,512.2" fill="none" stroke="#0a38ff" stroke-width="1.1" stroke-linecap="round" filter="url(#bs)" opacity="0.27"/><path d="M309.4,522.2 L306.0,531.3" fill="none" stroke="#0a38ff" stroke-width="1.1" stroke-linecap="round" filter="url(#bs)" opacity="0.34"/><path d="M310.0,539.8 L308.6,549.5" fill="none" stroke="#0a38ff" stroke-width="1.1" stroke-linecap="round" filter="url(#bs)" opacity="0.36"/><path d="M312.0,523.3 L313.6,527.4" fill="none" stroke="#0a38ff" stroke-width="1.1" stroke-linecap="round" filter="url(#bs)" opacity="0.42"/><path d="M291.9,500.2 L288.6,509.6" fill="none" stroke="#0a38ff" stroke-width="1.1" stroke-linecap="round" filter="url(#bs)" opacity="0.23"/><path d="M258.7,547.4 L258.6,555.9" fill="none" stroke="#0a38ff" stroke-width="1.1" stroke-linecap="round" filter="url(#bs)" opacity="0.34"/><path d="M252.3,531.2 L252.8,537.9" fill="none" stroke="#0a38ff" stroke-width="1.1" stroke-linecap="round" filter="url(#bs)" opacity="0.29"/><path d="M297.4,491.4 L297.3,495.7" fill="none" stroke="#0a38ff" stroke-width="1.1" stroke-linecap="round" filter="url(#bs)" opacity="0.26"/><path d="M333.1,547.6 L333.1,556.0" fill="none" stroke="#0a38ff" stroke-width="1.1" stroke-linecap="round" filter="url(#bs)" opacity="0.26"/><path d="M295.5,516.2 L299.3,523.0" fill="none" stroke="#0a38ff" stroke-width="1.1" stroke-linecap="round" filter="url(#bs)" opacity="0.23"/><path d="M306.6,516.7 L310.1,524.2" fill="none" stroke="#0a38ff" stroke-width="1.1" stroke-linecap="round" filter="url(#bs)" opacity="0.37"/><path d="M324.0,542.1 L327.1,549.4" fill="none" stroke="#0a38ff" stroke-width="1.1" stroke-linecap="round" filter="url(#bs)" opacity="0.36"/><path d="M330.6,493.3 L330.0,502.8" fill="none" stroke="#0a38ff" stroke-width="1.1" stroke-linecap="round" filter="url(#bs)" opacity="0.34"/><path d="M347.3,561.6 L343.1,570.5" fill="none" stroke="#0a38ff" stroke-width="1.1" stroke-linecap="round" filter="url(#bs)" opacity="0.28"/><path d="M286.8,507.2 L287.3,512.0" fill="none" stroke="#0a38ff" stroke-width="1.1" stroke-linecap="round" filter="url(#bs)" opacity="0.23"/><path d="M285.7,559.6 L285.8,568.1" fill="none" stroke="#0a38ff" stroke-width="1.1" stroke-linecap="round" filter="url(#bs)" opacity="0.23"/><path d="M362.8,536.9 L362.2,542.1" fill="none" stroke="#0a38ff" stroke-width="1.1" stroke-linecap="round" filter="url(#bs)" opacity="0.34"/><path d="M330.4,494.8 L329.2,504.4" fill="none" stroke="#0a38ff" stroke-width="1.1" stroke-linecap="round" filter="url(#bs)" opacity="0.26"/><path d="M349.8,484.6 L347.8,492.4" fill="none" stroke="#0a38ff" stroke-width="1.1" stroke-linecap="round" filter="url(#bs)" opacity="0.34"/><path d="M282.7,506.0 L282.9,515.6" fill="none" stroke="#0a38ff" stroke-width="1.1" stroke-linecap="round" filter="url(#bs)" opacity="0.3"/><path d="M322.8,496.7 L322.5,501.7" fill="none" stroke="#0a38ff" stroke-width="1.1" stroke-linecap="round" filter="url(#bs)" opacity="0.27"/><path d="M272.2,561.3 L273.7,565.2" fill="none" stroke="#0a38ff" stroke-width="1.1" stroke-linecap="round" filter="url(#bs)" opacity="0.41"/><path d="M333.1,471.8 L330.3,478.2" fill="none" stroke="#0a38ff" stroke-width="1.1" stroke-linecap="round" filter="url(#bs)" opacity="0.34"/><path d="M332.6,492.8 L333.0,496.8" fill="none" stroke="#0a38ff" stroke-width="1.1" stroke-linecap="round" filter="url(#bs)" opacity="0.23"/><path d="M286.5,513.1 L285.7,522.5" fill="none" stroke="#0a38ff" stroke-width="1.1" stroke-linecap="round" filter="url(#bs)" opacity="0.24"/><path d="M343.4,548.1 L340.6,554.7" fill="none" stroke="#0a38ff" stroke-width="1.1" stroke-linecap="round" filter="url(#bs)" opacity="0.25"/><path d="M297.6,522.4 L299.4,527.5" fill="none" stroke="#0a38ff" stroke-width="1.1" stroke-linecap="round" filter="url(#bs)" opacity="0.39"/><path d="M359.2,553.9 L359.7,558.0" fill="none" stroke="#0a38ff" stroke-width="1.1" stroke-linecap="round" filter="url(#bs)" opacity="0.23"/><path d="M356.2,541.0 L353.9,549.2" fill="none" stroke="#0a38ff" stroke-width="1.1" stroke-linecap="round" filter="url(#bs)" opacity="0.22"/><path d="M346.2,527.6 L346.4,535.3" fill="none" stroke="#0a38ff" stroke-width="1.1" stroke-linecap="round" filter="url(#bs)" opacity="0.38"/><path d="M289.9,495.6 L289.0,501.7" fill="none" stroke="#0a38ff" stroke-width="1.1" stroke-linecap="round" filter="url(#bs)" opacity="0.34"/><path d="M355.0,476.7 L355.3,481.1" fill="none" stroke="#0a38ff" stroke-width="1.1" stroke-linecap="round" filter="url(#bs)" opacity="0.35"/><path d="M272.4,495.6 L270.6,499.6" fill="none" stroke="#0a38ff" stroke-width="1.1" stroke-linecap="round" filter="url(#bs)" opacity="0.31"/><path d="M330.3,532.1 L328.7,536.7" fill="none" stroke="#0a38ff" stroke-width="1.1" stroke-linecap="round" filter="url(#bs)" opacity="0.41"/><path d="M313.5,508.8 L315.8,516.6" fill="none" stroke="#0a38ff" stroke-width="1.1" stroke-linecap="round" filter="url(#bs)" opacity="0.32"/><path d="M259.2,548.6 L257.1,553.4" fill="none" stroke="#0a38ff" stroke-width="1.1" stroke-linecap="round" filter="url(#bs)" opacity="0.28"/><path d="M312.8,529.7 L314.1,534.6" fill="none" stroke="#0a38ff" stroke-width="1.1" stroke-linecap="round" filter="url(#bs)" opacity="0.31"/><path d="M269.1,550.8 L273.0,558.8" fill="none" stroke="#0a38ff" stroke-width="1.1" stroke-linecap="round" filter="url(#bs)" opacity="0.35"/><path d="M275.6,543.9 L276.4,553.3" fill="none" stroke="#0a38ff" stroke-width="1.1" stroke-linecap="round" filter="url(#bs)" opacity="0.4"/><path d="M364.5,507.1 L369.0,515.6" fill="none" stroke="#0a38ff" stroke-width="1.1" stroke-linecap="round" filter="url(#bs)" opacity="0.38"/><path d="M251.3,503.4 L252.5,511.0" fill="none" stroke="#0a38ff" stroke-width="1.1" stroke-linecap="round" filter="url(#bs)" opacity="0.37"/><path d="M326.3,485.3 L327.2,494.9" fill="none" stroke="#0a38ff" stroke-width="1.1" stroke-linecap="round" filter="url(#bs)" opacity="0.4"/><path d="M274.4,564.8 L276.8,571.8" fill="none" stroke="#0a38ff" stroke-width="1.1" stroke-linecap="round" filter="url(#bs)" opacity="0.37"/><path d="M354.2,504.4 L354.0,508.9" fill="none" stroke="#0a38ff" stroke-width="1.1" stroke-linecap="round" filter="url(#bs)" opacity="0.25"/><path d="M313.7,547.4 L311.8,553.3" fill="none" stroke="#0a38ff" stroke-width="1.1" stroke-linecap="round" filter="url(#bs)" opacity="0.22"/><path d="M299.9,525.1 L300.8,529.2" fill="none" stroke="#0a38ff" stroke-width="1.1" stroke-linecap="round" filter="url(#bs)" opacity="0.25"/><path d="M262.6,558.1 L265.7,564.6" fill="none" stroke="#0a38ff" stroke-width="1.1" stroke-linecap="round" filter="url(#bs)" opacity="0.32"/><path d="M264.5,492.8 L265.7,499.2" fill="none" stroke="#0a38ff" stroke-width="1.1" stroke-linecap="round" filter="url(#bs)" opacity="0.37"/><path d="M338.7,531.8 L338.6,537.3" fill="none" stroke="#0a38ff" stroke-width="1.1" stroke-linecap="round" filter="url(#bs)" opacity="0.29"/><path d="M307.8,495.2 L307.8,502.4" fill="none" stroke="#0a38ff" stroke-width="1.1" stroke-linecap="round" filter="url(#bs)" opacity="0.22"/><path d="M347.1,525.7 L349.6,534.2" fill="none" stroke="#0a38ff" stroke-width="1.1" stroke-linecap="round" filter="url(#bs)" opacity="0.36"/><path d="M367.2,505.8 L364.5,511.5" fill="none" stroke="#0a38ff" stroke-width="1.1" stroke-linecap="round" filter="url(#bs)" opacity="0.35"/><path d="M318.6,524.8 L316.1,534.4" fill="none" stroke="#0a38ff" stroke-width="1.1" stroke-linecap="round" filter="url(#bs)" opacity="0.26"/><path d="M336.6,547.2 L334.0,553.5" fill="none" stroke="#0a38ff" stroke-width="1.1" stroke-linecap="round" filter="url(#bs)" opacity="0.29"/><path d="M347.5,517.5 L347.1,524.2" fill="none" stroke="#0a38ff" stroke-width="1.1" stroke-linecap="round" filter="url(#bs)" opacity="0.34"/><path d="M320.6,535.8 L323.3,544.6" fill="none" stroke="#0a38ff" stroke-width="1.1" stroke-linecap="round" filter="url(#bs)" opacity="0.29"/><path d="M279.5,544.3 L283.6,552.1" fill="none" stroke="#0a38ff" stroke-width="1.1" stroke-linecap="round" filter="url(#bs)" opacity="0.25"/><path d="M350.0,554.6 L349.4,559.0" fill="none" stroke="#0a38ff" stroke-width="1.1" stroke-linecap="round" filter="url(#bs)" opacity="0.34"/><path d="M267.2,549.0 L268.5,554.4" fill="none" stroke="#0a38ff" stroke-width="1.1" stroke-linecap="round" filter="url(#bs)" opacity="0.27"/><path d="M275.7,489.7 L277.6,496.4" fill="none" stroke="#0a38ff" stroke-width="1.1" stroke-linecap="round" filter="url(#bs)" opacity="0.26"/><path d="M331.0,501.8 L330.4,509.7" fill="none" stroke="#0a38ff" stroke-width="1.1" stroke-linecap="round" filter="url(#bs)" opacity="0.25"/><path d="M266.6,475.5 L266.3,483.7" fill="none" stroke="#0a38ff" stroke-width="1.1" stroke-linecap="round" filter="url(#bs)" opacity="0.24"/><path d="M353.9,532.2 L355.0,536.2" fill="none" stroke="#0a38ff" stroke-width="1.1" stroke-linecap="round" filter="url(#bs)" opacity="0.33"/><path d="M302.4,517.6 L301.6,527.3" fill="none" stroke="#0a38ff" stroke-width="1.1" stroke-linecap="round" filter="url(#bs)" opacity="0.34"/><path d="M325.0,504.7 L326.8,510.5" fill="none" stroke="#0a38ff" stroke-width="1.1" stroke-linecap="round" filter="url(#bs)" opacity="0.34"/><path d="M303.9,518.8 L305.7,523.8" fill="none" stroke="#0a38ff" stroke-width="1.1" stroke-linecap="round" filter="url(#bs)" opacity="0.21"/><path d="M325.9,513.2 L326.6,518.5" fill="none" stroke="#0a38ff" stroke-width="1.1" stroke-linecap="round" filter="url(#bs)" opacity="0.33"/><path d="M260.2,516.6 L261.9,521.2" fill="none" stroke="#0a38ff" stroke-width="1.1" stroke-linecap="round" filter="url(#bs)" opacity="0.28"/><path d="M288.7,490.5 L287.6,494.6" fill="none" stroke="#0a38ff" stroke-width="1.1" stroke-linecap="round" filter="url(#bs)" opacity="0.24"/><path d="M323.7,550.5 L321.9,555.5" fill="none" stroke="#0a38ff" stroke-width="1.1" stroke-linecap="round" filter="url(#bs)" opacity="0.32"/><path d="M263.6,508.5 L261.5,516.8" fill="none" stroke="#0a38ff" stroke-width="1.1" stroke-linecap="round" filter="url(#bs)" opacity="0.36"/><path d="M313.6,478.1 L314.4,483.5" fill="none" stroke="#0a38ff" stroke-width="1.1" stroke-linecap="round" filter="url(#bs)" opacity="0.23"/><path d="M274.0,524.8 L274.7,533.7" fill="none" stroke="#0a38ff" stroke-width="1.1" stroke-linecap="round" filter="url(#bs)" opacity="0.35"/><path d="M251.1,498.7 L253.7,504.0" fill="none" stroke="#0a38ff" stroke-width="1.1" stroke-linecap="round" filter="url(#bs)" opacity="0.29"/><path d="M342.6,473.3 L345.6,479.6" fill="none" stroke="#0a38ff" stroke-width="1.1" stroke-linecap="round" filter="url(#bs)" opacity="0.37"/><path d="M318.4,487.3 L314.9,496.2" fill="none" stroke="#0a38ff" stroke-width="1.1" stroke-linecap="round" filter="url(#bs)" opacity="0.41"/><path d="M341.6,538.4 L339.6,545.3" fill="none" stroke="#0a38ff" stroke-width="1.1" stroke-linecap="round" filter="url(#bs)" opacity="0.28"/><path d="M328.3,532.3 L330.5,538.3" fill="none" stroke="#0a38ff" stroke-width="1.1" stroke-linecap="round" filter="url(#bs)" opacity="0.22"/><path d="M283.9,478.6 L285.9,484.2" fill="none" stroke="#0a38ff" stroke-width="1.1" stroke-linecap="round" filter="url(#bs)" opacity="0.37"/><path d="M267.6,499.3 L268.6,503.9" fill="none" stroke="#0a38ff" stroke-width="1.1" stroke-linecap="round" filter="url(#bs)" opacity="0.3"/><path d="M277.3,505.5 L277.1,514.7" fill="none" stroke="#0a38ff" stroke-width="1.1" stroke-linecap="round" filter="url(#bs)" opacity="0.36"/><path d="M324.1,515.0 L323.4,522.3" fill="none" stroke="#0a38ff" stroke-width="1.1" stroke-linecap="round" filter="url(#bs)" opacity="0.25"/><path d="M308.3,498.9 L306.8,504.7" fill="none" stroke="#0a38ff" stroke-width="1.1" stroke-linecap="round" filter="url(#bs)" opacity="0.4"/><path d="M300.2,489.0 L299.2,493.1" fill="none" stroke="#0a38ff" stroke-width="1.1" stroke-linecap="round" filter="url(#bs)" opacity="0.39"/><path d="M289.8,533.4 L290.8,538.6" fill="none" stroke="#0a38ff" stroke-width="1.1" stroke-linecap="round" filter="url(#bs)" opacity="0.3"/></g>
<g filter="url(#bf)" opacity="1.00"><path d="M307.3,463.9 C307.4,465.1 307.5,468.6 307.6,470.9 C307.7,473.2 307.7,475.9 307.8,477.8 C307.9,479.7 308.1,481.3 308.2,482.0" fill="none" stroke="#0000ff" stroke-width="3.06" stroke-linecap="round" stroke-linejoin="round"/><path d="M307.3,463.9 C307.4,465.1 307.5,468.6 307.6,470.9 C307.7,473.2 307.7,475.9 307.8,477.8 C307.9,479.7 308.1,481.3 308.2,482.0" fill="none" stroke="#0050ff" stroke-width="2.41" stroke-linecap="round" stroke-linejoin="round"/><path d="M307.3,463.9 C307.4,465.1 307.5,468.6 307.6,470.9 C307.7,473.2 307.7,475.9 307.8,477.8 C307.9,479.7 308.1,481.3 308.2,482.0" fill="none" stroke="#00a0ff" stroke-width="1.93" stroke-linecap="round" stroke-linejoin="round"/><path d="M307.3,463.9 C307.4,465.1 307.5,468.6 307.6,470.9 C307.7,473.2 307.7,475.9 307.8,477.8 C307.9,479.7 308.1,481.3 308.2,482.0" fill="none" stroke="#00e8ff" stroke-width="1.50" stroke-linecap="round" stroke-linejoin="round"/><path d="M307.3,463.9 C307.4,465.1 307.5,468.6 307.6,470.9 C307.7,473.2 307.7,475.9 307.8,477.8 C307.9,479.7 308.1,481.3 308.2,482.0" fill="none" stroke="#70ffa0" stroke-width="1.05" stroke-linecap="round" stroke-linejoin="round"/><path d="M307.3,463.9 C307.4,465.1 307.5,468.6 307.6,470.9 C307.7,473.2 307.7,475.9 307.8,477.8 C307.9,479.7 308.1,481.3 308.2,482.0" fill="none" stroke="#d8ff28" stroke-width="0.41" stroke-linecap="round" stroke-linejoin="round"/></g>
<g filter="url(#bf)" opacity="1.00"><path d="M307.3,464.5 C307.4,465.6 307.5,468.8 307.6,470.9 C307.7,473.0 307.8,476.0 307.9,477.0" fill="none" stroke="#0000ff" stroke-width="2.23" stroke-linecap="round" stroke-linejoin="round"/><path d="M307.3,464.5 C307.4,465.6 307.5,468.8 307.6,470.9 C307.7,473.0 307.8,476.0 307.9,477.0" fill="none" stroke="#0050ff" stroke-width="1.81" stroke-linecap="round" stroke-linejoin="round"/><path d="M307.3,464.5 C307.4,465.6 307.5,468.8 307.6,470.9 C307.7,473.0 307.8,476.0 307.9,477.0" fill="none" stroke="#00a0ff" stroke-width="1.52" stroke-linecap="round" stroke-linejoin="round"/><path d="M307.3,464.5 C307.4,465.6 307.5,468.8 307.6,470.9 C307.7,473.0 307.8,476.0 307.9,477.0" fill="none" stroke="#00e8ff" stroke-width="1.27" stroke-linecap="round" stroke-linejoin="round"/><path d="M307.3,464.5 C307.4,465.6 307.5,468.8 307.6,470.9 C307.7,473.0 307.8,476.0 307.9,477.0" fill="none" stroke="#70ffa0" stroke-width="1.04" stroke-linecap="round" stroke-linejoin="round"/><path d="M307.3,464.5 C307.4,465.6 307.5,468.8 307.6,470.9 C307.7,473.0 307.8,476.0 307.9,477.0" fill="none" stroke="#d8ff28" stroke-width="0.80" stroke-linecap="round" stroke-linejoin="round"/><path d="M307.3,464.5 C307.4,465.6 307.5,468.8 307.6,470.9 C307.7,473.0 307.8,476.0 307.9,477.0" fill="none" stroke="#ffc000" stroke-width="0.51" stroke-linecap="round" stroke-linejoin="round"/></g>
<g filter="url(#bf)" opacity="1.00"><path d="M308.2,480.0 L310.5,484.0" fill="none" stroke="#0000ff" stroke-width="2.00" stroke-linecap="round" stroke-linejoin="round"/><path d="M308.2,480.0 L310.5,484.0" fill="none" stroke="#0050ff" stroke-width="1.41" stroke-linecap="round" stroke-linejoin="round"/><path d="M308.2,480.0 L310.5,484.0" fill="none" stroke="#00a0ff" stroke-width="0.91" stroke-linecap="round" stroke-linejoin="round"/></g>
<g filter="url(#bf)" opacity="1.00"><path d="M308.0,480.0 L306.5,484.5" fill="none" stroke="#0000ff" stroke-width="1.83" stroke-linecap="round" stroke-linejoin="round"/><path d="M308.0,480.0 L306.5,484.5" fill="none" stroke="#0050ff" stroke-width="1.30" stroke-linecap="round" stroke-linejoin="round"/><path d="M308.0,480.0 L306.5,484.5" fill="none" stroke="#00a0ff" stroke-width="0.83" stroke-linecap="round" stroke-linejoin="round"/></g>
<g filter="url(#bf)" opacity="1.00"><path d="M306.4,465.3 C306.1,466.2 305.5,468.8 304.8,470.9 C304.1,473.0 302.8,475.2 302.0,477.8 C301.2,480.4 300.5,483.2 299.9,486.2 C299.3,489.2 298.9,493.3 298.5,495.9 C298.1,498.5 297.7,501.0 297.5,502.0" fill="none" stroke="#0000ff" stroke-width="1.69" stroke-linecap="round" stroke-linejoin="round"/><path d="M306.4,465.3 C306.1,466.2 305.5,468.8 304.8,470.9 C304.1,473.0 302.8,475.2 302.0,477.8 C301.2,480.4 300.5,483.2 299.9,486.2 C299.3,489.2 298.9,493.3 298.5,495.9 C298.1,498.5 297.7,501.0 297.5,502.0" fill="none" stroke="#0050ff" stroke-width="1.22" stroke-linecap="round" stroke-linejoin="round"/><path d="M306.4,465.3 C306.1,466.2 305.5,468.8 304.8,470.9 C304.1,473.0 302.8,475.2 302.0,477.8 C301.2,480.4 300.5,483.2 299.9,486.2 C299.3,489.2 298.9,493.3 298.5,495.9 C298.1,498.5 297.7,501.0 297.5,502.0" fill="none" stroke="#00a0ff" stroke-width="0.82" stroke-linecap="round" stroke-linejoin="round"/><path d="M306.4,465.3 C306.1,466.2 305.5,468.8 304.8,470.9 C304.1,473.0 302.8,475.2 302.0,477.8 C301.2,480.4 300.5,483.2 299.9,486.2 C299.3,489.2 298.9,493.3 298.5,495.9 C298.1,498.5 297.7,501.0 297.5,502.0" fill="none" stroke="#00e8ff" stroke-width="0.31" stroke-linecap="round" stroke-linejoin="round"/></g>
<g filter="url(#bf)" opacity="1.00"><path d="M305.5,464.6 C304.2,465.0 300.2,465.6 297.8,466.7 C295.4,467.8 293.2,469.5 290.9,470.9 C288.6,472.3 285.1,474.3 283.9,475.0" fill="none" stroke="#0000ff" stroke-width="1.33" stroke-linecap="round" stroke-linejoin="round"/><path d="M305.5,464.6 C304.2,465.0 300.2,465.6 297.8,466.7 C295.4,467.8 293.2,469.5 290.9,470.9 C288.6,472.3 285.1,474.3 283.9,475.0" fill="none" stroke="#0050ff" stroke-width="0.81" stroke-linecap="round" stroke-linejoin="round"/></g>
<g filter="url(#bf)" opacity="1.00"><path d="M305.0,467.0 C303.8,467.8 300.0,470.2 298.0,472.0 C296.0,473.8 294.3,476.0 293.0,478.0 C291.7,480.0 290.5,483.0 290.0,484.0" fill="none" stroke="#0000ff" stroke-width="1.08" stroke-linecap="round" stroke-linejoin="round"/><path d="M305.0,467.0 C303.8,467.8 300.0,470.2 298.0,472.0 C296.0,473.8 294.3,476.0 293.0,478.0 C291.7,480.0 290.5,483.0 290.0,484.0" fill="none" stroke="#0050ff" stroke-width="0.53" stroke-linecap="round" stroke-linejoin="round"/></g>
<g filter="url(#bf)" opacity="1.00"><path d="M308.9,464.6 C309.8,465.0 312.9,465.4 314.5,466.7 C316.1,468.0 317.5,470.0 318.7,472.3 C319.9,474.6 320.6,478.3 321.5,480.6 C322.4,482.9 323.1,484.4 324.2,486.2 C325.3,488.0 327.7,490.8 328.4,491.7" fill="none" stroke="#0000ff" stroke-width="1.33" stroke-linecap="round" stroke-linejoin="round"/><path d="M308.9,464.6 C309.8,465.0 312.9,465.4 314.5,466.7 C316.1,468.0 317.5,470.0 318.7,472.3 C319.9,474.6 320.6,478.3 321.5,480.6 C322.4,482.9 323.1,484.4 324.2,486.2 C325.3,488.0 327.7,490.8 328.4,491.7" fill="none" stroke="#0050ff" stroke-width="0.81" stroke-linecap="round" stroke-linejoin="round"/></g>
<g filter="url(#bf)" opacity="1.00"><path d="M309.6,463.9 C310.9,463.8 314.6,463.0 317.3,463.2 C320.0,463.4 324.2,464.9 325.6,465.3" fill="none" stroke="#0000ff" stroke-width="1.08" stroke-linecap="round" stroke-linejoin="round"/><path d="M309.6,463.9 C310.9,463.8 314.6,463.0 317.3,463.2 C320.0,463.4 324.2,464.9 325.6,465.3" fill="none" stroke="#0050ff" stroke-width="0.53" stroke-linecap="round" stroke-linejoin="round"/></g>
<g filter="url(#bf)" opacity="1.00"><path d="M295.0,457.0 L304.8,455.6" fill="none" stroke="#0000ff" stroke-width="1.33" stroke-linecap="round" stroke-linejoin="round"/><path d="M295.0,457.0 L304.8,455.6" fill="none" stroke="#0050ff" stroke-width="0.81" stroke-linecap="round" stroke-linejoin="round"/></g>
<g filter="url(#bf)" opacity="1.00"><path d="M292.0,461.0 L303.0,458.0" fill="none" stroke="#0000ff" stroke-width="1.08" stroke-linecap="round" stroke-linejoin="round"/><path d="M292.0,461.0 L303.0,458.0" fill="none" stroke="#0050ff" stroke-width="0.53" stroke-linecap="round" stroke-linejoin="round"/></g>
<g filter="url(#bf)" opacity="1.00"><path d="M310.0,456.0 L316.0,455.5" fill="none" stroke="#0000ff" stroke-width="1.08" stroke-linecap="round" stroke-linejoin="round"/><path d="M310.0,456.0 L316.0,455.5" fill="none" stroke="#0050ff" stroke-width="0.53" stroke-linecap="round" stroke-linejoin="round"/></g>
<g filter="url(#bf)" opacity="1.00"><path d="M308.5,481.0 C308.7,481.6 309.4,483.6 309.6,484.8 C309.9,486.0 309.9,487.5 310.0,488.0" fill="none" stroke="#0000ff" stroke-width="1.63" stroke-linecap="round" stroke-linejoin="round"/><path d="M308.5,481.0 C308.7,481.6 309.4,483.6 309.6,484.8 C309.9,486.0 309.9,487.5 310.0,488.0" fill="none" stroke="#0050ff" stroke-width="1.13" stroke-linecap="round" stroke-linejoin="round"/><path d="M308.5,481.0 C308.7,481.6 309.4,483.6 309.6,484.8 C309.9,486.0 309.9,487.5 310.0,488.0" fill="none" stroke="#00a0ff" stroke-width="0.69" stroke-linecap="round" stroke-linejoin="round"/></g>
<g filter="url(#bf)" opacity="1.00"><path d="M323.0,478.0 C324.0,479.0 327.3,482.0 329.0,484.0 C330.7,486.0 332.3,489.0 333.0,490.0" fill="none" stroke="#0000ff" stroke-width="0.94" stroke-linecap="round" stroke-linejoin="round"/></g>
<g filter="url(#bf)" opacity="1.00"><path d="M339.5,466.7 L345.1,475.0" fill="none" stroke="#0000ff" stroke-width="1.13" stroke-linecap="round" stroke-linejoin="round"/><path d="M339.5,466.7 L345.1,475.0" fill="none" stroke="#0050ff" stroke-width="0.39" stroke-linecap="round" stroke-linejoin="round"/></g>
<g filter="url(#bf)" opacity="1.00"><path d="M298.0,500.0 C297.7,501.7 296.5,506.7 296.0,510.0 C295.5,513.3 295.2,518.3 295.0,520.0" fill="none" stroke="#0000ff" stroke-width="1.06" stroke-linecap="round" stroke-linejoin="round"/></g>
<g filter="url(#bf)" opacity="1.00"><path d="M315.0,495.0 C315.2,496.7 315.5,501.7 316.0,505.0 C316.5,508.3 317.7,513.3 318.0,515.0" fill="none" stroke="#0000ff" stroke-width="1.06" stroke-linecap="round" stroke-linejoin="round"/></g>
<path d="M305.95,450.2 L309.25,450.2 L309.15,458.01 Q308.92,461.60 307.60,462.8 Q306.28,461.60 306.05,458.01 Z" fill="#fffff2" stroke="#4a4a40" stroke-width="0.35" stroke-opacity="0.75"/>
<g filter="url(#bf)" opacity="1.00"><ellipse cx="307.4" cy="464.3" rx="1.20" ry="1.60" fill="#0000ff"/><ellipse cx="307.4" cy="464.3" rx="0.99" ry="1.32" fill="#0050ff"/><ellipse cx="307.4" cy="464.3" rx="0.84" ry="1.12" fill="#00a0ff"/><ellipse cx="307.4" cy="464.3" rx="0.72" ry="0.95" fill="#00e8ff"/><ellipse cx="307.4" cy="464.3" rx="0.60" ry="0.80" fill="#70ffa0"/><ellipse cx="307.4" cy="464.3" rx="0.49" ry="0.65" fill="#d8ff28"/><ellipse cx="307.4" cy="464.3" rx="0.37" ry="0.49" fill="#ffc000"/><ellipse cx="307.4" cy="464.3" rx="0.22" ry="0.29" fill="#ff5000"/></g>
<g><path d="M440.4,530.1 L438.5,538.7" fill="none" stroke="#0a38ff" stroke-width="1.1" stroke-linecap="round" filter="url(#bs)" opacity="0.4"/><path d="M478.9,556.3 L479.7,561.4" fill="none" stroke="#0a38ff" stroke-width="1.1" stroke-linecap="round" filter="url(#bs)" opacity="0.39"/><path d="M432.4,561.8 L432.0,568.9" fill="none" stroke="#0a38ff" stroke-width="1.1" stroke-linecap="round" filter="url(#bs)" opacity="0.47"/><path d="M448.3,498.6 L448.3,504.5" fill="none" stroke="#0a38ff" stroke-width="1.1" stroke-linecap="round" filter="url(#bs)" opacity="0.25"/><path d="M444.9,539.9 L447.1,546.1" fill="none" stroke="#0a38ff" stroke-width="1.1" stroke-linecap="round" filter="url(#bs)" opacity="0.46"/><path d="M438.7,534.7 L436.7,539.0" fill="none" stroke="#0a38ff" stroke-width="1.1" stroke-linecap="round" filter="url(#bs)" opacity="0.48"/><path d="M406.1,490.3 L408.5,499.4" fill="none" stroke="#0a38ff" stroke-width="1.1" stroke-linecap="round" filter="url(#bs)" opacity="0.27"/><path d="M410.6,493.1 L407.9,498.0" fill="none" stroke="#0a38ff" stroke-width="1.1" stroke-linecap="round" filter="url(#bs)" opacity="0.37"/><path d="M408.5,507.4 L406.6,512.2" fill="none" stroke="#0a38ff" stroke-width="1.1" stroke-linecap="round" filter="url(#bs)" opacity="0.25"/><path d="M476.7,541.0 L474.0,547.8" fill="none" stroke="#0a38ff" stroke-width="1.1" stroke-linecap="round" filter="url(#bs)" opacity="0.28"/><path d="M386.4,500.1 L385.4,504.3" fill="none" stroke="#0a38ff" stroke-width="1.1" stroke-linecap="round" filter="url(#bs)" opacity="0.29"/><path d="M395.1,532.1 L395.0,538.8" fill="none" stroke="#0a38ff" stroke-width="1.1" stroke-linecap="round" filter="url(#bs)" opacity="0.33"/><path d="M436.7,544.6 L434.2,549.9" fill="none" stroke="#0a38ff" stroke-width="1.1" stroke-linecap="round" filter="url(#bs)" opacity="0.36"/><path d="M417.5,544.1 L419.2,548.5" fill="none" stroke="#0a38ff" stroke-width="1.1" stroke-linecap="round" filter="url(#bs)" opacity="0.24"/><path d="M437.1,512.1 L439.3,517.6" fill="none" stroke="#0a38ff" stroke-width="1.1" stroke-linecap="round" filter="url(#bs)" opacity="0.41"/><path d="M391.6,517.0 L388.1,523.9" fill="none" stroke="#0a38ff" stroke-width="1.1" stroke-linecap="round" filter="url(#bs)" opacity="0.26"/><path d="M444.2,539.3 L443.7,546.1" fill="none" stroke="#0a38ff" stroke-width="1.1" stroke-linecap="round" filter="url(#bs)" opacity="0.36"/><path d="M403.3,553.3 L403.1,563.0" fill="none" stroke="#0a38ff" stroke-width="1.1" stroke-linecap="round" filter="url(#bs)" opacity="0.24"/><path d="M419.7,546.3 L417.4,551.8" fill="none" stroke="#0a38ff" stroke-width="1.1" stroke-linecap="round" filter="url(#bs)" opacity="0.28"/><path d="M457.4,529.1 L458.1,534.8" fill="none" stroke="#0a38ff" stroke-width="1.1" stroke-linecap="round" filter="url(#bs)" opacity="0.42"/><path d="M487.9,549.0 L489.9,555.3" fill="none" stroke="#0a38ff" stroke-width="1.1" stroke-linecap="round" filter="url(#bs)" opacity="0.46"/><path d="M476.3,541.3 L476.4,548.8" fill="none" stroke="#0a38ff" stroke-width="1.1" stroke-linecap="round" filter="url(#bs)" opacity="0.44"/><path d="M447.0,538.5 L444.9,543.4" fill="none" stroke="#0a38ff" stroke-width="1.1" stroke-linecap="round" filter="url(#bs)" opacity="0.3"/><path d="M442.0,524.4 L440.4,529.4" fill="none" stroke="#0a38ff" stroke-width="1.1" stroke-linecap="round" filter="url(#bs)" opacity="0.47"/><path d="M380.6,558.0 L381.2,566.6" fill="none" stroke="#0a38ff" stroke-width="1.1" stroke-linecap="round" filter="url(#bs)" opacity="0.48"/><path d="M453.6,470.6 L452.7,480.2" fill="none" stroke="#0a38ff" stroke-width="1.1" stroke-linecap="round" filter="url(#bs)" opacity="0.46"/><path d="M469.7,483.1 L467.7,486.9" fill="none" stroke="#0a38ff" stroke-width="1.1" stroke-linecap="round" filter="url(#bs)" opacity="0.43"/><path d="M467.0,491.7 L466.3,496.3" fill="none" stroke="#0a38ff" stroke-width="1.1" stroke-linecap="round" filter="url(#bs)" opacity="0.43"/><path d="M460.9,552.4 L463.4,561.9" fill="none" stroke="#0a38ff" stroke-width="1.1" stroke-linecap="round" filter="url(#bs)" opacity="0.44"/><path d="M374.0,470.6 L375.1,479.7" fill="none" stroke="#0a38ff" stroke-width="1.1" stroke-linecap="round" filter="url(#bs)" opacity="0.32"/><path d="M387.4,501.6 L387.4,507.6" fill="none" stroke="#0a38ff" stroke-width="1.1" stroke-linecap="round" filter="url(#bs)" opacity="0.35"/><path d="M396.3,477.8 L394.4,482.7" fill="none" stroke="#0a38ff" stroke-width="1.1" stroke-linecap="round" filter="url(#bs)" opacity="0.26"/><path d="M421.7,482.4 L422.1,491.2" fill="none" stroke="#0a38ff" stroke-width="1.1" stroke-linecap="round" filter="url(#bs)" opacity="0.35"/><path d="M448.7,492.3 L447.0,496.1" fill="none" stroke="#0a38ff" stroke-width="1.1" stroke-linecap="round" filter="url(#bs)" opacity="0.32"/><path d="M415.3,494.0 L417.3,499.5" fill="none" stroke="#0a38ff" stroke-width="1.1" stroke-linecap="round" filter="url(#bs)" opacity="0.24"/><path d="M425.9,506.4 L427.2,511.9" fill="none" stroke="#0a38ff" stroke-width="1.1" stroke-linecap="round" filter="url(#bs)" opacity="0.29"/><path d="M377.1,485.1 L375.6,494.9" fill="none" stroke="#0a38ff" stroke-width="1.1" stroke-linecap="round" filter="url(#bs)" opacity="0.27"/><path d="M488.5,531.3 L486.9,540.9" fill="none" stroke="#0a38ff" stroke-width="1.1" stroke-linecap="round" filter="url(#bs)" opacity="0.43"/><path d="M377.0,492.6 L377.1,501.3" fill="none" stroke="#0a38ff" stroke-width="1.1" stroke-linecap="round" filter="url(#bs)" opacity="0.43"/><path d="M418.3,553.3 L418.9,557.7" fill="none" stroke="#0a38ff" stroke-width="1.1" stroke-linecap="round" filter="url(#bs)" opacity="0.29"/><path d="M395.9,553.9 L398.0,560.2" fill="none" stroke="#0a38ff" stroke-width="1.1" stroke-linecap="round" filter="url(#bs)" opacity="0.31"/><path d="M459.6,556.2 L457.6,563.7" fill="none" stroke="#0a38ff" stroke-width="1.1" stroke-linecap="round" filter="url(#bs)" opacity="0.4"/><path d="M486.1,546.1 L485.4,552.7" fill="none" stroke="#0a38ff" stroke-width="1.1" stroke-linecap="round" filter="url(#bs)" opacity="0.26"/><path d="M464.2,485.0 L461.8,489.8" fill="none" stroke="#0a38ff" stroke-width="1.1" stroke-linecap="round" filter="url(#bs)" opacity="0.28"/><path d="M418.0,515.3 L417.7,520.3" fill="none" stroke="#0a38ff" stroke-width="1.1" stroke-linecap="round" filter="url(#bs)" opacity="0.42"/><path d="M383.6,482.9 L386.4,489.4" fill="none" stroke="#0a38ff" stroke-width="1.1" stroke-linecap="round" filter="url(#bs)" opacity="0.46"/><path d="M440.3,478.7 L444.7,486.8" fill="none" stroke="#0a38ff" stroke-width="1.1" stroke-linecap="round" filter="url(#bs)" opacity="0.46"/><path d="M435.7,506.4 L437.9,513.6" fill="none" stroke="#0a38ff" stroke-width="1.1" stroke-linecap="round" filter="url(#bs)" opacity="0.48"/><path d="M431.2,518.1 L431.5,524.0" fill="none" stroke="#0a38ff" stroke-width="1.1" stroke-linecap="round" filter="url(#bs)" opacity="0.37"/><path d="M406.0,513.5 L403.5,522.7" fill="none" stroke="#0a38ff" stroke-width="1.1" stroke-linecap="round" filter="url(#bs)" opacity="0.3"/><path d="M408.6,551.6 L410.4,557.1" fill="none" stroke="#0a38ff" stroke-width="1.1" stroke-linecap="round" filter="url(#bs)" opacity="0.46"/><path d="M477.1,546.4 L476.8,551.6" fill="none" stroke="#0a38ff" stroke-width="1.1" stroke-linecap="round" filter="url(#bs)" opacity="0.44"/><path d="M401.5,527.2 L405.4,535.5" fill="none" stroke="#0a38ff" stroke-width="1.1" stroke-linecap="round" filter="url(#bs)" opacity="0.32"/><path d="M386.3,472.9 L386.6,478.8" fill="none" stroke="#0a38ff" stroke-width="1.1" stroke-linecap="round" filter="url(#bs)" opacity="0.31"/><path d="M470.9,531.8 L473.3,539.1" fill="none" stroke="#0a38ff" stroke-width="1.1" stroke-linecap="round" filter="url(#bs)" opacity="0.32"/><path d="M450.0,503.3 L447.8,508.6" fill="none" stroke="#0a38ff" stroke-width="1.1" stroke-linecap="round" filter="url(#bs)" opacity="0.43"/><path d="M480.0,473.0 L476.5,480.5" fill="none" stroke="#0a38ff" stroke-width="1.1" stroke-linecap="round" filter="url(#bs)" opacity="0.34"/><path d="M410.0,555.8 L410.1,562.4" fill="none" stroke="#0a38ff" stroke-width="1.1" stroke-linecap="round" filter="url(#bs)" opacity="0.33"/><path d="M402.6,493.1 L400.5,497.0" fill="none" stroke="#0a38ff" stroke-width="1.1" stroke-linecap="round" filter="url(#bs)" opacity="0.37"/><path d="M460.6,533.7 L463.2,538.6" fill="none" stroke="#0a38ff" stroke-width="1.1" stroke-linecap="round" filter="url(#bs)" opacity="0.26"/><path d="M423.8,501.7 L426.1,506.2" fill="none" stroke="#0a38ff" stroke-width="1.1" stroke-linecap="round" filter="url(#bs)" opacity="0.41"/><path d="M387.8,486.8 L386.6,495.6" fill="none" stroke="#0a38ff" stroke-width="1.1" stroke-linecap="round" filter="url(#bs)" opacity="0.31"/><path d="M407.6,500.9 L406.2,508.3" fill="none" stroke="#0a38ff" stroke-width="1.1" stroke-linecap="round" filter="url(#bs)" opacity="0.38"/><path d="M379.6,520.8 L378.3,528.2" fill="none" stroke="#0a38ff" stroke-width="1.1" stroke-linecap="round" filter="url(#bs)" opacity="0.45"/><path d="M483.4,532.4 L481.3,538.5" fill="none" stroke="#0a38ff" stroke-width="1.1" stroke-linecap="round" filter="url(#bs)" opacity="0.39"/><path d="M406.7,485.7 L404.6,492.5" fill="none" stroke="#0a38ff" stroke-width="1.1" stroke-linecap="round" filter="url(#bs)" opacity="0.39"/><path d="M463.2,471.1 L460.8,478.5" fill="none" stroke="#0a38ff" stroke-width="1.1" stroke-linecap="round" filter="url(#bs)" opacity="0.32"/><path d="M458.8,561.7 L460.3,567.4" fill="none" stroke="#0a38ff" stroke-width="1.1" stroke-linecap="round" filter="url(#bs)" opacity="0.32"/><path d="M484.9,486.5 L481.6,493.8" fill="none" stroke="#0a38ff" stroke-width="1.1" stroke-linecap="round" filter="url(#bs)" opacity="0.37"/><path d="M461.2,556.8 L461.6,565.3" fill="none" stroke="#0a38ff" stroke-width="1.1" stroke-linecap="round" filter="url(#bs)" opacity="0.34"/><path d="M447.6,531.6 L449.2,539.1" fill="none" stroke="#0a38ff" stroke-width="1.1" stroke-linecap="round" filter="url(#bs)" opacity="0.42"/><path d="M484.4,529.0 L486.6,538.0" fill="none" stroke="#0a38ff" stroke-width="1.1" stroke-linecap="round" filter="url(#bs)" opacity="0.33"/><path d="M468.3,504.7 L471.6,513.0" fill="none" stroke="#0a38ff" stroke-width="1.1" stroke-linecap="round" filter="url(#bs)" opacity="0.46"/><path d="M481.2,535.8 L479.8,542.6" fill="none" stroke="#0a38ff" stroke-width="1.1" stroke-linecap="round" filter="url(#bs)" opacity="0.39"/><path d="M479.1,504.1 L480.4,509.2" fill="none" stroke="#0a38ff" stroke-width="1.1" stroke-linecap="round" filter="url(#bs)" opacity="0.46"/><path d="M396.7,483.2 L397.0,487.9" fill="none" stroke="#0a38ff" stroke-width="1.1" stroke-linecap="round" filter="url(#bs)" opacity="0.44"/><path d="M401.7,545.2 L400.5,549.3" fill="none" stroke="#0a38ff" stroke-width="1.1" stroke-linecap="round" filter="url(#bs)" opacity="0.37"/><path d="M463.0,516.9 L461.8,525.0" fill="none" stroke="#0a38ff" stroke-width="1.1" stroke-linecap="round" filter="url(#bs)" opacity="0.33"/><path d="M434.5,470.2 L433.7,475.3" fill="none" stroke="#0a38ff" stroke-width="1.1" stroke-linecap="round" filter="url(#bs)" opacity="0.4"/><path d="M395.6,493.1 L397.1,503.0" fill="none" stroke="#0a38ff" stroke-width="1.1" stroke-linecap="round" filter="url(#bs)" opacity="0.34"/><path d="M466.0,537.9 L466.5,546.8" fill="none" stroke="#0a38ff" stroke-width="1.1" stroke-linecap="round" filter="url(#bs)" opacity="0.39"/><path d="M383.6,510.7 L382.1,516.9" fill="none" stroke="#0a38ff" stroke-width="1.1" stroke-linecap="round" filter="url(#bs)" opacity="0.33"/><path d="M478.3,491.2 L477.6,495.8" fill="none" stroke="#0a38ff" stroke-width="1.1" stroke-linecap="round" filter="url(#bs)" opacity="0.28"/><path d="M374.8,556.7 L371.5,563.2" fill="none" stroke="#0a38ff" stroke-width="1.1" stroke-linecap="round" filter="url(#bs)" opacity="0.37"/><path d="M392.9,515.9 L397.3,524.5" fill="none" stroke="#0a38ff" stroke-width="1.1" stroke-linecap="round" filter="url(#bs)" opacity="0.34"/><path d="M465.9,516.8 L465.5,521.3" fill="none" stroke="#0a38ff" stroke-width="1.1" stroke-linecap="round" filter="url(#bs)" opacity="0.43"/><path d="M465.3,538.7 L464.2,548.5" fill="none" stroke="#0a38ff" stroke-width="1.1" stroke-linecap="round" filter="url(#bs)" opacity="0.41"/><path d="M470.2,557.8 L473.6,566.4" fill="none" stroke="#0a38ff" stroke-width="1.1" stroke-linecap="round" filter="url(#bs)" opacity="0.32"/><path d="M417.4,528.8 L416.4,533.4" fill="none" stroke="#0a38ff" stroke-width="1.1" stroke-linecap="round" filter="url(#bs)" opacity="0.33"/><path d="M396.7,487.6 L395.2,495.4" fill="none" stroke="#0a38ff" stroke-width="1.1" stroke-linecap="round" filter="url(#bs)" opacity="0.25"/><path d="M467.8,559.9 L468.7,565.1" fill="none" stroke="#0a38ff" stroke-width="1.1" stroke-linecap="round" filter="url(#bs)" opacity="0.26"/><path d="M398.5,485.6 L398.9,493.5" fill="none" stroke="#0a38ff" stroke-width="1.1" stroke-linecap="round" filter="url(#bs)" opacity="0.44"/><path d="M451.2,541.8 L451.9,551.0" fill="none" stroke="#0a38ff" stroke-width="1.1" stroke-linecap="round" filter="url(#bs)" opacity="0.29"/><path d="M391.5,551.4 L392.8,560.2" fill="none" stroke="#0a38ff" stroke-width="1.1" stroke-linecap="round" filter="url(#bs)" opacity="0.47"/><path d="M469.1,508.3 L468.7,513.4" fill="none" stroke="#0a38ff" stroke-width="1.1" stroke-linecap="round" filter="url(#bs)" opacity="0.46"/><path d="M478.7,470.6 L478.5,474.6" fill="none" stroke="#0a38ff" stroke-width="1.1" stroke-linecap="round" filter="url(#bs)" opacity="0.46"/><path d="M477.4,549.5 L476.2,553.7" fill="none" stroke="#0a38ff" stroke-width="1.1" stroke-linecap="round" filter="url(#bs)" opacity="0.43"/><path d="M424.9,500.3 L420.3,509.0" fill="none" stroke="#0a38ff" stroke-width="1.1" stroke-linecap="round" filter="url(#bs)" opacity="0.36"/><path d="M477.9,536.6 L475.8,545.7" fill="none" stroke="#0a38ff" stroke-width="1.1" stroke-linecap="round" filter="url(#bs)" opacity="0.37"/><path d="M489.5,482.6 L492.6,488.4" fill="none" stroke="#0a38ff" stroke-width="1.1" stroke-linecap="round" filter="url(#bs)" opacity="0.28"/><path d="M464.8,541.2 L467.5,546.0" fill="none" stroke="#0a38ff" stroke-width="1.1" stroke-linecap="round" filter="url(#bs)" opacity="0.43"/><path d="M387.8,564.0 L387.6,573.3" fill="none" stroke="#0a38ff" stroke-width="1.1" stroke-linecap="round" filter="url(#bs)" opacity="0.25"/><path d="M466.1,525.6 L462.7,533.3" fill="none" stroke="#0a38ff" stroke-width="1.1" stroke-linecap="round" filter="url(#bs)" opacity="0.36"/><path d="M469.0,539.2 L468.1,544.2" fill="none" stroke="#0a38ff" stroke-width="1.1" stroke-linecap="round" filter="url(#bs)" opacity="0.35"/><path d="M427.1,564.0 L422.5,572.4" fill="none" stroke="#0a38ff" stroke-width="1.1" stroke-linecap="round" filter="url(#bs)" opacity="0.39"/><path d="M388.5,552.1 L391.3,558.7" fill="none" stroke="#0a38ff" stroke-width="1.1" stroke-linecap="round" filter="url(#bs)" opacity="0.46"/><path d="M484.1,486.0 L485.3,490.3" fill="none" stroke="#0a38ff" stroke-width="1.1" stroke-linecap="round" filter="url(#bs)" opacity="0.35"/><path d="M465.3,512.0 L466.8,518.3" fill="none" stroke="#0a38ff" stroke-width="1.1" stroke-linecap="round" filter="url(#bs)" opacity="0.33"/><path d="M431.6,507.8 L428.2,515.1" fill="none" stroke="#0a38ff" stroke-width="1.1" stroke-linecap="round" filter="url(#bs)" opacity="0.35"/><path d="M441.6,535.1 L440.4,544.4" fill="none" stroke="#0a38ff" stroke-width="1.1" stroke-linecap="round" filter="url(#bs)" opacity="0.47"/><path d="M456.3,506.4 L455.3,513.7" fill="none" stroke="#0a38ff" stroke-width="1.1" stroke-linecap="round" filter="url(#bs)" opacity="0.4"/><path d="M375.0,555.3 L372.1,560.7" fill="none" stroke="#0a38ff" stroke-width="1.1" stroke-linecap="round" filter="url(#bs)" opacity="0.26"/><path d="M412.7,495.0 L411.6,503.9" fill="none" stroke="#0a38ff" stroke-width="1.1" stroke-linecap="round" filter="url(#bs)" opacity="0.46"/><path d="M405.4,502.8 L408.8,511.9" fill="none" stroke="#0a38ff" stroke-width="1.1" stroke-linecap="round" filter="url(#bs)" opacity="0.46"/><path d="M385.7,476.5 L384.4,484.6" fill="none" stroke="#0a38ff" stroke-width="1.1" stroke-linecap="round" filter="url(#bs)" opacity="0.27"/><path d="M383.1,500.7 L384.1,506.5" fill="none" stroke="#0a38ff" stroke-width="1.1" stroke-linecap="round" filter="url(#bs)" opacity="0.48"/><path d="M392.3,545.4 L395.0,552.5" fill="none" stroke="#0a38ff" stroke-width="1.1" stroke-linecap="round" filter="url(#bs)" opacity="0.48"/><path d="M481.9,482.5 L484.2,490.6" fill="none" stroke="#0a38ff" stroke-width="1.1" stroke-linecap="round" filter="url(#bs)" opacity="0.33"/><path d="M375.8,542.2 L377.8,549.7" fill="none" stroke="#0a38ff" stroke-width="1.1" stroke-linecap="round" filter="url(#bs)" opacity="0.42"/><path d="M460.2,474.1 L464.5,482.8" fill="none" stroke="#0a38ff" stroke-width="1.1" stroke-linecap="round" filter="url(#bs)" opacity="0.32"/><path d="M466.3,559.1 L465.2,565.6" fill="none" stroke="#0a38ff" stroke-width="1.1" stroke-linecap="round" filter="url(#bs)" opacity="0.38"/><path d="M465.6,509.2 L469.2,516.6" fill="none" stroke="#0a38ff" stroke-width="1.1" stroke-linecap="round" filter="url(#bs)" opacity="0.33"/><path d="M481.2,483.3 L483.7,490.5" fill="none" stroke="#0a38ff" stroke-width="1.1" stroke-linecap="round" filter="url(#bs)" opacity="0.34"/><path d="M406.0,496.4 L405.3,502.5" fill="none" stroke="#0a38ff" stroke-width="1.1" stroke-linecap="round" filter="url(#bs)" opacity="0.34"/><path d="M401.3,526.5 L400.0,531.7" fill="none" stroke="#0a38ff" stroke-width="1.1" stroke-linecap="round" filter="url(#bs)" opacity="0.35"/><path d="M481.2,496.2 L482.6,501.1" fill="none" stroke="#0a38ff" stroke-width="1.1" stroke-linecap="round" filter="url(#bs)" opacity="0.38"/><path d="M386.5,562.4 L387.1,567.6" fill="none" stroke="#0a38ff" stroke-width="1.1" stroke-linecap="round" filter="url(#bs)" opacity="0.3"/><path d="M471.3,505.1 L473.5,512.6" fill="none" stroke="#0a38ff" stroke-width="1.1" stroke-linecap="round" filter="url(#bs)" opacity="0.41"/><path d="M409.3,498.6 L409.5,506.1" fill="none" stroke="#0a38ff" stroke-width="1.1" stroke-linecap="round" filter="url(#bs)" opacity="0.41"/><path d="M380.2,476.1 L381.4,479.9" fill="none" stroke="#0a38ff" stroke-width="1.1" stroke-linecap="round" filter="url(#bs)" opacity="0.28"/><path d="M462.3,513.4 L463.6,523.0" fill="none" stroke="#0a38ff" stroke-width="1.1" stroke-linecap="round" filter="url(#bs)" opacity="0.44"/><path d="M384.0,554.9 L381.3,560.5" fill="none" stroke="#0a38ff" stroke-width="1.1" stroke-linecap="round" filter="url(#bs)" opacity="0.45"/><path d="M400.1,532.1 L399.8,536.1" fill="none" stroke="#0a38ff" stroke-width="1.1" stroke-linecap="round" filter="url(#bs)" opacity="0.35"/><path d="M426.0,548.5 L428.2,553.8" fill="none" stroke="#0a38ff" stroke-width="1.1" stroke-linecap="round" filter="url(#bs)" opacity="0.28"/><path d="M488.1,497.2 L491.5,504.5" fill="none" stroke="#0a38ff" stroke-width="1.1" stroke-linecap="round" filter="url(#bs)" opacity="0.4"/><path d="M474.4,478.3 L470.0,487.1" fill="none" stroke="#0a38ff" stroke-width="1.1" stroke-linecap="round" filter="url(#bs)" opacity="0.4"/><path d="M470.9,542.8 L471.8,551.1" fill="none" stroke="#0a38ff" stroke-width="1.1" stroke-linecap="round" filter="url(#bs)" opacity="0.48"/><path d="M398.9,556.5 L396.2,564.9" fill="none" stroke="#0a38ff" stroke-width="1.1" stroke-linecap="round" filter="url(#bs)" opacity="0.35"/><path d="M424.3,484.2 L427.5,492.7" fill="none" stroke="#0a38ff" stroke-width="1.1" stroke-linecap="round" filter="url(#bs)" opacity="0.42"/><path d="M376.2,539.3 L378.2,548.7" fill="none" stroke="#0a38ff" stroke-width="1.1" stroke-linecap="round" filter="url(#bs)" opacity="0.46"/></g>
<g filter="url(#bf)" opacity="1.00"><path d="M430.7,464.1 C430.7,464.6 431.0,465.7 430.9,467.2 C430.8,468.7 430.5,471.3 430.3,473.3 C430.1,475.3 429.7,477.6 429.5,479.4 C429.3,481.2 429.1,482.2 428.9,484.2 C428.7,486.2 428.3,489.5 428.1,491.5 C427.9,493.5 427.8,495.1 427.6,496.4 C427.4,497.7 427.0,499.0 426.9,499.5" fill="none" stroke="#0000ff" stroke-width="1.79" stroke-linecap="round" stroke-linejoin="round"/><path d="M430.7,464.1 C430.7,464.6 431.0,465.7 430.9,467.2 C430.8,468.7 430.5,471.3 430.3,473.3 C430.1,475.3 429.7,477.6 429.5,479.4 C429.3,481.2 429.1,482.2 428.9,484.2 C428.7,486.2 428.3,489.5 428.1,491.5 C427.9,493.5 427.8,495.1 427.6,496.4 C427.4,497.7 427.0,499.0 426.9,499.5" fill="none" stroke="#0050ff" stroke-width="1.35" stroke-linecap="round" stroke-linejoin="round"/><path d="M430.7,464.1 C430.7,464.6 431.0,465.7 430.9,467.2 C430.8,468.7 430.5,471.3 430.3,473.3 C430.1,475.3 429.7,477.6 429.5,479.4 C429.3,481.2 429.1,482.2 428.9,484.2 C428.7,486.2 428.3,489.5 428.1,491.5 C427.9,493.5 427.8,495.1 427.6,496.4 C427.4,497.7 427.0,499.0 426.9,499.5" fill="none" stroke="#00a0ff" stroke-width="1.01" stroke-linecap="round" stroke-linejoin="round"/><path d="M430.7,464.1 C430.7,464.6 431.0,465.7 430.9,467.2 C430.8,468.7 430.5,471.3 430.3,473.3 C430.1,475.3 429.7,477.6 429.5,479.4 C429.3,481.2 429.1,482.2 428.9,484.2 C428.7,486.2 428.3,489.5 428.1,491.5 C427.9,493.5 427.8,495.1 427.6,496.4 C427.4,497.7 427.0,499.0 426.9,499.5" fill="none" stroke="#00e8ff" stroke-width="0.67" stroke-linecap="round" stroke-linejoin="round"/></g>
<g filter="url(#bf)" opacity="1.00"><path d="M430.9,465.5 L430.9,468.5" fill="none" stroke="#0000ff" stroke-width="2.19" stroke-linecap="round" stroke-linejoin="round"/><path d="M430.9,465.5 L430.9,468.5" fill="none" stroke="#0050ff" stroke-width="1.76" stroke-linecap="round" stroke-linejoin="round"/><path d="M430.9,465.5 L430.9,468.5" fill="none" stroke="#00a0ff" stroke-width="1.46" stroke-linecap="round" stroke-linejoin="round"/><path d="M430.9,465.5 L430.9,468.5" fill="none" stroke="#00e8ff" stroke-width="1.19" stroke-linecap="round" stroke-linejoin="round"/><path d="M430.9,465.5 L430.9,468.5" fill="none" stroke="#70ffa0" stroke-width="0.94" stroke-linecap="round" stroke-linejoin="round"/><path d="M430.9,465.5 L430.9,468.5" fill="none" stroke="#d8ff28" stroke-width="0.66" stroke-linecap="round" stroke-linejoin="round"/><path d="M430.9,465.5 L430.9,468.5" fill="none" stroke="#ffc000" stroke-width="0.26" stroke-linecap="round" stroke-linejoin="round"/></g>
<g filter="url(#bf)" opacity="1.00"><path d="M429.2,481.0 C429.1,481.8 428.8,484.3 428.6,486.0 C428.4,487.7 428.3,489.7 428.2,491.0 C428.1,492.3 427.9,493.5 427.9,494.0" fill="none" stroke="#0000ff" stroke-width="2.19" stroke-linecap="round" stroke-linejoin="round"/><path d="M429.2,481.0 C429.1,481.8 428.8,484.3 428.6,486.0 C428.4,487.7 428.3,489.7 428.2,491.0 C428.1,492.3 427.9,493.5 427.9,494.0" fill="none" stroke="#0050ff" stroke-width="1.76" stroke-linecap="round" stroke-linejoin="round"/><path d="M429.2,481.0 C429.1,481.8 428.8,484.3 428.6,486.0 C428.4,487.7 428.3,489.7 428.2,491.0 C428.1,492.3 427.9,493.5 427.9,494.0" fill="none" stroke="#00a0ff" stroke-width="1.46" stroke-linecap="round" stroke-linejoin="round"/><path d="M429.2,481.0 C429.1,481.8 428.8,484.3 428.6,486.0 C428.4,487.7 428.3,489.7 428.2,491.0 C428.1,492.3 427.9,493.5 427.9,494.0" fill="none" stroke="#00e8ff" stroke-width="1.19" stroke-linecap="round" stroke-linejoin="round"/><path d="M429.2,481.0 C429.1,481.8 428.8,484.3 428.6,486.0 C428.4,487.7 428.3,489.7 428.2,491.0 C428.1,492.3 427.9,493.5 427.9,494.0" fill="none" stroke="#70ffa0" stroke-width="0.94" stroke-linecap="round" stroke-linejoin="round"/><path d="M429.2,481.0 C429.1,481.8 428.8,484.3 428.6,486.0 C428.4,487.7 428.3,489.7 428.2,491.0 C428.1,492.3 427.9,493.5 427.9,494.0" fill="none" stroke="#d8ff28" stroke-width="0.66" stroke-linecap="round" stroke-linejoin="round"/><path d="M429.2,481.0 C429.1,481.8 428.8,484.3 428.6,486.0 C428.4,487.7 428.3,489.7 428.2,491.0 C428.1,492.3 427.9,493.5 427.9,494.0" fill="none" stroke="#ffc000" stroke-width="0.26" stroke-linecap="round" stroke-linejoin="round"/></g>
<g filter="url(#bf)" opacity="1.00"><path d="M426.9,499.5 C426.2,500.0 424.7,501.4 423.0,502.5 C421.3,503.6 418.9,504.8 416.9,506.2 C414.9,507.6 412.3,509.6 410.8,511.0 C409.3,512.4 408.3,514.1 407.8,514.7" fill="none" stroke="#0000ff" stroke-width="1.73" stroke-linecap="round" stroke-linejoin="round"/><path d="M426.9,499.5 C426.2,500.0 424.7,501.4 423.0,502.5 C421.3,503.6 418.9,504.8 416.9,506.2 C414.9,507.6 412.3,509.6 410.8,511.0 C409.3,512.4 408.3,514.1 407.8,514.7" fill="none" stroke="#0050ff" stroke-width="1.27" stroke-linecap="round" stroke-linejoin="round"/><path d="M426.9,499.5 C426.2,500.0 424.7,501.4 423.0,502.5 C421.3,503.6 418.9,504.8 416.9,506.2 C414.9,507.6 412.3,509.6 410.8,511.0 C409.3,512.4 408.3,514.1 407.8,514.7" fill="none" stroke="#00a0ff" stroke-width="0.90" stroke-linecap="round" stroke-linejoin="round"/><path d="M426.9,499.5 C426.2,500.0 424.7,501.4 423.0,502.5 C421.3,503.6 418.9,504.8 416.9,506.2 C414.9,507.6 412.3,509.6 410.8,511.0 C409.3,512.4 408.3,514.1 407.8,514.7" fill="none" stroke="#00e8ff" stroke-width="0.49" stroke-linecap="round" stroke-linejoin="round"/></g>
<g filter="url(#bf)" opacity="1.00"><path d="M426.9,499.5 C427.5,500.4 429.1,503.3 430.3,505.0 C431.5,506.7 432.9,508.2 434.0,509.8 C435.1,511.4 436.5,513.9 437.0,514.7" fill="none" stroke="#0000ff" stroke-width="1.73" stroke-linecap="round" stroke-linejoin="round"/><path d="M426.9,499.5 C427.5,500.4 429.1,503.3 430.3,505.0 C431.5,506.7 432.9,508.2 434.0,509.8 C435.1,511.4 436.5,513.9 437.0,514.7" fill="none" stroke="#0050ff" stroke-width="1.27" stroke-linecap="round" stroke-linejoin="round"/><path d="M426.9,499.5 C427.5,500.4 429.1,503.3 430.3,505.0 C431.5,506.7 432.9,508.2 434.0,509.8 C435.1,511.4 436.5,513.9 437.0,514.7" fill="none" stroke="#00a0ff" stroke-width="0.90" stroke-linecap="round" stroke-linejoin="round"/><path d="M426.9,499.5 C427.5,500.4 429.1,503.3 430.3,505.0 C431.5,506.7 432.9,508.2 434.0,509.8 C435.1,511.4 436.5,513.9 437.0,514.7" fill="none" stroke="#00e8ff" stroke-width="0.49" stroke-linecap="round" stroke-linejoin="round"/></g>
<g filter="url(#bf)" opacity="1.00"><path d="M426.9,500.0 C426.8,501.0 426.4,503.9 426.0,506.2 C425.6,508.4 424.8,511.1 424.2,513.5 C423.6,515.9 422.7,519.6 422.4,520.8" fill="none" stroke="#0000ff" stroke-width="1.33" stroke-linecap="round" stroke-linejoin="round"/><path d="M426.9,500.0 C426.8,501.0 426.4,503.9 426.0,506.2 C425.6,508.4 424.8,511.1 424.2,513.5 C423.6,515.9 422.7,519.6 422.4,520.8" fill="none" stroke="#0050ff" stroke-width="0.81" stroke-linecap="round" stroke-linejoin="round"/></g>
<g filter="url(#bf)" opacity="1.00"><path d="M426.0,503.0 C425.2,504.5 422.6,508.6 421.0,512.0 C419.4,515.4 417.1,521.3 416.3,523.2" fill="none" stroke="#0000ff" stroke-width="1.22" stroke-linecap="round" stroke-linejoin="round"/><path d="M426.0,503.0 C425.2,504.5 422.6,508.6 421.0,512.0 C419.4,515.4 417.1,521.3 416.3,523.2" fill="none" stroke="#0050ff" stroke-width="0.60" stroke-linecap="round" stroke-linejoin="round"/></g>
<g filter="url(#bf)" opacity="1.00"><path d="M430.3,464.7 C429.1,465.0 425.6,465.8 423.0,466.6 C420.4,467.4 417.3,468.7 414.5,469.6 C411.7,470.5 407.4,471.6 406.0,472.0" fill="none" stroke="#0000ff" stroke-width="1.37" stroke-linecap="round" stroke-linejoin="round"/><path d="M430.3,464.7 C429.1,465.0 425.6,465.8 423.0,466.6 C420.4,467.4 417.3,468.7 414.5,469.6 C411.7,470.5 407.4,471.6 406.0,472.0" fill="none" stroke="#0050ff" stroke-width="0.87" stroke-linecap="round" stroke-linejoin="round"/><path d="M430.3,464.7 C429.1,465.0 425.6,465.8 423.0,466.6 C420.4,467.4 417.3,468.7 414.5,469.6 C411.7,470.5 407.4,471.6 406.0,472.0" fill="none" stroke="#00a0ff" stroke-width="0.32" stroke-linecap="round" stroke-linejoin="round"/></g>
<g filter="url(#bf)" opacity="1.00"><path d="M427.9,468.4 C426.5,469.2 422.0,471.9 419.4,473.3 C416.8,474.7 413.2,476.4 412.0,477.0" fill="none" stroke="#0000ff" stroke-width="1.37" stroke-linecap="round" stroke-linejoin="round"/><path d="M427.9,468.4 C426.5,469.2 422.0,471.9 419.4,473.3 C416.8,474.7 413.2,476.4 412.0,477.0" fill="none" stroke="#0050ff" stroke-width="0.87" stroke-linecap="round" stroke-linejoin="round"/><path d="M427.9,468.4 C426.5,469.2 422.0,471.9 419.4,473.3 C416.8,474.7 413.2,476.4 412.0,477.0" fill="none" stroke="#00a0ff" stroke-width="0.32" stroke-linecap="round" stroke-linejoin="round"/></g>
<g filter="url(#bf)" opacity="1.00"><path d="M425.5,470.8 C424.7,471.8 422.0,474.9 420.6,476.9 C419.2,478.9 418.2,480.4 416.9,483.0 C415.6,485.6 413.4,491.2 412.7,492.8" fill="none" stroke="#0000ff" stroke-width="1.18" stroke-linecap="round" stroke-linejoin="round"/><path d="M425.5,470.8 C424.7,471.8 422.0,474.9 420.6,476.9 C419.2,478.9 418.2,480.4 416.9,483.0 C415.6,485.6 413.4,491.2 412.7,492.8" fill="none" stroke="#0050ff" stroke-width="0.65" stroke-linecap="round" stroke-linejoin="round"/></g>
<g filter="url(#bf)" opacity="1.00"><path d="M431.5,464.7 C432.7,465.3 435.9,467.2 438.8,468.4 C441.7,469.6 447.0,471.4 448.6,472.0" fill="none" stroke="#0000ff" stroke-width="1.33" stroke-linecap="round" stroke-linejoin="round"/><path d="M431.5,464.7 C432.7,465.3 435.9,467.2 438.8,468.4 C441.7,469.6 447.0,471.4 448.6,472.0" fill="none" stroke="#0050ff" stroke-width="0.81" stroke-linecap="round" stroke-linejoin="round"/></g>
<g filter="url(#bf)" opacity="1.00"><path d="M431.5,467.0 C432.2,467.8 434.3,470.2 435.5,472.0 C436.7,473.8 438.2,476.6 438.8,477.5" fill="none" stroke="#0000ff" stroke-width="1.18" stroke-linecap="round" stroke-linejoin="round"/><path d="M431.5,467.0 C432.2,467.8 434.3,470.2 435.5,472.0 C436.7,473.8 438.2,476.6 438.8,477.5" fill="none" stroke="#0050ff" stroke-width="0.65" stroke-linecap="round" stroke-linejoin="round"/></g>
<g filter="url(#bf)" opacity="1.00"><path d="M438.8,477.5 C439.2,478.0 440.5,479.1 441.3,480.6 C442.1,482.1 443.1,484.9 443.7,486.7 C444.3,488.5 444.5,489.7 444.9,491.5 C445.3,493.3 445.8,495.6 446.2,497.6 C446.6,499.6 446.9,501.3 447.4,503.7 C447.9,506.1 448.6,509.4 449.2,512.2 C449.8,515.1 450.7,519.4 451.0,520.8" fill="none" stroke="#0000ff" stroke-width="1.79" stroke-linecap="round" stroke-linejoin="round"/><path d="M438.8,477.5 C439.2,478.0 440.5,479.1 441.3,480.6 C442.1,482.1 443.1,484.9 443.7,486.7 C444.3,488.5 444.5,489.7 444.9,491.5 C445.3,493.3 445.8,495.6 446.2,497.6 C446.6,499.6 446.9,501.3 447.4,503.7 C447.9,506.1 448.6,509.4 449.2,512.2 C449.8,515.1 450.7,519.4 451.0,520.8" fill="none" stroke="#0050ff" stroke-width="1.35" stroke-linecap="round" stroke-linejoin="round"/><path d="M438.8,477.5 C439.2,478.0 440.5,479.1 441.3,480.6 C442.1,482.1 443.1,484.9 443.7,486.7 C444.3,488.5 444.5,489.7 444.9,491.5 C445.3,493.3 445.8,495.6 446.2,497.6 C446.6,499.6 446.9,501.3 447.4,503.7 C447.9,506.1 448.6,509.4 449.2,512.2 C449.8,515.1 450.7,519.4 451.0,520.8" fill="none" stroke="#00a0ff" stroke-width="1.01" stroke-linecap="round" stroke-linejoin="round"/><path d="M438.8,477.5 C439.2,478.0 440.5,479.1 441.3,480.6 C442.1,482.1 443.1,484.9 443.7,486.7 C444.3,488.5 444.5,489.7 444.9,491.5 C445.3,493.3 445.8,495.6 446.2,497.6 C446.6,499.6 446.9,501.3 447.4,503.7 C447.9,506.1 448.6,509.4 449.2,512.2 C449.8,515.1 450.7,519.4 451.0,520.8" fill="none" stroke="#00e8ff" stroke-width="0.67" stroke-linecap="round" stroke-linejoin="round"/></g>
<g filter="url(#bf)" opacity="1.00"><path d="M438.8,477.5 C439.2,477.9 440.2,478.5 441.0,480.0 C441.8,481.5 443.2,485.6 443.7,486.7" fill="none" stroke="#0000ff" stroke-width="1.91" stroke-linecap="round" stroke-linejoin="round"/><path d="M438.8,477.5 C439.2,477.9 440.2,478.5 441.0,480.0 C441.8,481.5 443.2,485.6 443.7,486.7" fill="none" stroke="#0050ff" stroke-width="1.50" stroke-linecap="round" stroke-linejoin="round"/><path d="M438.8,477.5 C439.2,477.9 440.2,478.5 441.0,480.0 C441.8,481.5 443.2,485.6 443.7,486.7" fill="none" stroke="#00a0ff" stroke-width="1.20" stroke-linecap="round" stroke-linejoin="round"/><path d="M438.8,477.5 C439.2,477.9 440.2,478.5 441.0,480.0 C441.8,481.5 443.2,485.6 443.7,486.7" fill="none" stroke="#00e8ff" stroke-width="0.94" stroke-linecap="round" stroke-linejoin="round"/><path d="M438.8,477.5 C439.2,477.9 440.2,478.5 441.0,480.0 C441.8,481.5 443.2,485.6 443.7,486.7" fill="none" stroke="#70ffa0" stroke-width="0.66" stroke-linecap="round" stroke-linejoin="round"/><path d="M438.8,477.5 C439.2,477.9 440.2,478.5 441.0,480.0 C441.8,481.5 443.2,485.6 443.7,486.7" fill="none" stroke="#d8ff28" stroke-width="0.26" stroke-linecap="round" stroke-linejoin="round"/></g>
<g filter="url(#bf)" opacity="1.00"><path d="M443.7,486.7 C444.5,486.9 446.8,487.2 448.6,487.9 C450.4,488.6 453.7,490.4 454.7,490.9" fill="none" stroke="#0000ff" stroke-width="1.85" stroke-linecap="round" stroke-linejoin="round"/><path d="M443.7,486.7 C444.5,486.9 446.8,487.2 448.6,487.9 C450.4,488.6 453.7,490.4 454.7,490.9" fill="none" stroke="#0050ff" stroke-width="1.42" stroke-linecap="round" stroke-linejoin="round"/><path d="M443.7,486.7 C444.5,486.9 446.8,487.2 448.6,487.9 C450.4,488.6 453.7,490.4 454.7,490.9" fill="none" stroke="#00a0ff" stroke-width="1.10" stroke-linecap="round" stroke-linejoin="round"/><path d="M443.7,486.7 C444.5,486.9 446.8,487.2 448.6,487.9 C450.4,488.6 453.7,490.4 454.7,490.9" fill="none" stroke="#00e8ff" stroke-width="0.80" stroke-linecap="round" stroke-linejoin="round"/><path d="M443.7,486.7 C444.5,486.9 446.8,487.2 448.6,487.9 C450.4,488.6 453.7,490.4 454.7,490.9" fill="none" stroke="#70ffa0" stroke-width="0.44" stroke-linecap="round" stroke-linejoin="round"/></g>
<g filter="url(#bf)" opacity="1.00"><path d="M441.3,484.2 C441.1,485.2 440.6,488.1 440.0,490.3 C439.4,492.5 438.6,495.2 437.6,497.6 C436.6,500.1 434.6,503.8 434.0,505.0" fill="none" stroke="#0000ff" stroke-width="1.50" stroke-linecap="round" stroke-linejoin="round"/><path d="M441.3,484.2 C441.1,485.2 440.6,488.1 440.0,490.3 C439.4,492.5 438.6,495.2 437.6,497.6 C436.6,500.1 434.6,503.8 434.0,505.0" fill="none" stroke="#0050ff" stroke-width="1.06" stroke-linecap="round" stroke-linejoin="round"/><path d="M441.3,484.2 C441.1,485.2 440.6,488.1 440.0,490.3 C439.4,492.5 438.6,495.2 437.6,497.6 C436.6,500.1 434.6,503.8 434.0,505.0" fill="none" stroke="#00a0ff" stroke-width="0.68" stroke-linecap="round" stroke-linejoin="round"/></g>
<g filter="url(#bf)" opacity="1.00"><path d="M447.4,491.5 C448.2,492.9 450.6,496.9 452.2,500.0 C453.8,503.1 456.3,508.2 457.1,509.8" fill="none" stroke="#0000ff" stroke-width="1.42" stroke-linecap="round" stroke-linejoin="round"/><path d="M447.4,491.5 C448.2,492.9 450.6,496.9 452.2,500.0 C453.8,503.1 456.3,508.2 457.1,509.8" fill="none" stroke="#0050ff" stroke-width="0.95" stroke-linecap="round" stroke-linejoin="round"/><path d="M447.4,491.5 C448.2,492.9 450.6,496.9 452.2,500.0 C453.8,503.1 456.3,508.2 457.1,509.8" fill="none" stroke="#00a0ff" stroke-width="0.50" stroke-linecap="round" stroke-linejoin="round"/></g>
<g filter="url(#bs)" opacity="1.00"><ellipse cx="447.4" cy="479.4" rx="1.40" ry="1.20" fill="#0000ff"/><ellipse cx="447.4" cy="479.4" rx="1.01" ry="0.86" fill="#0050ff"/><ellipse cx="447.4" cy="479.4" rx="0.68" ry="0.58" fill="#00a0ff"/><ellipse cx="447.4" cy="479.4" rx="0.26" ry="0.22" fill="#00e8ff"/></g>
<g filter="url(#bs)" opacity="1.00"><ellipse cx="448.3" cy="491.5" rx="1.60" ry="1.50" fill="#0000ff"/><ellipse cx="448.3" cy="491.5" rx="1.17" ry="1.10" fill="#0050ff"/><ellipse cx="448.3" cy="491.5" rx="0.83" ry="0.78" fill="#00a0ff"/><ellipse cx="448.3" cy="491.5" rx="0.45" ry="0.42" fill="#00e8ff"/></g>
<g filter="url(#bf)" opacity="1.00"><path d="M436.0,494.0 C435.3,495.5 432.8,499.5 432.0,503.0 C431.2,506.5 431.2,513.0 431.0,515.0" fill="none" stroke="#0000ff" stroke-width="1.08" stroke-linecap="round" stroke-linejoin="round"/><path d="M436.0,494.0 C435.3,495.5 432.8,499.5 432.0,503.0 C431.2,506.5 431.2,513.0 431.0,515.0" fill="none" stroke="#0050ff" stroke-width="0.53" stroke-linecap="round" stroke-linejoin="round"/></g>
<g filter="url(#bf)" opacity="1.00"><path d="M449.0,505.0 C448.7,506.7 447.5,511.2 447.0,515.0 C446.5,518.8 446.2,525.8 446.0,528.0" fill="none" stroke="#0000ff" stroke-width="1.08" stroke-linecap="round" stroke-linejoin="round"/><path d="M449.0,505.0 C448.7,506.7 447.5,511.2 447.0,515.0 C446.5,518.8 446.2,525.8 446.0,528.0" fill="none" stroke="#0050ff" stroke-width="0.53" stroke-linecap="round" stroke-linejoin="round"/></g>
<g filter="url(#bf)" opacity="1.00"><path d="M380.0,488.0 L388.0,480.0" fill="none" stroke="#0000ff" stroke-width="1.41" stroke-linecap="round" stroke-linejoin="round"/></g>
<g filter="url(#bf)" opacity="1.00"><path d="M480.0,500.0 L488.0,504.0" fill="none" stroke="#0000ff" stroke-width="1.51" stroke-linecap="round" stroke-linejoin="round"/><path d="M480.0,500.0 L488.0,504.0" fill="none" stroke="#0050ff" stroke-width="0.52" stroke-linecap="round" stroke-linejoin="round"/></g>
<g filter="url(#bf)" opacity="1.00"><path d="M455.0,478.0 L462.0,480.0" fill="none" stroke="#0000ff" stroke-width="1.26" stroke-linecap="round" stroke-linejoin="round"/><path d="M455.0,478.0 L462.0,480.0" fill="none" stroke="#0050ff" stroke-width="0.44" stroke-linecap="round" stroke-linejoin="round"/></g>
<g filter="url(#bf)" opacity="1.00"><path d="M412.0,478.0 C410.8,479.7 407.0,484.3 405.0,488.0 C403.0,491.7 400.8,498.0 400.0,500.0" fill="none" stroke="#0000ff" stroke-width="1.05" stroke-linecap="round" stroke-linejoin="round"/><path d="M412.0,478.0 C410.8,479.7 407.0,484.3 405.0,488.0 C403.0,491.7 400.8,498.0 400.0,500.0" fill="none" stroke="#0050ff" stroke-width="0.37" stroke-linecap="round" stroke-linejoin="round"/></g>
<g filter="url(#bf)" opacity="1.00"><path d="M416.0,490.0 C415.0,492.2 412.0,498.8 410.0,503.0 C408.0,507.2 405.0,513.0 404.0,515.0" fill="none" stroke="#0000ff" stroke-width="1.05" stroke-linecap="round" stroke-linejoin="round"/><path d="M416.0,490.0 C415.0,492.2 412.0,498.8 410.0,503.0 C408.0,507.2 405.0,513.0 404.0,515.0" fill="none" stroke="#0050ff" stroke-width="0.37" stroke-linecap="round" stroke-linejoin="round"/></g>
<g filter="url(#bf)" opacity="1.00"><path d="M437.0,514.7 C437.5,516.4 439.3,521.6 440.0,525.0 C440.7,528.4 440.8,533.3 441.0,535.0" fill="none" stroke="#0000ff" stroke-width="1.05" stroke-linecap="round" stroke-linejoin="round"/><path d="M437.0,514.7 C437.5,516.4 439.3,521.6 440.0,525.0 C440.7,528.4 440.8,533.3 441.0,535.0" fill="none" stroke="#0050ff" stroke-width="0.37" stroke-linecap="round" stroke-linejoin="round"/></g>
<g filter="url(#bf)" opacity="1.00"><path d="M407.8,514.7 C407.0,515.9 404.5,519.5 403.0,522.0 C401.5,524.5 399.7,528.7 399.0,530.0" fill="none" stroke="#0000ff" stroke-width="1.05" stroke-linecap="round" stroke-linejoin="round"/><path d="M407.8,514.7 C407.0,515.9 404.5,519.5 403.0,522.0 C401.5,524.5 399.7,528.7 399.0,530.0" fill="none" stroke="#0050ff" stroke-width="0.37" stroke-linecap="round" stroke-linejoin="round"/></g>
<g filter="url(#bf)" opacity="1.00"><path d="M422.4,520.8 C422.0,522.7 420.7,528.0 420.0,532.0 C419.3,536.0 418.3,542.8 418.0,545.0" fill="none" stroke="#0000ff" stroke-width="0.99" stroke-linecap="round" stroke-linejoin="round"/></g>
<g filter="url(#bf)" opacity="1.00"><path d="M451.0,520.8 C451.2,522.7 451.8,528.0 452.0,532.0 C452.2,536.0 452.0,542.8 452.0,545.0" fill="none" stroke="#0000ff" stroke-width="1.05" stroke-linecap="round" stroke-linejoin="round"/><path d="M451.0,520.8 C451.2,522.7 451.8,528.0 452.0,532.0 C452.2,536.0 452.0,542.8 452.0,545.0" fill="none" stroke="#0050ff" stroke-width="0.37" stroke-linecap="round" stroke-linejoin="round"/></g>
<g filter="url(#bf)" opacity="1.00"><path d="M457.1,509.8 C457.8,511.5 459.9,516.6 461.0,520.0 C462.1,523.4 463.5,528.3 464.0,530.0" fill="none" stroke="#0000ff" stroke-width="0.99" stroke-linecap="round" stroke-linejoin="round"/></g>
<g filter="url(#bf)" opacity="1.00"><path d="M435.0,476.0 L437.0,486.0" fill="none" stroke="#0000ff" stroke-width="1.14" stroke-linecap="round" stroke-linejoin="round"/><path d="M435.0,476.0 L437.0,486.0" fill="none" stroke="#0050ff" stroke-width="0.56" stroke-linecap="round" stroke-linejoin="round"/></g>
<g filter="url(#bf)" opacity="1.00"><path d="M450.0,470.0 C451.7,470.8 457.0,473.3 460.0,475.0 C463.0,476.7 466.7,479.2 468.0,480.0" fill="none" stroke="#0000ff" stroke-width="0.99" stroke-linecap="round" stroke-linejoin="round"/></g>
<g filter="url(#bf)" opacity="1.00"><path d="M400.0,470.0 C398.7,470.5 394.7,471.7 392.0,473.0 C389.3,474.3 385.3,477.2 384.0,478.0" fill="none" stroke="#0000ff" stroke-width="0.99" stroke-linecap="round" stroke-linejoin="round"/></g>
<g filter="url(#bf)" opacity="1.00"><path d="M445.0,512.0 C444.2,514.2 441.5,520.7 440.0,525.0 C438.5,529.3 436.7,535.8 436.0,538.0" fill="none" stroke="#0000ff" stroke-width="0.99" stroke-linecap="round" stroke-linejoin="round"/></g>
<path d="M428.85,450.2 L432.15,450.2 L432.05,458.07 Q431.82,461.70 430.50,462.9 Q429.18,461.70 428.95,458.07 Z" fill="#fffff2" stroke="#4a4a40" stroke-width="0.35" stroke-opacity="0.75"/>
<g><path d="M527.5,513.8 L526.8,518.3" fill="none" stroke="#0a38ff" stroke-width="1.1" stroke-linecap="round" filter="url(#bs)" opacity="0.26"/><path d="M497.3,493.4 L496.4,498.1" fill="none" stroke="#0a38ff" stroke-width="1.1" stroke-linecap="round" filter="url(#bs)" opacity="0.42"/><path d="M500.1,527.5 L501.6,532.2" fill="none" stroke="#0a38ff" stroke-width="1.1" stroke-linecap="round" filter="url(#bs)" opacity="0.42"/><path d="M520.5,549.8 L516.8,558.0" fill="none" stroke="#0a38ff" stroke-width="1.1" stroke-linecap="round" filter="url(#bs)" opacity="0.34"/><path d="M577.3,557.3 L576.0,562.3" fill="none" stroke="#0a38ff" stroke-width="1.1" stroke-linecap="round" filter="url(#bs)" opacity="0.43"/><path d="M607.7,474.4 L608.8,478.9" fill="none" stroke="#0a38ff" stroke-width="1.1" stroke-linecap="round" filter="url(#bs)" opacity="0.32"/><path d="M540.9,552.6 L542.3,561.7" fill="none" stroke="#0a38ff" stroke-width="1.1" stroke-linecap="round" filter="url(#bs)" opacity="0.45"/><path d="M580.9,546.0 L581.7,554.5" fill="none" stroke="#0a38ff" stroke-width="1.1" stroke-linecap="round" filter="url(#bs)" opacity="0.25"/><path d="M601.5,556.2 L602.3,562.6" fill="none" stroke="#0a38ff" stroke-width="1.1" stroke-linecap="round" filter="url(#bs)" opacity="0.24"/><path d="M554.0,527.3 L553.5,533.4" fill="none" stroke="#0a38ff" stroke-width="1.1" stroke-linecap="round" filter="url(#bs)" opacity="0.44"/><path d="M512.6,510.5 L512.1,515.1" fill="none" stroke="#0a38ff" stroke-width="1.1" stroke-linecap="round" filter="url(#bs)" opacity="0.45"/><path d="M567.0,467.9 L568.6,477.8" fill="none" stroke="#0a38ff" stroke-width="1.1" stroke-linecap="round" filter="url(#bs)" opacity="0.36"/><path d="M529.5,495.1 L530.1,500.3" fill="none" stroke="#0a38ff" stroke-width="1.1" stroke-linecap="round" filter="url(#bs)" opacity="0.25"/><path d="M605.6,475.3 L606.2,483.6" fill="none" stroke="#0a38ff" stroke-width="1.1" stroke-linecap="round" filter="url(#bs)" opacity="0.33"/><path d="M528.3,508.9 L531.2,514.5" fill="none" stroke="#0a38ff" stroke-width="1.1" stroke-linecap="round" filter="url(#bs)" opacity="0.39"/><path d="M556.2,531.3 L553.6,538.3" fill="none" stroke="#0a38ff" stroke-width="1.1" stroke-linecap="round" filter="url(#bs)" opacity="0.25"/><path d="M608.5,549.4 L609.0,554.1" fill="none" stroke="#0a38ff" stroke-width="1.1" stroke-linecap="round" filter="url(#bs)" opacity="0.43"/><path d="M599.7,471.5 L599.2,476.4" fill="none" stroke="#0a38ff" stroke-width="1.1" stroke-linecap="round" filter="url(#bs)" opacity="0.38"/><path d="M505.6,534.6 L505.1,543.8" fill="none" stroke="#0a38ff" stroke-width="1.1" stroke-linecap="round" filter="url(#bs)" opacity="0.44"/><path d="M541.1,548.3 L540.5,555.0" fill="none" stroke="#0a38ff" stroke-width="1.1" stroke-linecap="round" filter="url(#bs)" opacity="0.33"/><path d="M578.3,553.3 L578.7,557.8" fill="none" stroke="#0a38ff" stroke-width="1.1" stroke-linecap="round" filter="url(#bs)" opacity="0.44"/><path d="M576.3,488.4 L578.7,494.5" fill="none" stroke="#0a38ff" stroke-width="1.1" stroke-linecap="round" filter="url(#bs)" opacity="0.29"/><path d="M606.7,504.2 L608.2,511.7" fill="none" stroke="#0a38ff" stroke-width="1.1" stroke-linecap="round" filter="url(#bs)" opacity="0.4"/><path d="M564.5,551.8 L567.9,559.5" fill="none" stroke="#0a38ff" stroke-width="1.1" stroke-linecap="round" filter="url(#bs)" opacity="0.4"/><path d="M564.2,470.7 L561.4,480.7" fill="none" stroke="#0a38ff" stroke-width="1.1" stroke-linecap="round" filter="url(#bs)" opacity="0.29"/><path d="M501.7,527.1 L502.7,533.6" fill="none" stroke="#0a38ff" stroke-width="1.1" stroke-linecap="round" filter="url(#bs)" opacity="0.44"/><path d="M605.2,545.3 L604.1,555.1" fill="none" stroke="#0a38ff" stroke-width="1.1" stroke-linecap="round" filter="url(#bs)" opacity="0.25"/><path d="M585.2,564.5 L588.1,571.2" fill="none" stroke="#0a38ff" stroke-width="1.1" stroke-linecap="round" filter="url(#bs)" opacity="0.38"/><path d="M540.7,548.2 L540.1,552.6" fill="none" stroke="#0a38ff" stroke-width="1.1" stroke-linecap="round" filter="url(#bs)" opacity="0.41"/><path d="M505.5,520.4 L503.6,526.8" fill="none" stroke="#0a38ff" stroke-width="1.1" stroke-linecap="round" filter="url(#bs)" opacity="0.34"/><path d="M582.2,532.0 L584.5,539.9" fill="none" stroke="#0a38ff" stroke-width="1.1" stroke-linecap="round" filter="url(#bs)" opacity="0.34"/><path d="M563.3,474.9 L564.8,483.4" fill="none" stroke="#0a38ff" stroke-width="1.1" stroke-linecap="round" filter="url(#bs)" opacity="0.39"/><path d="M588.6,563.5 L592.7,571.5" fill="none" stroke="#0a38ff" stroke-width="1.1" stroke-linecap="round" filter="url(#bs)" opacity="0.4"/><path d="M528.2,551.6 L529.3,560.2" fill="none" stroke="#0a38ff" stroke-width="1.1" stroke-linecap="round" filter="url(#bs)" opacity="0.27"/><path d="M561.6,499.0 L564.9,506.3" fill="none" stroke="#0a38ff" stroke-width="1.1" stroke-linecap="round" filter="url(#bs)" opacity="0.33"/><path d="M498.3,477.2 L500.9,484.5" fill="none" stroke="#0a38ff" stroke-width="1.1" stroke-linecap="round" filter="url(#bs)" opacity="0.25"/><path d="M543.8,498.9 L544.7,505.9" fill="none" stroke="#0a38ff" stroke-width="1.1" stroke-linecap="round" filter="url(#bs)" opacity="0.36"/><path d="M527.5,551.9 L531.2,560.9" fill="none" stroke="#0a38ff" stroke-width="1.1" stroke-linecap="round" filter="url(#bs)" opacity="0.27"/><path d="M558.1,488.6 L560.0,492.9" fill="none" stroke="#0a38ff" stroke-width="1.1" stroke-linecap="round" filter="url(#bs)" opacity="0.4"/><path d="M548.9,541.6 L548.6,551.5" fill="none" stroke="#0a38ff" stroke-width="1.1" stroke-linecap="round" filter="url(#bs)" opacity="0.27"/><path d="M600.6,515.7 L598.5,522.3" fill="none" stroke="#0a38ff" stroke-width="1.1" stroke-linecap="round" filter="url(#bs)" opacity="0.36"/><path d="M596.7,558.2 L594.8,562.8" fill="none" stroke="#0a38ff" stroke-width="1.1" stroke-linecap="round" filter="url(#bs)" opacity="0.48"/><path d="M556.7,528.4 L555.9,537.2" fill="none" stroke="#0a38ff" stroke-width="1.1" stroke-linecap="round" filter="url(#bs)" opacity="0.33"/><path d="M597.0,527.4 L595.2,531.1" fill="none" stroke="#0a38ff" stroke-width="1.1" stroke-linecap="round" filter="url(#bs)" opacity="0.44"/><path d="M564.9,539.6 L566.4,546.9" fill="none" stroke="#0a38ff" stroke-width="1.1" stroke-linecap="round" filter="url(#bs)" opacity="0.32"/><path d="M538.5,499.2 L541.1,504.7" fill="none" stroke="#0a38ff" stroke-width="1.1" stroke-linecap="round" filter="url(#bs)" opacity="0.45"/><path d="M559.2,469.2 L562.4,479.2" fill="none" stroke="#0a38ff" stroke-width="1.1" stroke-linecap="round" filter="url(#bs)" opacity="0.39"/><path d="M607.8,540.5 L606.5,548.6" fill="none" stroke="#0a38ff" stroke-width="1.1" stroke-linecap="round" filter="url(#bs)" opacity="0.39"/><path d="M545.0,482.4 L543.0,487.2" fill="none" stroke="#0a38ff" stroke-width="1.1" stroke-linecap="round" filter="url(#bs)" opacity="0.4"/><path d="M539.5,563.8 L537.3,574.0" fill="none" stroke="#0a38ff" stroke-width="1.1" stroke-linecap="round" filter="url(#bs)" opacity="0.26"/><path d="M592.6,549.9 L594.3,556.3" fill="none" stroke="#0a38ff" stroke-width="1.1" stroke-linecap="round" filter="url(#bs)" opacity="0.47"/><path d="M547.8,509.3 L550.6,517.1" fill="none" stroke="#0a38ff" stroke-width="1.1" stroke-linecap="round" filter="url(#bs)" opacity="0.41"/><path d="M610.6,479.4 L608.9,483.7" fill="none" stroke="#0a38ff" stroke-width="1.1" stroke-linecap="round" filter="url(#bs)" opacity="0.47"/><path d="M530.5,472.3 L528.2,476.8" fill="none" stroke="#0a38ff" stroke-width="1.1" stroke-linecap="round" filter="url(#bs)" opacity="0.37"/><path d="M569.7,493.4 L567.9,497.1" fill="none" stroke="#0a38ff" stroke-width="1.1" stroke-linecap="round" filter="url(#bs)" opacity="0.41"/><path d="M496.1,488.9 L495.5,496.0" fill="none" stroke="#0a38ff" stroke-width="1.1" stroke-linecap="round" filter="url(#bs)" opacity="0.46"/><path d="M604.2,515.1 L603.0,523.4" fill="none" stroke="#0a38ff" stroke-width="1.1" stroke-linecap="round" filter="url(#bs)" opacity="0.39"/><path d="M502.6,483.8 L502.2,493.6" fill="none" stroke="#0a38ff" stroke-width="1.1" stroke-linecap="round" filter="url(#bs)" opacity="0.36"/><path d="M592.6,530.2 L592.4,535.4" fill="none" stroke="#0a38ff" stroke-width="1.1" stroke-linecap="round" filter="url(#bs)" opacity="0.45"/><path d="M536.6,560.2 L536.0,565.5" fill="none" stroke="#0a38ff" stroke-width="1.1" stroke-linecap="round" filter="url(#bs)" opacity="0.29"/><path d="M528.8,487.0 L530.9,495.3" fill="none" stroke="#0a38ff" stroke-width="1.1" stroke-linecap="round" filter="url(#bs)" opacity="0.45"/><path d="M512.1,564.6 L510.1,573.1" fill="none" stroke="#0a38ff" stroke-width="1.1" stroke-linecap="round" filter="url(#bs)" opacity="0.4"/><path d="M567.1,500.3 L564.7,505.7" fill="none" stroke="#0a38ff" stroke-width="1.1" stroke-linecap="round" filter="url(#bs)" opacity="0.29"/><path d="M595.5,502.2 L595.1,510.8" fill="none" stroke="#0a38ff" stroke-width="1.1" stroke-linecap="round" filter="url(#bs)" opacity="0.3"/><path d="M546.0,487.4 L543.9,494.1" fill="none" stroke="#0a38ff" stroke-width="1.1" stroke-linecap="round" filter="url(#bs)" opacity="0.27"/><path d="M588.1,496.2 L591.8,504.2" fill="none" stroke="#0a38ff" stroke-width="1.1" stroke-linecap="round" filter="url(#bs)" opacity="0.46"/><path d="M592.8,514.7 L589.3,521.5" fill="none" stroke="#0a38ff" stroke-width="1.1" stroke-linecap="round" filter="url(#bs)" opacity="0.4"/><path d="M554.4,499.2 L556.9,508.8" fill="none" stroke="#0a38ff" stroke-width="1.1" stroke-linecap="round" filter="url(#bs)" opacity="0.43"/><path d="M535.5,516.1 L539.3,524.8" fill="none" stroke="#0a38ff" stroke-width="1.1" stroke-linecap="round" filter="url(#bs)" opacity="0.36"/><path d="M579.1,521.5 L581.2,526.7" fill="none" stroke="#0a38ff" stroke-width="1.1" stroke-linecap="round" filter="url(#bs)" opacity="0.37"/><path d="M516.1,523.1 L512.8,532.5" fill="none" stroke="#0a38ff" stroke-width="1.1" stroke-linecap="round" filter="url(#bs)" opacity="0.28"/><path d="M569.6,478.8 L570.7,488.0" fill="none" stroke="#0a38ff" stroke-width="1.1" stroke-linecap="round" filter="url(#bs)" opacity="0.35"/><path d="M548.5,562.4 L548.9,568.5" fill="none" stroke="#0a38ff" stroke-width="1.1" stroke-linecap="round" filter="url(#bs)" opacity="0.34"/><path d="M607.2,503.1 L607.0,507.2" fill="none" stroke="#0a38ff" stroke-width="1.1" stroke-linecap="round" filter="url(#bs)" opacity="0.37"/><path d="M582.7,528.6 L580.1,538.5" fill="none" stroke="#0a38ff" stroke-width="1.1" stroke-linecap="round" filter="url(#bs)" opacity="0.39"/><path d="M592.7,553.8 L594.2,563.3" fill="none" stroke="#0a38ff" stroke-width="1.1" stroke-linecap="round" filter="url(#bs)" opacity="0.34"/><path d="M603.1,539.3 L606.1,545.6" fill="none" stroke="#0a38ff" stroke-width="1.1" stroke-linecap="round" filter="url(#bs)" opacity="0.45"/><path d="M608.5,559.9 L607.6,570.5" fill="none" stroke="#0a38ff" stroke-width="1.1" stroke-linecap="round" filter="url(#bs)" opacity="0.34"/><path d="M609.1,467.8 L612.5,477.9" fill="none" stroke="#0a38ff" stroke-width="1.1" stroke-linecap="round" filter="url(#bs)" opacity="0.29"/><path d="M569.0,503.0 L572.7,511.4" fill="none" stroke="#0a38ff" stroke-width="1.1" stroke-linecap="round" filter="url(#bs)" opacity="0.42"/><path d="M593.5,493.4 L593.3,500.9" fill="none" stroke="#0a38ff" stroke-width="1.1" stroke-linecap="round" filter="url(#bs)" opacity="0.47"/><path d="M520.9,537.0 L519.5,545.7" fill="none" stroke="#0a38ff" stroke-width="1.1" stroke-linecap="round" filter="url(#bs)" opacity="0.46"/><path d="M600.5,490.7 L601.4,496.9" fill="none" stroke="#0a38ff" stroke-width="1.1" stroke-linecap="round" filter="url(#bs)" opacity="0.27"/><path d="M529.1,476.6 L529.0,485.5" fill="none" stroke="#0a38ff" stroke-width="1.1" stroke-linecap="round" filter="url(#bs)" opacity="0.26"/><path d="M593.1,519.3 L590.9,527.6" fill="none" stroke="#0a38ff" stroke-width="1.1" stroke-linecap="round" filter="url(#bs)" opacity="0.4"/><path d="M535.1,563.0 L533.1,567.1" fill="none" stroke="#0a38ff" stroke-width="1.1" stroke-linecap="round" filter="url(#bs)" opacity="0.33"/><path d="M511.6,478.6 L512.0,487.9" fill="none" stroke="#0a38ff" stroke-width="1.1" stroke-linecap="round" filter="url(#bs)" opacity="0.41"/><path d="M516.2,529.1 L512.5,537.7" fill="none" stroke="#0a38ff" stroke-width="1.1" stroke-linecap="round" filter="url(#bs)" opacity="0.28"/><path d="M549.2,497.6 L549.8,507.6" fill="none" stroke="#0a38ff" stroke-width="1.1" stroke-linecap="round" filter="url(#bs)" opacity="0.35"/><path d="M541.3,481.7 L540.1,486.9" fill="none" stroke="#0a38ff" stroke-width="1.1" stroke-linecap="round" filter="url(#bs)" opacity="0.24"/><path d="M515.2,523.8 L515.2,531.3" fill="none" stroke="#0a38ff" stroke-width="1.1" stroke-linecap="round" filter="url(#bs)" opacity="0.37"/><path d="M562.8,565.0 L564.9,572.3" fill="none" stroke="#0a38ff" stroke-width="1.1" stroke-linecap="round" filter="url(#bs)" opacity="0.31"/><path d="M589.5,518.4 L593.9,527.4" fill="none" stroke="#0a38ff" stroke-width="1.1" stroke-linecap="round" filter="url(#bs)" opacity="0.29"/><path d="M599.5,528.4 L595.0,537.6" fill="none" stroke="#0a38ff" stroke-width="1.1" stroke-linecap="round" filter="url(#bs)" opacity="0.44"/><path d="M582.5,550.5 L581.5,556.4" fill="none" stroke="#0a38ff" stroke-width="1.1" stroke-linecap="round" filter="url(#bs)" opacity="0.4"/><path d="M537.0,519.6 L535.8,529.4" fill="none" stroke="#0a38ff" stroke-width="1.1" stroke-linecap="round" filter="url(#bs)" opacity="0.48"/><path d="M599.4,538.4 L594.7,547.3" fill="none" stroke="#0a38ff" stroke-width="1.1" stroke-linecap="round" filter="url(#bs)" opacity="0.39"/><path d="M601.1,499.1 L597.9,506.7" fill="none" stroke="#0a38ff" stroke-width="1.1" stroke-linecap="round" filter="url(#bs)" opacity="0.42"/><path d="M521.6,563.2 L518.0,570.6" fill="none" stroke="#0a38ff" stroke-width="1.1" stroke-linecap="round" filter="url(#bs)" opacity="0.37"/><path d="M510.6,497.5 L507.1,505.4" fill="none" stroke="#0a38ff" stroke-width="1.1" stroke-linecap="round" filter="url(#bs)" opacity="0.44"/><path d="M575.9,532.4 L573.5,538.2" fill="none" stroke="#0a38ff" stroke-width="1.1" stroke-linecap="round" filter="url(#bs)" opacity="0.37"/><path d="M573.6,559.5 L575.7,567.8" fill="none" stroke="#0a38ff" stroke-width="1.1" stroke-linecap="round" filter="url(#bs)" opacity="0.35"/><path d="M522.7,518.8 L523.2,529.4" fill="none" stroke="#0a38ff" stroke-width="1.1" stroke-linecap="round" filter="url(#bs)" opacity="0.25"/><path d="M569.6,550.6 L571.0,557.9" fill="none" stroke="#0a38ff" stroke-width="1.1" stroke-linecap="round" filter="url(#bs)" opacity="0.28"/><path d="M574.2,518.6 L574.2,528.2" fill="none" stroke="#0a38ff" stroke-width="1.1" stroke-linecap="round" filter="url(#bs)" opacity="0.35"/><path d="M547.3,553.8 L547.6,564.7" fill="none" stroke="#0a38ff" stroke-width="1.1" stroke-linecap="round" filter="url(#bs)" opacity="0.3"/><path d="M581.2,490.5 L577.3,499.9" fill="none" stroke="#0a38ff" stroke-width="1.1" stroke-linecap="round" filter="url(#bs)" opacity="0.34"/><path d="M602.0,468.5 L603.0,478.3" fill="none" stroke="#0a38ff" stroke-width="1.1" stroke-linecap="round" filter="url(#bs)" opacity="0.41"/><path d="M503.3,538.8 L498.4,548.2" fill="none" stroke="#0a38ff" stroke-width="1.1" stroke-linecap="round" filter="url(#bs)" opacity="0.3"/><path d="M591.9,544.6 L595.3,552.0" fill="none" stroke="#0a38ff" stroke-width="1.1" stroke-linecap="round" filter="url(#bs)" opacity="0.38"/><path d="M522.4,544.8 L520.8,550.7" fill="none" stroke="#0a38ff" stroke-width="1.1" stroke-linecap="round" filter="url(#bs)" opacity="0.31"/><path d="M514.6,485.1 L514.1,494.6" fill="none" stroke="#0a38ff" stroke-width="1.1" stroke-linecap="round" filter="url(#bs)" opacity="0.24"/><path d="M605.8,480.5 L605.8,486.3" fill="none" stroke="#0a38ff" stroke-width="1.1" stroke-linecap="round" filter="url(#bs)" opacity="0.33"/><path d="M603.4,546.7 L603.2,556.8" fill="none" stroke="#0a38ff" stroke-width="1.1" stroke-linecap="round" filter="url(#bs)" opacity="0.26"/><path d="M525.5,480.1 L525.2,484.4" fill="none" stroke="#0a38ff" stroke-width="1.1" stroke-linecap="round" filter="url(#bs)" opacity="0.3"/><path d="M521.2,468.9 L523.8,473.8" fill="none" stroke="#0a38ff" stroke-width="1.1" stroke-linecap="round" filter="url(#bs)" opacity="0.32"/><path d="M577.8,505.2 L577.3,511.4" fill="none" stroke="#0a38ff" stroke-width="1.1" stroke-linecap="round" filter="url(#bs)" opacity="0.35"/><path d="M544.2,557.8 L545.7,562.2" fill="none" stroke="#0a38ff" stroke-width="1.1" stroke-linecap="round" filter="url(#bs)" opacity="0.41"/><path d="M593.1,543.7 L589.1,552.9" fill="none" stroke="#0a38ff" stroke-width="1.1" stroke-linecap="round" filter="url(#bs)" opacity="0.32"/><path d="M567.4,551.6 L566.8,555.6" fill="none" stroke="#0a38ff" stroke-width="1.1" stroke-linecap="round" filter="url(#bs)" opacity="0.29"/><path d="M527.7,543.5 L531.5,550.9" fill="none" stroke="#0a38ff" stroke-width="1.1" stroke-linecap="round" filter="url(#bs)" opacity="0.38"/><path d="M502.3,490.3 L499.8,496.3" fill="none" stroke="#0a38ff" stroke-width="1.1" stroke-linecap="round" filter="url(#bs)" opacity="0.43"/><path d="M610.0,555.2 L611.3,559.1" fill="none" stroke="#0a38ff" stroke-width="1.1" stroke-linecap="round" filter="url(#bs)" opacity="0.47"/><path d="M521.6,489.1 L521.1,494.4" fill="none" stroke="#0a38ff" stroke-width="1.1" stroke-linecap="round" filter="url(#bs)" opacity="0.45"/><path d="M591.8,477.1 L593.2,481.7" fill="none" stroke="#0a38ff" stroke-width="1.1" stroke-linecap="round" filter="url(#bs)" opacity="0.45"/><path d="M587.8,495.0 L590.4,502.2" fill="none" stroke="#0a38ff" stroke-width="1.1" stroke-linecap="round" filter="url(#bs)" opacity="0.48"/><path d="M543.8,525.2 L548.0,533.9" fill="none" stroke="#0a38ff" stroke-width="1.1" stroke-linecap="round" filter="url(#bs)" opacity="0.27"/><path d="M510.3,498.8 L512.6,503.7" fill="none" stroke="#0a38ff" stroke-width="1.1" stroke-linecap="round" filter="url(#bs)" opacity="0.29"/><path d="M539.8,493.1 L541.3,502.4" fill="none" stroke="#0a38ff" stroke-width="1.1" stroke-linecap="round" filter="url(#bs)" opacity="0.33"/><path d="M524.8,541.8 L526.6,546.2" fill="none" stroke="#0a38ff" stroke-width="1.1" stroke-linecap="round" filter="url(#bs)" opacity="0.27"/><path d="M605.1,466.6 L603.6,476.7" fill="none" stroke="#0a38ff" stroke-width="1.1" stroke-linecap="round" filter="url(#bs)" opacity="0.25"/><path d="M605.9,521.9 L603.6,527.9" fill="none" stroke="#0a38ff" stroke-width="1.1" stroke-linecap="round" filter="url(#bs)" opacity="0.43"/><path d="M553.2,479.1 L553.8,484.5" fill="none" stroke="#0a38ff" stroke-width="1.1" stroke-linecap="round" filter="url(#bs)" opacity="0.37"/><path d="M550.3,551.2 L547.4,557.9" fill="none" stroke="#0a38ff" stroke-width="1.1" stroke-linecap="round" filter="url(#bs)" opacity="0.35"/><path d="M600.1,471.7 L599.8,477.4" fill="none" stroke="#0a38ff" stroke-width="1.1" stroke-linecap="round" filter="url(#bs)" opacity="0.27"/><path d="M578.2,533.8 L575.7,541.8" fill="none" stroke="#0a38ff" stroke-width="1.1" stroke-linecap="round" filter="url(#bs)" opacity="0.47"/><path d="M591.1,484.8 L590.7,492.3" fill="none" stroke="#0a38ff" stroke-width="1.1" stroke-linecap="round" filter="url(#bs)" opacity="0.27"/><path d="M501.7,472.9 L504.2,477.9" fill="none" stroke="#0a38ff" stroke-width="1.1" stroke-linecap="round" filter="url(#bs)" opacity="0.43"/><path d="M505.3,470.4 L505.4,475.9" fill="none" stroke="#0a38ff" stroke-width="1.1" stroke-linecap="round" filter="url(#bs)" opacity="0.3"/><path d="M608.4,557.0 L605.2,565.5" fill="none" stroke="#0a38ff" stroke-width="1.1" stroke-linecap="round" filter="url(#bs)" opacity="0.35"/><path d="M532.5,482.9 L531.9,489.5" fill="none" stroke="#0a38ff" stroke-width="1.1" stroke-linecap="round" filter="url(#bs)" opacity="0.28"/><path d="M533.6,491.7 L534.2,499.9" fill="none" stroke="#0a38ff" stroke-width="1.1" stroke-linecap="round" filter="url(#bs)" opacity="0.27"/><path d="M527.8,500.8 L526.8,504.8" fill="none" stroke="#0a38ff" stroke-width="1.1" stroke-linecap="round" filter="url(#bs)" opacity="0.28"/><path d="M539.7,560.3 L538.4,564.6" fill="none" stroke="#0a38ff" stroke-width="1.1" stroke-linecap="round" filter="url(#bs)" opacity="0.3"/><path d="M528.8,539.3 L525.8,545.5" fill="none" stroke="#0a38ff" stroke-width="1.1" stroke-linecap="round" filter="url(#bs)" opacity="0.46"/><path d="M546.6,534.5 L543.2,543.1" fill="none" stroke="#0a38ff" stroke-width="1.1" stroke-linecap="round" filter="url(#bs)" opacity="0.44"/><path d="M589.5,514.2 L588.2,523.0" fill="none" stroke="#0a38ff" stroke-width="1.1" stroke-linecap="round" filter="url(#bs)" opacity="0.41"/><path d="M548.3,517.8 L550.4,521.8" fill="none" stroke="#0a38ff" stroke-width="1.1" stroke-linecap="round" filter="url(#bs)" opacity="0.34"/><path d="M599.0,525.3 L601.2,529.7" fill="none" stroke="#0a38ff" stroke-width="1.1" stroke-linecap="round" filter="url(#bs)" opacity="0.43"/><path d="M603.3,510.5 L604.5,517.6" fill="none" stroke="#0a38ff" stroke-width="1.1" stroke-linecap="round" filter="url(#bs)" opacity="0.37"/></g>
<g filter="url(#bf)" opacity="1.00"><path d="M553.2,464.7 C553.1,466.6 552.9,472.9 552.8,475.9 C552.7,478.9 552.6,480.2 552.6,482.8 C552.6,485.4 552.3,488.9 552.6,491.2 C552.9,493.5 553.8,494.8 554.6,496.7 C555.4,498.6 556.7,500.7 557.4,502.3 C558.1,503.9 558.6,505.8 558.8,506.5" fill="none" stroke="#0000ff" stroke-width="1.13" stroke-linecap="round" stroke-linejoin="round"/><path d="M553.2,464.7 C553.1,466.6 552.9,472.9 552.8,475.9 C552.7,478.9 552.6,480.2 552.6,482.8 C552.6,485.4 552.3,488.9 552.6,491.2 C552.9,493.5 553.8,494.8 554.6,496.7 C555.4,498.6 556.7,500.7 557.4,502.3 C558.1,503.9 558.6,505.8 558.8,506.5" fill="none" stroke="#0050ff" stroke-width="0.68" stroke-linecap="round" stroke-linejoin="round"/></g>
<g filter="url(#bf)" opacity="1.00"><path d="M558.8,506.5 C558.8,507.2 558.7,508.8 558.8,510.6 C558.9,512.5 559.1,513.5 559.2,517.6 C559.3,521.7 559.2,529.3 559.2,535.0 C559.2,540.7 559.2,546.8 559.2,552.0 C559.2,557.2 559.2,563.7 559.2,566.0" fill="none" stroke="#0000ff" stroke-width="1.73" stroke-linecap="round" stroke-linejoin="round"/><path d="M558.8,506.5 C558.8,507.2 558.7,508.8 558.8,510.6 C558.9,512.5 559.1,513.5 559.2,517.6 C559.3,521.7 559.2,529.3 559.2,535.0 C559.2,540.7 559.2,546.8 559.2,552.0 C559.2,557.2 559.2,563.7 559.2,566.0" fill="none" stroke="#0050ff" stroke-width="1.27" stroke-linecap="round" stroke-linejoin="round"/><path d="M558.8,506.5 C558.8,507.2 558.7,508.8 558.8,510.6 C558.9,512.5 559.1,513.5 559.2,517.6 C559.3,521.7 559.2,529.3 559.2,535.0 C559.2,540.7 559.2,546.8 559.2,552.0 C559.2,557.2 559.2,563.7 559.2,566.0" fill="none" stroke="#00a0ff" stroke-width="0.90" stroke-linecap="round" stroke-linejoin="round"/><path d="M558.8,506.5 C558.8,507.2 558.7,508.8 558.8,510.6 C558.9,512.5 559.1,513.5 559.2,517.6 C559.3,521.7 559.2,529.3 559.2,535.0 C559.2,540.7 559.2,546.8 559.2,552.0 C559.2,557.2 559.2,563.7 559.2,566.0" fill="none" stroke="#00e8ff" stroke-width="0.49" stroke-linecap="round" stroke-linejoin="round"/></g>
<g filter="url(#bf)" opacity="1.00"><path d="M558.3,510.6 C557.8,511.8 556.2,515.3 555.3,517.6 C554.3,519.9 553.4,522.4 552.6,524.5 C551.8,526.6 551.1,528.4 550.5,530.1 C549.9,531.9 549.6,532.5 549.1,535.0 C548.6,537.5 547.8,543.3 547.5,545.0" fill="none" stroke="#0000ff" stroke-width="2.30" stroke-linecap="round" stroke-linejoin="round"/><path d="M558.3,510.6 C557.8,511.8 556.2,515.3 555.3,517.6 C554.3,519.9 553.4,522.4 552.6,524.5 C551.8,526.6 551.1,528.4 550.5,530.1 C549.9,531.9 549.6,532.5 549.1,535.0 C548.6,537.5 547.8,543.3 547.5,545.0" fill="none" stroke="#0050ff" stroke-width="1.78" stroke-linecap="round" stroke-linejoin="round"/><path d="M558.3,510.6 C557.8,511.8 556.2,515.3 555.3,517.6 C554.3,519.9 553.4,522.4 552.6,524.5 C551.8,526.6 551.1,528.4 550.5,530.1 C549.9,531.9 549.6,532.5 549.1,535.0 C548.6,537.5 547.8,543.3 547.5,545.0" fill="none" stroke="#00a0ff" stroke-width="1.39" stroke-linecap="round" stroke-linejoin="round"/><path d="M558.3,510.6 C557.8,511.8 556.2,515.3 555.3,517.6 C554.3,519.9 553.4,522.4 552.6,524.5 C551.8,526.6 551.1,528.4 550.5,530.1 C549.9,531.9 549.6,532.5 549.1,535.0 C548.6,537.5 547.8,543.3 547.5,545.0" fill="none" stroke="#00e8ff" stroke-width="1.02" stroke-linecap="round" stroke-linejoin="round"/><path d="M558.3,510.6 C557.8,511.8 556.2,515.3 555.3,517.6 C554.3,519.9 553.4,522.4 552.6,524.5 C551.8,526.6 551.1,528.4 550.5,530.1 C549.9,531.9 549.6,532.5 549.1,535.0 C548.6,537.5 547.8,543.3 547.5,545.0" fill="none" stroke="#70ffa0" stroke-width="0.59" stroke-linecap="round" stroke-linejoin="round"/></g>
<g filter="url(#bf)" opacity="1.00"><path d="M559.5,510.0 C560.2,510.8 562.3,512.8 563.7,514.8 C565.1,516.8 566.8,519.5 567.9,521.8 C569.0,524.1 569.9,526.5 570.6,528.7 C571.3,530.9 571.6,532.3 572.0,535.0 C572.4,537.7 572.8,543.3 573.0,545.0" fill="none" stroke="#0000ff" stroke-width="2.29" stroke-linecap="round" stroke-linejoin="round"/><path d="M559.5,510.0 C560.2,510.8 562.3,512.8 563.7,514.8 C565.1,516.8 566.8,519.5 567.9,521.8 C569.0,524.1 569.9,526.5 570.6,528.7 C571.3,530.9 571.6,532.3 572.0,535.0 C572.4,537.7 572.8,543.3 573.0,545.0" fill="none" stroke="#0050ff" stroke-width="1.76" stroke-linecap="round" stroke-linejoin="round"/><path d="M559.5,510.0 C560.2,510.8 562.3,512.8 563.7,514.8 C565.1,516.8 566.8,519.5 567.9,521.8 C569.0,524.1 569.9,526.5 570.6,528.7 C571.3,530.9 571.6,532.3 572.0,535.0 C572.4,537.7 572.8,543.3 573.0,545.0" fill="none" stroke="#00a0ff" stroke-width="1.37" stroke-linecap="round" stroke-linejoin="round"/><path d="M559.5,510.0 C560.2,510.8 562.3,512.8 563.7,514.8 C565.1,516.8 566.8,519.5 567.9,521.8 C569.0,524.1 569.9,526.5 570.6,528.7 C571.3,530.9 571.6,532.3 572.0,535.0 C572.4,537.7 572.8,543.3 573.0,545.0" fill="none" stroke="#00e8ff" stroke-width="0.99" stroke-linecap="round" stroke-linejoin="round"/><path d="M559.5,510.0 C560.2,510.8 562.3,512.8 563.7,514.8 C565.1,516.8 566.8,519.5 567.9,521.8 C569.0,524.1 569.9,526.5 570.6,528.7 C571.3,530.9 571.6,532.3 572.0,535.0 C572.4,537.7 572.8,543.3 573.0,545.0" fill="none" stroke="#70ffa0" stroke-width="0.54" stroke-linecap="round" stroke-linejoin="round"/></g>
<g filter="url(#bf)" opacity="1.00"><path d="M562.3,507.9 C563.7,508.1 568.0,508.3 570.6,509.2 C573.2,510.1 575.3,512.0 577.6,513.4 C579.9,514.8 583.4,516.9 584.5,517.6" fill="none" stroke="#0000ff" stroke-width="1.33" stroke-linecap="round" stroke-linejoin="round"/><path d="M562.3,507.9 C563.7,508.1 568.0,508.3 570.6,509.2 C573.2,510.1 575.3,512.0 577.6,513.4 C579.9,514.8 583.4,516.9 584.5,517.6" fill="none" stroke="#0050ff" stroke-width="0.81" stroke-linecap="round" stroke-linejoin="round"/></g>
<g filter="url(#bf)" opacity="1.00"><path d="M559.5,503.0 C560.9,502.9 565.6,502.0 567.9,502.3 C570.2,502.6 572.5,504.6 573.4,505.0" fill="none" stroke="#0000ff" stroke-width="1.29" stroke-linecap="round" stroke-linejoin="round"/><path d="M559.5,503.0 C560.9,502.9 565.6,502.0 567.9,502.3 C570.2,502.6 572.5,504.6 573.4,505.0" fill="none" stroke="#0050ff" stroke-width="0.74" stroke-linecap="round" stroke-linejoin="round"/></g>
<g filter="url(#bf)" opacity="1.00"><path d="M551.9,491.2 C551.1,491.9 549.0,494.1 547.0,495.3 C545.0,496.5 541.2,497.6 540.0,498.1" fill="none" stroke="#0000ff" stroke-width="1.33" stroke-linecap="round" stroke-linejoin="round"/><path d="M551.9,491.2 C551.1,491.9 549.0,494.1 547.0,495.3 C545.0,496.5 541.2,497.6 540.0,498.1" fill="none" stroke="#0050ff" stroke-width="0.81" stroke-linecap="round" stroke-linejoin="round"/></g>
<g filter="url(#bf)" opacity="1.00"><path d="M556.0,515.0 C555.5,517.5 553.8,525.0 553.0,530.0 C552.2,535.0 551.5,540.0 551.0,545.0 C550.5,550.0 550.2,557.5 550.0,560.0" fill="none" stroke="#0000ff" stroke-width="1.22" stroke-linecap="round" stroke-linejoin="round"/><path d="M556.0,515.0 C555.5,517.5 553.8,525.0 553.0,530.0 C552.2,535.0 551.5,540.0 551.0,545.0 C550.5,550.0 550.2,557.5 550.0,560.0" fill="none" stroke="#0050ff" stroke-width="0.60" stroke-linecap="round" stroke-linejoin="round"/></g>
<g filter="url(#bf)" opacity="1.00"><path d="M562.0,515.0 C562.5,517.8 564.3,526.5 565.0,532.0 C565.7,537.5 565.7,543.0 566.0,548.0 C566.3,553.0 566.8,559.7 567.0,562.0" fill="none" stroke="#0000ff" stroke-width="1.22" stroke-linecap="round" stroke-linejoin="round"/><path d="M562.0,515.0 C562.5,517.8 564.3,526.5 565.0,532.0 C565.7,537.5 565.7,543.0 566.0,548.0 C566.3,553.0 566.8,559.7 567.0,562.0" fill="none" stroke="#0050ff" stroke-width="0.60" stroke-linecap="round" stroke-linejoin="round"/></g>
<g filter="url(#bf)" opacity="1.00"><path d="M547.5,545.0 C547.2,546.8 546.4,552.7 546.0,556.0 C545.6,559.3 545.2,563.5 545.0,565.0" fill="none" stroke="#0000ff" stroke-width="1.33" stroke-linecap="round" stroke-linejoin="round"/><path d="M547.5,545.0 C547.2,546.8 546.4,552.7 546.0,556.0 C545.6,559.3 545.2,563.5 545.0,565.0" fill="none" stroke="#0050ff" stroke-width="0.81" stroke-linecap="round" stroke-linejoin="round"/></g>
<g filter="url(#bf)" opacity="1.00"><path d="M573.0,545.0 C573.2,546.8 573.7,552.7 574.0,556.0 C574.3,559.3 574.8,563.5 575.0,565.0" fill="none" stroke="#0000ff" stroke-width="1.33" stroke-linecap="round" stroke-linejoin="round"/><path d="M573.0,545.0 C573.2,546.8 573.7,552.7 574.0,556.0 C574.3,559.3 574.8,563.5 575.0,565.0" fill="none" stroke="#0050ff" stroke-width="0.81" stroke-linecap="round" stroke-linejoin="round"/></g>
<g filter="url(#bf)" opacity="1.00"><path d="M544.0,540.0 C543.0,542.0 539.7,547.8 538.0,552.0 C536.3,556.2 534.7,562.8 534.0,565.0" fill="none" stroke="#0000ff" stroke-width="1.00" stroke-linecap="round" stroke-linejoin="round"/><path d="M544.0,540.0 C543.0,542.0 539.7,547.8 538.0,552.0 C536.3,556.2 534.7,562.8 534.0,565.0" fill="none" stroke="#0050ff" stroke-width="0.35" stroke-linecap="round" stroke-linejoin="round"/></g>
<g filter="url(#bs)" opacity="1.00"><ellipse cx="548.4" cy="487.7" rx="1.00" ry="1.00" fill="#0000ff"/><ellipse cx="548.4" cy="487.7" rx="0.61" ry="0.61" fill="#0050ff"/></g>
<g filter="url(#bf)" opacity="1.00"><path d="M547.5,545.0 C547.3,546.8 546.8,552.5 546.5,556.0 C546.2,559.5 546.1,564.3 546.0,566.0" fill="none" stroke="#0000ff" stroke-width="1.58" stroke-linecap="round" stroke-linejoin="round"/><path d="M547.5,545.0 C547.3,546.8 546.8,552.5 546.5,556.0 C546.2,559.5 546.1,564.3 546.0,566.0" fill="none" stroke="#0050ff" stroke-width="1.06" stroke-linecap="round" stroke-linejoin="round"/><path d="M547.5,545.0 C547.3,546.8 546.8,552.5 546.5,556.0 C546.2,559.5 546.1,564.3 546.0,566.0" fill="none" stroke="#00a0ff" stroke-width="0.56" stroke-linecap="round" stroke-linejoin="round"/></g>
<g filter="url(#bf)" opacity="1.00"><path d="M573.0,545.0 C573.2,546.8 573.8,552.5 574.0,556.0 C574.2,559.5 574.4,564.3 574.5,566.0" fill="none" stroke="#0000ff" stroke-width="1.58" stroke-linecap="round" stroke-linejoin="round"/><path d="M573.0,545.0 C573.2,546.8 573.8,552.5 574.0,556.0 C574.2,559.5 574.4,564.3 574.5,566.0" fill="none" stroke="#0050ff" stroke-width="1.06" stroke-linecap="round" stroke-linejoin="round"/><path d="M573.0,545.0 C573.2,546.8 573.8,552.5 574.0,556.0 C574.2,559.5 574.4,564.3 574.5,566.0" fill="none" stroke="#00a0ff" stroke-width="0.56" stroke-linecap="round" stroke-linejoin="round"/></g>
<g filter="url(#bf)" opacity="1.00"><ellipse cx="558.8" cy="510.8" rx="1.80" ry="2.60" fill="#0000ff"/><ellipse cx="558.8" cy="510.8" rx="1.48" ry="2.14" fill="#0050ff"/><ellipse cx="558.8" cy="510.8" rx="1.26" ry="1.82" fill="#00a0ff"/><ellipse cx="558.8" cy="510.8" rx="1.07" ry="1.55" fill="#00e8ff"/><ellipse cx="558.8" cy="510.8" rx="0.90" ry="1.31" fill="#70ffa0"/><ellipse cx="558.8" cy="510.8" rx="0.74" ry="1.06" fill="#d8ff28"/><ellipse cx="558.8" cy="510.8" rx="0.56" ry="0.80" fill="#ffc000"/><ellipse cx="558.8" cy="510.8" rx="0.33" ry="0.48" fill="#ff5000"/></g>
<g filter="url(#bf)" opacity="1.00"><ellipse cx="553.2" cy="464.2" rx="0.90" ry="0.90" fill="#0000ff"/><ellipse cx="553.2" cy="464.2" rx="0.68" ry="0.68" fill="#0050ff"/><ellipse cx="553.2" cy="464.2" rx="0.51" ry="0.51" fill="#00a0ff"/><ellipse cx="553.2" cy="464.2" rx="0.34" ry="0.34" fill="#00e8ff"/></g>
<path d="M551.50,450.2 L554.90,450.2 L554.80,458.51 Q554.56,462.40 553.20,463.6 Q551.84,462.40 551.60,458.51 Z" fill="#fffff2" stroke="#4a4a40" stroke-width="0.35" stroke-opacity="0.75"/></g>
<path d="M5.0,570.8 Q6.0,567 9.0,567 L116.9,567 Q119.9,567 120.9,570.8" fill="none" stroke="#666" stroke-width="0.9"/><path d="M60.8,569.2 h4.4 M63.0,567 v4.8" stroke="#777" stroke-width="1"/><path d="M61.5,570.3 L64.5,570.3 L63.0,572 Z" fill="#777"/>
<path d="M127.9,570.8 Q128.9,567 131.9,567 L240.7,567 Q243.7,567 244.7,570.8" fill="none" stroke="#666" stroke-width="0.9"/><path d="M184.1,569.2 h4.4 M186.3,567 v4.8" stroke="#777" stroke-width="1"/><path d="M184.8,570.3 L187.8,570.3 L186.3,572 Z" fill="#777"/>
<path d="M251.7,570.8 Q252.7,567 255.7,567 L362.1,567 Q365.1,567 366.1,570.8" fill="none" stroke="#666" stroke-width="0.9"/><path d="M306.7,569.2 h4.4 M308.9,567 v4.8" stroke="#777" stroke-width="1"/><path d="M307.4,570.3 L310.4,570.3 L308.9,572 Z" fill="#777"/>
<path d="M373.1,570.8 Q374.1,567 377.1,567 L485.5,567 Q488.5,567 489.5,570.8" fill="none" stroke="#666" stroke-width="0.9"/><path d="M429.1,569.2 h4.4 M431.3,567 v4.8" stroke="#777" stroke-width="1"/><path d="M429.8,570.3 L432.8,570.3 L431.3,572 Z" fill="#777"/>
<path d="M496.5,570.8 Q497.5,567 500.5,567 L607.3,567 Q610.3,567 611.3,570.8" fill="none" stroke="#666" stroke-width="0.9"/><path d="M551.7,569.2 h4.4 M553.9,567 v4.8" stroke="#777" stroke-width="1"/><path d="M552.4,570.3 L555.4,570.3 L553.9,572 Z" fill="#777"/>
</svg></body></html>
